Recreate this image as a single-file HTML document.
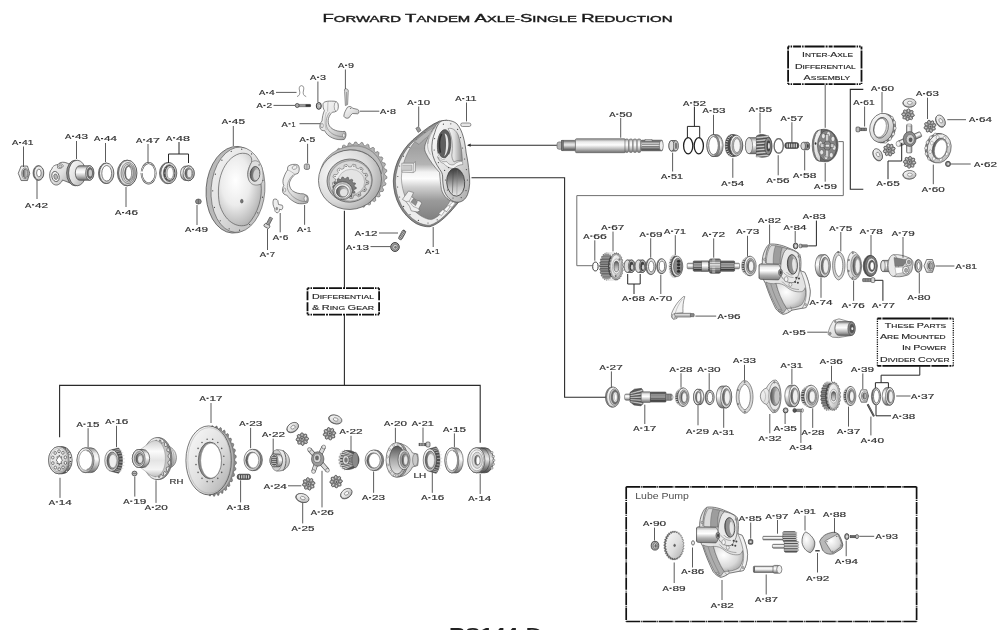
<!DOCTYPE html>
<html><head><meta charset="utf-8"><title>Forward Tandem Axle-Single Reduction</title>
<style>
html,body{margin:0;padding:0;background:#fff;}
body{width:1000px;height:630px;overflow:hidden;font-family:"Liberation Sans",sans-serif;}
svg{display:block;filter:grayscale(1) blur(0.35px);font-family:"Liberation Sans",sans-serif;}
.lb{font-size:7.7px;fill:#333;stroke:#333;stroke-width:0.18;}
.ld{fill:none;stroke:#4a4a4a;stroke-width:0.9;}
.ld2{fill:none;stroke:#262626;stroke-width:1.0;}
.st{fill:none;stroke:#2a2a2a;stroke-width:1.1;}
.st2{fill:none;stroke:#707070;stroke-width:1.0;}
.bx{fill:none;stroke:#111;stroke-width:1.8;stroke-dasharray:17 1.1 1.6 1.1;}
.bt{font-size:7.6px;fill:#333;}
</style></head><body>
<svg width="1000" height="630" viewBox="0 0 1000 630">

<defs>
<linearGradient id="gV" x1="0" y1="0" x2="0" y2="1">
 <stop offset="0" stop-color="#8a8a8a"/><stop offset="0.22" stop-color="#e9e9e9"/><stop offset="0.45" stop-color="#fdfdfd"/>
 <stop offset="0.72" stop-color="#bdbdbd"/><stop offset="1" stop-color="#6e6e6e"/></linearGradient>
<linearGradient id="gVd" x1="0" y1="0" x2="0" y2="1">
 <stop offset="0" stop-color="#5e5e5e"/><stop offset="0.25" stop-color="#c9c9c9"/><stop offset="0.45" stop-color="#ececec"/>
 <stop offset="0.75" stop-color="#8e8e8e"/><stop offset="1" stop-color="#4a4a4a"/></linearGradient>
<linearGradient id="gH" x1="0" y1="0" x2="1" y2="0">
 <stop offset="0" stop-color="#9a9a9a"/><stop offset="0.3" stop-color="#f4f4f4"/><stop offset="0.6" stop-color="#dcdcdc"/>
 <stop offset="1" stop-color="#8c8c8c"/></linearGradient>
<linearGradient id="gF" x1="0" y1="0" x2="1" y2="1">
 <stop offset="0" stop-color="#fbfbfb"/><stop offset="0.55" stop-color="#dedede"/><stop offset="1" stop-color="#a9a9a9"/></linearGradient>
<linearGradient id="gF2" x1="0" y1="0" x2="0" y2="1">
 <stop offset="0" stop-color="#f6f6f6"/><stop offset="0.5" stop-color="#d4d4d4"/><stop offset="1" stop-color="#9c9c9c"/></linearGradient>
<linearGradient id="gHole" x1="0" y1="0" x2="1" y2="0">
 <stop offset="0" stop-color="#5a5a5a"/><stop offset="0.5" stop-color="#9d9d9d"/><stop offset="1" stop-color="#e2e2e2"/></linearGradient>
<linearGradient id="gHoleV" x1="0" y1="0" x2="0" y2="1">
 <stop offset="0" stop-color="#555"/><stop offset="0.5" stop-color="#aaa"/><stop offset="1" stop-color="#e6e6e6"/></linearGradient>
<radialGradient id="gR" cx="0.35" cy="0.35" r="0.8">
 <stop offset="0" stop-color="#ffffff"/><stop offset="0.6" stop-color="#d9d9d9"/><stop offset="1" stop-color="#9a9a9a"/></radialGradient>
<linearGradient id="gBowl" x1="0" y1="0" x2="0" y2="1">
 <stop offset="0" stop-color="#b0b0b0"/><stop offset="0.25" stop-color="#a2a2a2"/><stop offset="0.42" stop-color="#b4b4b4"/><stop offset="0.5" stop-color="#f2f2f2"/><stop offset="0.57" stop-color="#fdfdfd"/>
 <stop offset="0.66" stop-color="#cfcfcf"/><stop offset="0.8" stop-color="#9a9a9a"/><stop offset="1" stop-color="#808080"/></linearGradient>
<linearGradient id="gWeb" x1="0" y1="0" x2="1" y2="0">
 <stop offset="0" stop-color="#fafafa"/><stop offset="0.45" stop-color="#dedede"/><stop offset="1" stop-color="#8c8c8c"/></linearGradient>
<linearGradient id="gHoleD" x1="0" y1="0" x2="0" y2="1">
 <stop offset="0" stop-color="#3c3c3c"/><stop offset="0.35" stop-color="#7a7a7a"/><stop offset="0.7" stop-color="#c4c4c4"/><stop offset="1" stop-color="#e9e9e9"/></linearGradient>
<linearGradient id="gDome" x1="0" y1="0" x2="0" y2="1">
 <stop offset="0" stop-color="#cfcfcf"/><stop offset="0.3" stop-color="#fbfbfb"/><stop offset="0.55" stop-color="#e4e4e4"/><stop offset="0.8" stop-color="#f4f4f4"/><stop offset="1" stop-color="#bdbdbd"/></linearGradient>
<linearGradient id="gVb" x1="0" y1="0" x2="0" y2="1">
 <stop offset="0" stop-color="#a5a5a5"/><stop offset="0.22" stop-color="#f1f1f1"/><stop offset="0.42" stop-color="#ffffff"/>
 <stop offset="0.7" stop-color="#b3b3b3"/><stop offset="1" stop-color="#7d7d7d"/></linearGradient>
<linearGradient id="gFl" x1="0" y1="0" x2="1" y2="1">
 <stop offset="0" stop-color="#f4f4f4"/><stop offset="0.5" stop-color="#dedede"/><stop offset="1" stop-color="#b5b5b5"/></linearGradient>
<radialGradient id="gPl" cx="0.4" cy="0.38" r="0.75">
 <stop offset="0" stop-color="#ffffff"/><stop offset="0.45" stop-color="#ececec"/><stop offset="0.8" stop-color="#bdbdbd"/><stop offset="1" stop-color="#9b9b9b"/></radialGradient>
</defs>
<rect x="0" y="0" width="1000" height="630" fill="#fff"/>
<text x="322.5" y="22.4" textLength="350.0" lengthAdjust="spacingAndGlyphs" font-weight="normal" fill="#1a1a1a" stroke="#1a1a1a" stroke-width="0.4"><tspan font-size="11.8">F</tspan><tspan font-size="9.5">O</tspan><tspan font-size="9.5">R</tspan><tspan font-size="9.5">W</tspan><tspan font-size="9.5">A</tspan><tspan font-size="9.5">R</tspan><tspan font-size="9.5">D</tspan><tspan font-size="9.5"> </tspan><tspan font-size="11.8">T</tspan><tspan font-size="9.5">A</tspan><tspan font-size="9.5">N</tspan><tspan font-size="9.5">D</tspan><tspan font-size="9.5">E</tspan><tspan font-size="9.5">M</tspan><tspan font-size="9.5"> </tspan><tspan font-size="11.8">A</tspan><tspan font-size="9.5">X</tspan><tspan font-size="9.5">L</tspan><tspan font-size="9.5">E</tspan><tspan font-size="9.5">-</tspan><tspan font-size="11.8">S</tspan><tspan font-size="9.5">I</tspan><tspan font-size="9.5">N</tspan><tspan font-size="9.5">G</tspan><tspan font-size="9.5">L</tspan><tspan font-size="9.5">E</tspan><tspan font-size="9.5"> </tspan><tspan font-size="11.8">R</tspan><tspan font-size="9.5">E</tspan><tspan font-size="9.5">D</tspan><tspan font-size="9.5">U</tspan><tspan font-size="9.5">C</tspan><tspan font-size="9.5">T</tspan><tspan font-size="9.5">I</tspan><tspan font-size="9.5">O</tspan><tspan font-size="9.5">N</tspan></text>
<path d="M18.25,173.3 L21.12,166.05 L27.45,166.05 L29.75,173.3 L27.45,180.55 L21.12,180.55 Z" fill="url(#gF)" stroke="#404040" stroke-width="0.7" stroke-linejoin="round" />
<ellipse cx="24.92" cy="173.3" rx="3.3" ry="5.4" fill="#e8e8e8" stroke="#404040" stroke-width="0.49" />
<ellipse cx="25.15" cy="173.3" rx="2.3" ry="4.2" fill="url(#gHole)" stroke="#404040" stroke-width="0.56" />
<ellipse cx="38.3" cy="173" rx="5.2" ry="7.3" fill="#9a9a9a" stroke="#404040" stroke-width="0.7" />
<g>
<ellipse cx="38.9" cy="173" rx="4.9" ry="7.1" fill="url(#gF)" stroke="#404040" stroke-width="0.7" />
<ellipse cx="38.9" cy="173" rx="2.3" ry="3.9" fill="#fff" stroke="#404040" stroke-width="0.63" />
</g>
<path d="M70,164.5 C64,161 60,162 58,164.5 C54,165 52,167 52,169 C49.5,170.5 49,176 50.5,180 C52,184.5 56,186 58.5,184.5 C61,183 62,181.5 62.5,180 L70,183 Z" fill="url(#gF)" stroke="#404040" stroke-width="0.7" stroke-linejoin="round" />
<path d="M57.5,164.8 C60,163 62.5,163.5 63.5,166 C62,168.5 59.5,169 57.5,168 Z" fill="#e9e9e9" stroke="#404040" stroke-width="0.5" stroke-linejoin="round" />
<ellipse cx="55.5" cy="176.5" rx="3.6" ry="5.2" fill="#efefef" stroke="#404040" stroke-width="0.7" transform="rotate(-15 55.5 176.5)" />
<ellipse cx="55.7" cy="176.7" rx="1.8" ry="2.8" fill="#b5b5b5" stroke="#404040" stroke-width="0.5" transform="rotate(-15 55.7 176.7)" />
<ellipse cx="60.3" cy="166.3" rx="1.7" ry="1.4" fill="#cfcfcf" stroke="#404040" stroke-width="0.4" />
<ellipse cx="75.2" cy="173" rx="8.6" ry="12.8" fill="#8f8f8f" stroke="#404040" stroke-width="0.7" />
<ellipse cx="77.2" cy="173" rx="8.6" ry="12.8" fill="url(#gF)" stroke="#404040" stroke-width="0.7" />
<path d="M79.5,165.8 A4.2,7.2 0 0 0 79.5,180.2 L89.7,180.2 A4.2,7.2 0 0 0 89.7,165.8 Z" fill="url(#gV)" stroke="#404040" stroke-width="0.7" stroke-linejoin="round" />
<ellipse cx="89.7" cy="173" rx="4" ry="7.2" fill="#e3e3e3" stroke="#404040" stroke-width="0.7" />
<ellipse cx="89.9" cy="173" rx="2.9" ry="5.6" fill="#6b6b6b" stroke="#404040" stroke-width="0.5" />
<ellipse cx="90.3" cy="173" rx="1.7" ry="3.6" fill="#c9c9c9" stroke="none" stroke-width="0.7" />
<ellipse cx="105.9" cy="173.3" rx="7.4" ry="10.3" fill="#9a9a9a" stroke="#404040" stroke-width="0.7" />
<g>
<ellipse cx="106.7" cy="173.3" rx="7.2" ry="10.2" fill="url(#gF)" stroke="#404040" stroke-width="0.7" />
<ellipse cx="106.7" cy="173.3" rx="4.9" ry="7.8" fill="#fff" stroke="#404040" stroke-width="0.63" />
</g>
<ellipse cx="127" cy="173" rx="9.6" ry="12.9" fill="#a5a5a5" stroke="#404040" stroke-width="0.7" />
<ellipse cx="127.8" cy="173" rx="9.2" ry="12.7" fill="url(#gF)" stroke="#404040" stroke-width="0.7" />
<ellipse cx="128.2" cy="173" rx="7.2" ry="10.6" fill="#d2d2d2" stroke="#404040" stroke-width="0.5" />
<ellipse cx="128.6" cy="173" rx="5.6" ry="8.9" fill="#f1f1f1" stroke="#404040" stroke-width="0.5" />
<ellipse cx="129" cy="173" rx="4.3" ry="7.6" fill="url(#gHole)" stroke="#404040" stroke-width="0.6" />
<ellipse cx="128.6" cy="173" rx="3" ry="6.6" fill="#fff" stroke="#404040" stroke-width="0.5" />
<ellipse cx="148.6" cy="173.2" rx="7" ry="10.2" fill="none" stroke="#555" stroke-width="2" />
<ellipse cx="148.6" cy="173.2" rx="7" ry="10.2" fill="none" stroke="#dcdcdc" stroke-width="0.9" />
<rect x="140.2" y="171.4" width="3.2" height="1.7" rx="0" fill="#fff" stroke="none" stroke-width="0.7" />
<ellipse cx="167.8" cy="173.1" rx="8.3" ry="10.6" fill="#9a9a9a" stroke="#404040" stroke-width="0.7" />
<ellipse cx="168.8" cy="173.1" rx="8" ry="10.5" fill="url(#gF)" stroke="#404040" stroke-width="0.7" />
<ellipse cx="169.3" cy="173.1" rx="5.9" ry="8.4" fill="#4e4e4e" stroke="#404040" stroke-width="0.5" />
<ellipse cx="169.9" cy="173.1" rx="4.6" ry="7.3" fill="#d9d9d9" stroke="#404040" stroke-width="0.4" />
<line x1="174.1" y1="173.1" x2="175.4" y2="173.1" stroke="#ddd" stroke-width="0.5"/>
<line x1="173.24" y1="177.33" x2="174.29" y2="177.98" stroke="#ddd" stroke-width="0.5"/>
<line x1="170.99" y1="179.95" x2="171.39" y2="180.99" stroke="#ddd" stroke-width="0.5"/>
<line x1="168.21" y1="179.95" x2="167.81" y2="180.99" stroke="#ddd" stroke-width="0.5"/>
<line x1="165.96" y1="177.33" x2="164.91" y2="177.98" stroke="#ddd" stroke-width="0.5"/>
<line x1="165.1" y1="173.1" x2="163.8" y2="173.1" stroke="#ddd" stroke-width="0.5"/>
<line x1="165.96" y1="168.87" x2="164.91" y2="168.22" stroke="#ddd" stroke-width="0.5"/>
<line x1="168.21" y1="166.25" x2="167.81" y2="165.21" stroke="#ddd" stroke-width="0.5"/>
<line x1="170.99" y1="166.25" x2="171.39" y2="165.21" stroke="#ddd" stroke-width="0.5"/>
<line x1="173.24" y1="168.87" x2="174.29" y2="168.22" stroke="#ddd" stroke-width="0.5"/>
<ellipse cx="170.2" cy="173.1" rx="3.2" ry="6" fill="#fff" stroke="#404040" stroke-width="0.5" />
<path d="M188.6,165.9 A5.6,7.4 0 0 1 188.6,180.7 L184.6,180.3 A5.2,7.2 0 0 1 184.6,166.3 Z" fill="url(#gV)" stroke="#404040" stroke-width="0.7" stroke-linejoin="round" />
<ellipse cx="188.6" cy="173.3" rx="5.6" ry="7.4" fill="url(#gF)" stroke="#404040" stroke-width="0.7" />
<ellipse cx="188.8" cy="173.3" rx="3.9" ry="5.6" fill="url(#gHole)" stroke="#404040" stroke-width="0.5" />
<ellipse cx="189.4" cy="173.4" rx="2.4" ry="4.2" fill="#e9e9e9" stroke="#404040" stroke-width="0.4" />
<ellipse cx="198.4" cy="201.5" rx="2.9" ry="2.5" fill="#8c8c8c" stroke="#404040" stroke-width="0.6" />
<line x1="198.4" y1="199.2" x2="198.4" y2="203.8" stroke="#444" stroke-width="0.5"/>
<g transform="rotate(4 235.7 189.6)">
<ellipse cx="235" cy="189.8" rx="28.9" ry="43.4" fill="#b9b9b9" stroke="#444" stroke-width="0.7" />
<ellipse cx="238" cy="189.6" rx="26.9" ry="42.7" fill="url(#gFl)" stroke="#555" stroke-width="0.6" />
</g>
<path d="M239.5,153.6 C248,152 253,156 251.5,162.4 C248.5,168 246.5,172.5 248.5,179 C251,185 258,184.6 261,184 C262.6,196 258.5,214 247.5,224.6 C237,229 224,221 219.4,203.6 C215.4,181 223.5,158.6 239.5,153.6 Z" fill="url(#gPl)" stroke="#5a5a5a" stroke-width="0.7" stroke-linejoin="round" />
<path d="M251.5,162.4 C254,159.4 260,160 262,167.6 C263.8,175 263.6,181 261,184 C256,186.4 250,185 248.5,179 C247,173 249,167 251.5,162.4 Z" fill="#dedede" stroke="#666" stroke-width="0.6" stroke-linejoin="round" />
<ellipse cx="255" cy="173.9" rx="4.8" ry="7.4" fill="url(#gHole)" stroke="#3f3f3f" stroke-width="0.8" transform="rotate(5 255 173.9)" />
<ellipse cx="256.2" cy="174.9" rx="3" ry="5.3" fill="#cfcfcf" stroke="none" stroke-width="0.7" transform="rotate(5 256.2 174.9)" />
<ellipse cx="241.8" cy="201.2" rx="1.3" ry="1.9" fill="#777" stroke="#444" stroke-width="0.5" />
<ellipse cx="262.49" cy="197.17" rx="0.6" ry="0.6" fill="#3f3f3f" stroke="none" stroke-width="0.7" />
<ellipse cx="257.8" cy="212.82" rx="0.6" ry="0.6" fill="#3f3f3f" stroke="none" stroke-width="0.7" />
<ellipse cx="249.69" cy="224.49" rx="0.6" ry="0.6" fill="#3f3f3f" stroke="none" stroke-width="0.7" />
<ellipse cx="239.56" cy="230.15" rx="0.6" ry="0.6" fill="#3f3f3f" stroke="none" stroke-width="0.7" />
<ellipse cx="229.15" cy="228.83" rx="0.6" ry="0.6" fill="#3f3f3f" stroke="none" stroke-width="0.7" />
<ellipse cx="220.27" cy="220.75" rx="0.6" ry="0.6" fill="#3f3f3f" stroke="none" stroke-width="0.7" />
<ellipse cx="214.46" cy="207.32" rx="0.6" ry="0.6" fill="#3f3f3f" stroke="none" stroke-width="0.7" />
<ellipse cx="212.72" cy="190.85" rx="0.6" ry="0.6" fill="#3f3f3f" stroke="none" stroke-width="0.7" />
<ellipse cx="215.35" cy="174.19" rx="0.6" ry="0.6" fill="#3f3f3f" stroke="none" stroke-width="0.7" />
<ellipse cx="221.89" cy="160.22" rx="0.6" ry="0.6" fill="#3f3f3f" stroke="none" stroke-width="0.7" />
<ellipse cx="231.22" cy="151.36" rx="0.6" ry="0.6" fill="#3f3f3f" stroke="none" stroke-width="0.7" />
<ellipse cx="241.72" cy="149.15" rx="0.6" ry="0.6" fill="#3f3f3f" stroke="none" stroke-width="0.7" />
<ellipse cx="251.57" cy="153.95" rx="0.6" ry="0.6" fill="#3f3f3f" stroke="none" stroke-width="0.7" />
<ellipse cx="259.08" cy="164.95" rx="0.6" ry="0.6" fill="#3f3f3f" stroke="none" stroke-width="0.7" />
<ellipse cx="262.94" cy="180.23" rx="0.6" ry="0.6" fill="#3f3f3f" stroke="none" stroke-width="0.7" />
<path d="M297,96.6 C299.5,95.8 300.3,93.5 299.6,91 C298.6,88 299.5,85.6 301.5,85.6 C303.5,85.6 304.4,88 303.4,91 C302.7,93.5 303.5,95.8 306.2,96.6" fill="none" stroke="#666" stroke-width="0.7" stroke-linejoin="round" />
<rect x="298" y="104.4" width="12.6" height="2.3" rx="0.6" fill="#9a9a9a" stroke="#444" stroke-width="0.5" />
<rect x="305.6" y="104.4" width="5" height="2.3" rx="0" fill="#333" stroke="none" stroke-width="0.7" />
<ellipse cx="297.2" cy="105.5" rx="1.9" ry="2.1" fill="#aaa" stroke="#333" stroke-width="0.7" />
<ellipse cx="318.8" cy="105.9" rx="2.5" ry="3.4" fill="#bdbdbd" stroke="#3a3a3a" stroke-width="1" />
<ellipse cx="319.1" cy="105.9" rx="1" ry="1.6" fill="#eee" stroke="#555" stroke-width="0.4" />
<path d="M344.6,91.6 C344,89 345,88.6 346.3,88.8 C348,89 348.7,90.5 348.2,92.5 L347.6,104.6 L345.4,105.6 Z" fill="#d8d8d8" stroke="#555" stroke-width="0.6" stroke-linejoin="round" />
<line x1="346.5" y1="92" x2="346.4" y2="104.8" stroke="#666" stroke-width="0.5"/>
<path d="M323,104.5 C323,101.5 327,100.8 334,101.2 C337.5,101.3 338.5,104 338.2,107 C338,110.5 336,112.3 332.4,112.2 C328.6,115.5 326.8,121 329.4,126 C332.4,130 338,132 345,131.4 C346.5,132.6 346.4,137.5 344.2,139.5 C340,140 336,139.6 332.6,138 C328.6,136.4 326,133.6 324.6,130.6 C322.6,131 320.6,130 320,128 C319.4,125.4 320.4,122.6 322,121 C322.4,117 323,113.6 324.4,110.6 C323.4,109 323,107 323,104.5 Z" fill="url(#gF)" stroke="#555" stroke-width="0.7" stroke-linejoin="round" />
<path d="M329.6,112.4 C326,117 325,123.6 327.4,128.6 C330.4,134 337,137 344.6,136.6" fill="none" stroke="#777" stroke-width="0.6" stroke-linejoin="round" />
<path d="M326.4,112 C324.4,118 324.6,125 326.4,130" fill="none" stroke="#999" stroke-width="0.5" stroke-linejoin="round" />
<ellipse cx="336.2" cy="106.5" rx="2" ry="4.6" fill="#f3f3f3" stroke="#666" stroke-width="0.5" />
<ellipse cx="322" cy="125.6" rx="1.3" ry="2.2" fill="#eee" stroke="#666" stroke-width="0.5" />
<ellipse cx="343.8" cy="135.4" rx="1.2" ry="2.2" fill="#eee" stroke="#666" stroke-width="0.5" />
<line x1="328" y1="101.3" x2="327.6" y2="111.6" stroke="#888" stroke-width="0.5"/>
<path d="M347.5,107.2 C349.5,106 351.5,106.4 352.5,108.2 L357.5,109.4 C359.5,110 359.6,113 357.8,113.8 L352.5,113.5 C351,114.5 350.2,116 349.2,117.6 C347.5,119 344.6,118 343.8,116.2 C344,113 345.8,110 347.5,107.2 Z" fill="url(#gF)" stroke="#555" stroke-width="0.7" stroke-linejoin="round" />
<ellipse cx="350.6" cy="108.3" rx="0.7" ry="0.6" fill="#777" stroke="none" stroke-width="0.7" />
<path d="M415.8,128.3 L418.6,126.6 L421.0,130.4 L418.2,132.4 Z" fill="#9a9a9a" stroke="#555" stroke-width="0.6" stroke-linejoin="round" />
<rect x="460.7" y="123" width="10.2" height="3.5" rx="1.7" fill="#e6e6e6" stroke="#666" stroke-width="0.7" />
<rect x="304.3" y="164" width="5.2" height="5.4" rx="1.6" fill="#c9c9c9" stroke="#555" stroke-width="0.7" />
<line x1="306.9" y1="164.3" x2="306.9" y2="169.2" stroke="#666" stroke-width="0.5"/>
<path d="M288,166.4 C290,164.4 295,163.6 298,165 C299.8,167 299.6,171 298,173.4 L295,174.4 C291,178 289,182 289.4,185 C290,188 291.4,190 292.6,190.8 C295.6,193 299.6,194 303.4,193.8 L307.2,195.6 C308.6,197.6 308.6,201 307.4,202.8 C304,204 300,204 297.4,203.4 C293,201.6 289,198.6 286.6,195 C284.6,195 283,193.6 282.6,191.6 C282.2,189.4 282.8,187 283.8,185.6 C282.6,183 282.6,179.6 284,177 C285,174 286.4,171.4 287.6,170 C287.4,168.6 287.6,167.4 288,166.4 Z" fill="url(#gF)" stroke="#555" stroke-width="0.7" stroke-linejoin="round" />
<path d="M293.4,174.6 C288.6,179 286.6,184.6 287.6,189 C289,194 295,199.6 302.6,201.4 L307.4,201.6" fill="none" stroke="#777" stroke-width="0.6" stroke-linejoin="round" />
<path d="M287.6,170 C290,170.6 292.6,172.4 295,174.4" fill="none" stroke="#888" stroke-width="0.5" stroke-linejoin="round" />
<ellipse cx="294.6" cy="167.4" rx="2.6" ry="1.8" fill="#f1f1f1" stroke="#666" stroke-width="0.5" transform="rotate(-25 294.6 167.4)" />
<ellipse cx="305.6" cy="198.6" rx="1.5" ry="2.6" fill="#f1f1f1" stroke="#666" stroke-width="0.5" />
<ellipse cx="284.6" cy="190" rx="1.2" ry="1.9" fill="#eee" stroke="#666" stroke-width="0.5" />
<path d="M273.5,199.5 C275,198.6 277,199 277.8,200.5 L278.5,204.5 L282.2,205.2 C283.2,206.5 282.8,209 281.5,209.8 L279.5,209.2 C279.6,211 278.8,212.6 277.2,212.8 C275.5,212.6 274.6,211 274.8,209 C273,206 272.4,202.5 273.5,199.5 Z" fill="#ededed" stroke="#555" stroke-width="0.7" stroke-linejoin="round" />
<ellipse cx="276.8" cy="208.6" rx="0.9" ry="1.3" fill="#999" stroke="#555" stroke-width="0.4" />
<g transform="rotate(28 268.5 222.5)">
<rect x="267.2" y="217" width="3" height="8.2" rx="0" fill="#b5b5b5" stroke="#444" stroke-width="0.6" />
<line x1="267.2" y1="218.2" x2="270.2" y2="218.9" stroke="#444" stroke-width="0.45"/>
<line x1="267.2" y1="219.7" x2="270.2" y2="220.4" stroke="#444" stroke-width="0.45"/>
<line x1="267.2" y1="221.2" x2="270.2" y2="221.9" stroke="#444" stroke-width="0.45"/>
<line x1="267.2" y1="222.7" x2="270.2" y2="223.4" stroke="#444" stroke-width="0.45"/>
<rect x="265.8" y="224.6" width="5.8" height="3.4" rx="1" fill="#d6d6d6" stroke="#444" stroke-width="0.7" />
</g>
<g transform="rotate(28 402 235)">
<rect x="400.3" y="229.8" width="3.6" height="10.2" rx="1.5" fill="#777" stroke="#3a3a3a" stroke-width="0.7" />
<line x1="400.3" y1="231.4" x2="403.9" y2="232.2" stroke="#ddd" stroke-width="0.6"/>
<line x1="400.3" y1="233.2" x2="403.9" y2="234" stroke="#ddd" stroke-width="0.6"/>
<line x1="400.3" y1="235" x2="403.9" y2="235.8" stroke="#ddd" stroke-width="0.6"/>
<line x1="400.3" y1="236.8" x2="403.9" y2="237.6" stroke="#ddd" stroke-width="0.6"/>
<line x1="400.3" y1="238.6" x2="403.9" y2="239.4" stroke="#ddd" stroke-width="0.6"/>
</g>
<ellipse cx="395" cy="247" rx="4.3" ry="4.5" fill="#9b9b9b" stroke="#3a3a3a" stroke-width="0.9" />
<ellipse cx="395.3" cy="247.2" rx="2.5" ry="2.7" fill="#ddd" stroke="#444" stroke-width="0.5" />
<ellipse cx="395.5" cy="247.3" rx="1.3" ry="1.5" fill="#777" stroke="none" stroke-width="0.7" />
<g>
<path d="M386.96,176.65 L386.84,178.37 L384.44,179.72 L384.18,181.29 L385.98,183.47 L385.53,185.12 L382.93,185.9 L382.36,187.38 L383.71,189.91 L382.95,191.43 L380.26,191.61 L379.42,192.93 L380.25,195.71 L379.21,197.02 L376.55,196.59 L375.47,197.69 L375.75,200.6 L374.49,201.65 L371.96,200.62 L370.7,201.46 L370.41,204.37 L368.97,205.12 L366.7,203.54 L365.3,204.08 L364.46,206.86 L362.91,207.26 L360.99,205.21 L359.52,205.42 L358.17,207.95 L356.57,208 L355.09,205.56 L353.61,205.44 L351.8,207.61 L350.23,207.29 L349.24,204.58 L347.82,204.12 L345.64,205.84 L344.16,205.18 L343.72,202.3 L342.42,201.54 L339.95,202.72 L338.63,201.74 L338.75,198.83 L337.63,197.79 L334.98,198.39 L333.88,197.14 L334.56,194.31 L333.66,193.04 L330.96,193.04 L330.12,191.57 L331.33,188.96 L330.69,187.51 L328.05,186.9 L327.52,185.27 L329.2,182.99 L328.85,181.43 L326.39,180.24 L326.17,178.53 L328.26,176.67 L328.22,175.07 L326.04,173.35 L326.16,171.63 L328.56,170.28 L328.82,168.71 L327.02,166.53 L327.47,164.88 L330.07,164.1 L330.64,162.62 L329.29,160.09 L330.05,158.57 L332.74,158.39 L333.58,157.07 L332.75,154.29 L333.79,152.98 L336.45,153.41 L337.53,152.31 L337.25,149.4 L338.51,148.35 L341.04,149.38 L342.3,148.54 L342.59,145.63 L344.03,144.88 L346.3,146.46 L347.7,145.92 L348.54,143.14 L350.09,142.74 L352.01,144.79 L353.48,144.58 L354.83,142.05 L356.43,142 L357.91,144.44 L359.39,144.56 L361.2,142.39 L362.77,142.71 L363.76,145.42 L365.18,145.88 L367.36,144.16 L368.84,144.82 L369.28,147.7 L370.58,148.46 L373.05,147.28 L374.37,148.26 L374.25,151.17 L375.37,152.21 L378.02,151.61 L379.12,152.86 L378.44,155.69 L379.34,156.96 L382.04,156.96 L382.88,158.43 L381.67,161.04 L382.31,162.49 L384.95,163.1 L385.48,164.73 L383.8,167.01 L384.15,168.57 L386.61,169.76 L386.83,171.47 L384.74,173.33 L384.78,174.93Z" fill="#b4b4b4" stroke="#4a4a4a" stroke-width="0.5" stroke-linejoin="round" />
<ellipse cx="355.5" cy="175.5" rx="27.8" ry="30.2" fill="#c6c6c6" stroke="#777" stroke-width="0.4" />
</g>
<path d="M321.5,167 C327,152 345,143.5 362,146.8 C372.5,149.5 380,158 382.8,168 L381.3,174 C378,160 368,151.5 355,150 C340,149 326.5,157 320.5,171 Z" fill="#bcbcbc" stroke="#666" stroke-width="0.5" stroke-linejoin="round" />
<ellipse cx="350" cy="179.7" rx="31.6" ry="29.7" fill="url(#gR)" stroke="#555" stroke-width="0.7" transform="rotate(-12 350 179.7)" />
<ellipse cx="349.6" cy="180.6" rx="22.6" ry="21.5" fill="#b9b9b9" stroke="#555" stroke-width="0.7" transform="rotate(-12 349.6 180.6)" />
<ellipse cx="350.3" cy="180.9" rx="21.2" ry="20.2" fill="#d9d9d9" stroke="#777" stroke-width="0.5" transform="rotate(-12 350.3 180.9)" />
<path d="M368.8,181.3 L368.74,182.68 L368.56,184.06 L365.44,184.76 L365.1,185.88 L364.66,186.96 L366.72,189.29 L365.98,190.49 L365.15,191.63 L362.04,190.88 L361.19,191.72 L360.27,192.49 L360.94,195.46 L359.7,196.2 L358.4,196.84 L356.02,194.81 L354.85,195.18 L353.66,195.46 L352.79,198.37 L351.33,198.49 L349.87,198.49 L348.76,195.64 L347.54,195.46 L346.35,195.18 L344.15,197.38 L342.8,196.84 L341.5,196.2 L341.92,193.19 L340.93,192.49 L340.01,191.72 L336.98,192.71 L336.05,191.63 L335.22,190.49 L337.06,188.01 L336.54,186.96 L336.1,185.88 L332.93,185.42 L332.64,184.06 L332.46,182.68 L335.31,181.3 L335.36,180.14 L335.51,178.98 L332.93,177.18 L333.34,175.85 L333.86,174.56 L337.06,174.59 L337.68,173.58 L338.38,172.62 L336.98,169.89 L337.99,168.9 L339.09,167.98 L341.92,169.41 L342.96,168.79 L344.05,168.25 L344.15,165.22 L345.54,164.78 L346.96,164.45 L348.76,166.96 L349.98,166.86 L351.22,166.86 L352.79,164.23 L354.24,164.45 L355.66,164.78 L356.02,167.79 L357.15,168.25 L358.24,168.79 L360.94,167.14 L362.11,167.98 L363.21,168.9 L362.04,171.72 L362.82,172.62 L363.52,173.58 L366.72,173.31 L367.34,174.56 L367.86,175.85 L365.44,177.84 L365.69,178.98 L365.84,180.14Z" fill="url(#gF)" stroke="#555" stroke-width="0.5" stroke-linejoin="round" />
<ellipse cx="366.94" cy="182.57" rx="0.7" ry="0.7" fill="#555" stroke="none" stroke-width="0.7" />
<ellipse cx="364.45" cy="189.61" rx="0.7" ry="0.7" fill="#555" stroke="none" stroke-width="0.7" />
<ellipse cx="358.78" cy="194.74" rx="0.7" ry="0.7" fill="#555" stroke="none" stroke-width="0.7" />
<ellipse cx="351.23" cy="196.79" rx="0.7" ry="0.7" fill="#555" stroke="none" stroke-width="0.7" />
<ellipse cx="343.55" cy="195.29" rx="0.7" ry="0.7" fill="#555" stroke="none" stroke-width="0.7" />
<ellipse cx="337.47" cy="190.59" rx="0.7" ry="0.7" fill="#555" stroke="none" stroke-width="0.7" />
<ellipse cx="334.41" cy="183.76" rx="0.7" ry="0.7" fill="#555" stroke="none" stroke-width="0.7" />
<ellipse cx="335.05" cy="176.37" rx="0.7" ry="0.7" fill="#555" stroke="none" stroke-width="0.7" />
<ellipse cx="339.26" cy="170.1" rx="0.7" ry="0.7" fill="#555" stroke="none" stroke-width="0.7" />
<ellipse cx="346.06" cy="166.41" rx="0.7" ry="0.7" fill="#555" stroke="none" stroke-width="0.7" />
<ellipse cx="353.91" cy="166.12" rx="0.7" ry="0.7" fill="#555" stroke="none" stroke-width="0.7" />
<ellipse cx="360.99" cy="169.31" rx="0.7" ry="0.7" fill="#555" stroke="none" stroke-width="0.7" />
<ellipse cx="365.7" cy="175.25" rx="0.7" ry="0.7" fill="#555" stroke="none" stroke-width="0.7" />
<ellipse cx="351.2" cy="181.9" rx="13.4" ry="12.6" fill="#e4e4e4" stroke="#888" stroke-width="0.4" />
<path d="M356.3,187.5 L356.23,188.69 L354.05,189.46 L353.75,190.41 L355.13,192.1 L354.49,193.14 L352.16,192.99 L351.43,193.72 L351.86,195.79 L350.78,196.48 L348.75,195.43 L347.74,195.81 L347.13,197.83 L345.82,198.03 L344.5,196.3 L343.4,196.24 L341.87,197.83 L340.6,197.51 L340.25,195.43 L339.29,194.95 L337.14,195.79 L336.16,195 L336.84,192.99 L336.21,192.18 L333.87,192.1 L333.36,191 L334.95,189.46 L334.77,188.49 L332.7,187.5 L332.77,186.31 L334.95,185.54 L335.25,184.59 L333.87,182.9 L334.51,181.86 L336.84,182.01 L337.57,181.28 L337.14,179.21 L338.22,178.52 L340.25,179.57 L341.26,179.19 L341.87,177.17 L343.18,176.97 L344.5,178.7 L345.6,178.76 L347.13,177.17 L348.4,177.49 L348.75,179.57 L349.71,180.05 L351.86,179.21 L352.84,180 L352.16,182.01 L352.79,182.82 L355.13,182.9 L355.64,184 L354.05,185.54 L354.23,186.51Z" fill="#7e7e7e" stroke="#3f3f3f" stroke-width="0.5" stroke-linejoin="round" />
<ellipse cx="342.6" cy="190.6" rx="9.8" ry="9" fill="#c4c4c4" stroke="#444" stroke-width="0.7" />
<ellipse cx="342.4" cy="191.2" rx="8" ry="7.4" fill="#efefef" stroke="#666" stroke-width="0.5" />
<ellipse cx="342.3" cy="191.6" rx="5.9" ry="5.6" fill="url(#gHole)" stroke="#444" stroke-width="0.7" />
<ellipse cx="343.6" cy="192.6" rx="3.6" ry="3.6" fill="#e2e2e2" stroke="none" stroke-width="0.7" />
<path d="M439.5,121.2 C432,124 425,129.5 418,135.5 C404,146 394,162 393.3,181 C393.5,199 402,215 416,223.5 C421,226 426,227 430,226.7 C440,224 450,213 459.5,201 L462,160 L447,120.2 Z" fill="#8a8a8a" stroke="#444" stroke-width="0.7" stroke-linejoin="round" />
<path d="M440.6,121.6 C433.5,124.5 426.5,130 419.6,136 C406,146.5 396,162.5 395.4,181 C395.6,198.5 403.6,213.5 417,221.8 C421.5,224.3 426,225.4 430,225.2 C439.5,222.5 449,212 458.5,200 L461,160 L447,121 Z" fill="#ececec" stroke="#555" stroke-width="0.5" stroke-linejoin="round" />
<path d="M436,124.5 C428,128.5 420.5,135 414.5,142 C406.5,152 401.6,165 401.4,178 C401.8,192 407,205.5 417.5,213.5 C422,217 427,219.6 431.5,219.6 C436,218.5 440,214.5 444,210.5 L452,198 L441,170 L428,148 Z" fill="url(#gBowl)" stroke="#666" stroke-width="0.5" stroke-linejoin="round" />
<ellipse cx="409.2" cy="147.5" rx="0.6" ry="0.6" fill="#444" stroke="none" stroke-width="0.7" />
<ellipse cx="403.4" cy="156.2" rx="0.6" ry="0.6" fill="#444" stroke="none" stroke-width="0.7" />
<ellipse cx="399.6" cy="166" rx="0.6" ry="0.6" fill="#444" stroke="none" stroke-width="0.7" />
<ellipse cx="397.8" cy="176.5" rx="0.6" ry="0.6" fill="#444" stroke="none" stroke-width="0.7" />
<ellipse cx="397.6" cy="187" rx="0.6" ry="0.6" fill="#444" stroke="none" stroke-width="0.7" />
<ellipse cx="399.6" cy="197" rx="0.6" ry="0.6" fill="#444" stroke="none" stroke-width="0.7" />
<ellipse cx="403.6" cy="206.4" rx="0.6" ry="0.6" fill="#444" stroke="none" stroke-width="0.7" />
<ellipse cx="410" cy="214.6" rx="0.6" ry="0.6" fill="#444" stroke="none" stroke-width="0.7" />
<ellipse cx="418.4" cy="220.4" rx="0.6" ry="0.6" fill="#444" stroke="none" stroke-width="0.7" />
<ellipse cx="428" cy="223" rx="0.6" ry="0.6" fill="#444" stroke="none" stroke-width="0.7" />
<ellipse cx="437.2" cy="219.8" rx="0.6" ry="0.6" fill="#444" stroke="none" stroke-width="0.7" />
<ellipse cx="446.2" cy="211" rx="0.6" ry="0.6" fill="#444" stroke="none" stroke-width="0.7" />
<ellipse cx="416.8" cy="139.8" rx="0.6" ry="0.6" fill="#444" stroke="none" stroke-width="0.7" />
<ellipse cx="425" cy="132.6" rx="0.6" ry="0.6" fill="#444" stroke="none" stroke-width="0.7" />
<path d="M414.5,141.5 C420,136.5 427,131 433.5,127.5 L431.5,134 C427,137 422.5,140.5 419,144.5 Z" fill="#b5b5b5" stroke="#666" stroke-width="0.4" stroke-linejoin="round" />
<path d="M401.8,163.2 L413.5,163.2 L415.4,161.6 L415.4,171.2 L413.2,172.6 L402,172.2 Z" fill="#ebebeb" stroke="#666" stroke-width="0.5" stroke-linejoin="round" />
<path d="M402.5,165.2 L411.8,165.2 L411.8,170.4 L402.2,170.4" fill="#c9c9c9" stroke="#777" stroke-width="0.4" stroke-linejoin="round" />
<path d="M413.5,163.2 L413.2,172.6" fill="none" stroke="#666" stroke-width="0.4" stroke-linejoin="round" />
<path d="M402.4,199.4 L408.5,191 L413.6,192.6 L411.6,196.8 L416.5,200.2 L420.4,201.4 L421.6,203.4 L418.6,209 L420,210.8 L417.2,212 L411.2,210.8 L409.6,206.4 L406,201.6 Z" fill="#efefef" stroke="#555" stroke-width="0.5" stroke-linejoin="round" />
<path d="M411.6,196.8 L409.2,201.2 L413,206.4 L417,208 L418.6,209 M409.2,201.2 L406,201.6" fill="none" stroke="#666" stroke-width="0.45" stroke-linejoin="round" />
<path d="M411,202 L413.5,198.6 L417.4,201.6 L415.6,205.6 Z" fill="#8d8d8d" stroke="#555" stroke-width="0.4" stroke-linejoin="round" />
<path d="M438.8,213.6 l4.2,-4.2 l1.6,1.6 l-3.2,4.6 Z" fill="#fbfbfb" stroke="#555" stroke-width="0.4" stroke-linejoin="round" />
<path d="M444,209.6 l4.2,-4.2 l1.6,1.6 l-3.2,4.6 Z" fill="#fbfbfb" stroke="#555" stroke-width="0.4" stroke-linejoin="round" />
<path d="M449.4,205.4 l4.2,-4.2 l1.6,1.6 l-3.2,4.6 Z" fill="#fbfbfb" stroke="#555" stroke-width="0.4" stroke-linejoin="round" />
<path d="M439.5,121.2 C435,126 430,133 427.2,139.5 C424.6,144.5 424,148.5 425.4,152.2 C429,160 434.6,167 439.6,172.6 C440,178 440.6,184.6 441.4,189.6 C443.5,196.5 449,202 456.7,202.4 L459,200 L447,123 Z" fill="#ededed" stroke="#4a4a4a" stroke-width="0.6" stroke-linejoin="round" />
<path d="M436.2,126 C431.5,132 428.6,138.5 427.6,144 C427.4,148 428.4,151.4 430.4,154.6" fill="none" stroke="#888" stroke-width="0.5" stroke-linejoin="round" />
<path d="M431,131.6 C428.5,136.5 427.8,140 427.6,144" fill="none" stroke="#aaa" stroke-width="1.2" stroke-linejoin="round" />
<path d="M441,121.2 C445,119.6 452,120 456.7,123.6 C460,127.5 462,132 463.3,136.9 C464.8,142 465.6,148 466.2,153.1 C467.6,160 468.6,166 469,172.1 C470.2,180 470,188 467.6,194.4 C465.6,199.5 461.6,202.6 456.7,202.2 C451.5,201.6 447,197.6 444.6,191.6 C443,187 442.6,181 442.6,176 C442.4,173.6 441.4,171.6 439.8,169.6 C436,164 432.6,157.6 431.9,150.4 C431.5,144 432.6,138 434.8,132.6 C436,128 438,123.6 441,121.2 Z" fill="url(#gF)" stroke="#3f3f3f" stroke-width="0.7" stroke-linejoin="round" />
<path d="M443.3,130 C446.5,128.6 449,131.5 450.2,136.5 C451.4,143 450.8,150 448.6,155 C447,158.4 444,160 441.4,158.6 C438.4,156.6 437.2,151 437.4,145 C437.6,138 439.6,132 443.3,130 Z" fill="#5e5e5e" stroke="#3f3f3f" stroke-width="0.7" stroke-linejoin="round" />
<path d="M444.6,133.4 C447,133.6 448.4,138 448.4,143.6 C448.4,149.6 446.8,154.6 444.2,156.6 C446.4,151 446.8,140 444.6,133.4 Z" fill="#e3e3e3" stroke="none" stroke-width="0.7" stroke-linejoin="round" />
<path d="M441.6,134 C439.6,138 439,146 440.4,152.6" fill="none" stroke="#2f2f2f" stroke-width="1.6" stroke-linejoin="round" />
<path d="M438.4,153.6 C439.6,157.6 442.6,159.6 446,158.4 C447.4,157.6 448.6,156 449.4,154.6" fill="none" stroke="#f2f2f2" stroke-width="1.1" stroke-linejoin="round" />
<path d="M448.1,128.6 C452,127.4 456,130 458.2,135 C460.6,142 462,151 462.4,160.7 C459.6,160 456.4,160.6 454,162 C452.6,160 451.8,157.6 451.8,155 C453,147 452.4,136 448.1,128.6 Z" fill="url(#gWeb)" stroke="#555" stroke-width="0.5" stroke-linejoin="round" />
<path d="M437.6,156.6 C439.6,160.6 443,162.6 446.6,161.4 C448,164 451,165.6 454,164.6 C456.4,162 460,161 462.6,161.6 L462.8,164.6 C459,164.6 456,166.4 454,168.6 C450,168.6 446,166.6 443.6,163.4 C441,163 438.6,160.6 437.6,156.6 Z" fill="#f3f3f3" stroke="#666" stroke-width="0.5" stroke-linejoin="round" />
<ellipse cx="455.7" cy="182.2" rx="9" ry="14" fill="url(#gHoleD)" stroke="#3a3a3a" stroke-width="0.8" transform="rotate(-4 455.7 182.2)" />
<line x1="453.2" y1="171.4" x2="452.4" y2="193.4" stroke="#444" stroke-width="0.5"/>
<line x1="457.4" y1="170" x2="456.8" y2="195.4" stroke="#777" stroke-width="0.4"/>
<ellipse cx="443.4" cy="124.2" rx="0.6" ry="0.6" fill="#444" stroke="none" stroke-width="0.7" />
<ellipse cx="450.8" cy="123.8" rx="0.6" ry="0.6" fill="#444" stroke="none" stroke-width="0.7" />
<ellipse cx="457.6" cy="129.4" rx="0.6" ry="0.6" fill="#444" stroke="none" stroke-width="0.7" />
<ellipse cx="460.4" cy="137.6" rx="0.6" ry="0.6" fill="#444" stroke="none" stroke-width="0.7" />
<ellipse cx="462.6" cy="148" rx="0.6" ry="0.6" fill="#444" stroke="none" stroke-width="0.7" />
<ellipse cx="464.6" cy="159" rx="0.6" ry="0.6" fill="#444" stroke="none" stroke-width="0.7" />
<ellipse cx="466.4" cy="169.6" rx="0.6" ry="0.6" fill="#444" stroke="none" stroke-width="0.7" />
<ellipse cx="467.4" cy="180" rx="0.6" ry="0.6" fill="#444" stroke="none" stroke-width="0.7" />
<ellipse cx="466" cy="190.6" rx="0.6" ry="0.6" fill="#444" stroke="none" stroke-width="0.7" />
<ellipse cx="461.2" cy="197.6" rx="0.6" ry="0.6" fill="#444" stroke="none" stroke-width="0.7" />
<ellipse cx="453" cy="198" rx="0.6" ry="0.6" fill="#444" stroke="none" stroke-width="0.7" />
<ellipse cx="447.4" cy="190" rx="0.6" ry="0.6" fill="#444" stroke="none" stroke-width="0.7" />
<ellipse cx="445.4" cy="180" rx="0.6" ry="0.6" fill="#444" stroke="none" stroke-width="0.7" />
<ellipse cx="434.6" cy="138.6" rx="0.6" ry="0.6" fill="#444" stroke="none" stroke-width="0.7" />
<ellipse cx="434.2" cy="150" rx="0.6" ry="0.6" fill="#444" stroke="none" stroke-width="0.7" />
<ellipse cx="438.4" cy="162.6" rx="0.6" ry="0.6" fill="#444" stroke="none" stroke-width="0.7" />
<ellipse cx="444.6" cy="170.4" rx="0.6" ry="0.6" fill="#444" stroke="none" stroke-width="0.7" />
<ellipse cx="448.6" cy="167.6" rx="0.6" ry="0.6" fill="#444" stroke="none" stroke-width="0.7" />
<rect x="557" y="141.9" width="5.5" height="7.4" rx="2.2" fill="#b5b5b5" stroke="#555" stroke-width="0.6" />
<rect x="561.5" y="140.4" width="14.2" height="10.2" rx="1" fill="url(#gVd)" stroke="#4a4a4a" stroke-width="0.6" />
<rect x="561.5" y="140.4" width="2" height="10.2" rx="0" fill="#777" stroke="#4a4a4a" stroke-width="0.4" />
<rect x="575.4" y="138.7" width="50" height="14" rx="1.2" fill="url(#gV)" stroke="#555" stroke-width="0.6" />
<rect x="625" y="138.9" width="3.5" height="13.6" rx="1.4" fill="url(#gV)" stroke="#555" stroke-width="0.55" />
<rect x="629.1" y="138.9" width="3.5" height="13.6" rx="1.4" fill="url(#gV)" stroke="#555" stroke-width="0.55" />
<rect x="633.2" y="138.9" width="3.5" height="13.6" rx="1.4" fill="url(#gV)" stroke="#555" stroke-width="0.55" />
<rect x="637.3" y="138.9" width="3.5" height="13.6" rx="1.4" fill="url(#gV)" stroke="#555" stroke-width="0.55" />
<rect x="641" y="140.2" width="21.5" height="10.6" rx="1" fill="url(#gVd)" stroke="#444" stroke-width="0.6" />
<line x1="642" y1="141.9" x2="660" y2="141.9" stroke="#3a3a3a" stroke-width="0.6"/>
<line x1="642" y1="144.3" x2="660" y2="144.3" stroke="#3a3a3a" stroke-width="0.6"/>
<line x1="642" y1="146.7" x2="660" y2="146.7" stroke="#3a3a3a" stroke-width="0.6"/>
<line x1="642" y1="149.1" x2="660" y2="149.1" stroke="#3a3a3a" stroke-width="0.6"/>
<rect x="645" y="139.6" width="7" height="1.8" rx="0" fill="#bbb" stroke="#555" stroke-width="0.4" />
<ellipse cx="661.3" cy="145.6" rx="2" ry="4.9" fill="#efefef" stroke="#555" stroke-width="0.6" />
<path d="M671.5,140.5 A2.6,5.3 0 0 0 671.5,151.1 L675.7,151.1 A2.6,5.3 0 0 0 675.7,140.5 Z" fill="url(#gV)" stroke="#404040" stroke-width="0.7" stroke-linejoin="round" />
<ellipse cx="671.5" cy="145.8" rx="2.6" ry="5.3" fill="#dedede" stroke="#404040" stroke-width="0.7" />
<ellipse cx="675.8" cy="145.8" rx="2.3" ry="5" fill="#cfcfcf" stroke="#404040" stroke-width="0.5" />
<ellipse cx="676" cy="145.8" rx="1.2" ry="3.2" fill="#777" stroke="none" stroke-width="0.7" />
<ellipse cx="688.2" cy="145.8" rx="4.6" ry="8.1" fill="none" stroke="#222" stroke-width="1.3" />
<ellipse cx="698.8" cy="145.8" rx="4.6" ry="8.1" fill="none" stroke="#222" stroke-width="1.3" />
<path d="M713.2,134.7 A6.3,10.9 0 0 0 713.2,156.5 L716.8,156.5 A6.3,10.9 0 0 0 716.8,134.7 Z" fill="url(#gV)" stroke="#404040" stroke-width="0.7" stroke-linejoin="round" />
<ellipse cx="713.2" cy="145.6" rx="6.3" ry="10.9" fill="url(#gF)" stroke="#404040" stroke-width="0.7" />
<ellipse cx="713.5" cy="145.6" rx="4.8" ry="9.1" fill="#fff" stroke="#404040" stroke-width="0.63" />
<path d="M714.5,136.6 A4.6,9 0 0 1 714.5,154.6" fill="none" stroke="#888" stroke-width="1.6" stroke-linejoin="round" />
<path d="M716.8,134.8 A6.3,10.9 0 0 1 716.8,156.4" fill="none" stroke="#777" stroke-width="0.5" stroke-linejoin="round" />
<path d="M732,134.5 C737.5,134 742.8,139 742.8,145.6 C742.8,152.5 737.5,157.2 732,156.6 C727.5,156 725.3,151.5 725.3,145.6 C725.3,139.5 727.5,135 732,134.5 Z" fill="#4a4a4a" stroke="#333" stroke-width="0.6" stroke-linejoin="round" />
<line x1="730.53" y1="156.07" x2="732.73" y2="154.88" stroke="#cfcfcf" stroke-width="0.9"/>
<line x1="728.98" y1="155.29" x2="731.18" y2="154.19" stroke="#cfcfcf" stroke-width="0.9"/>
<line x1="727.61" y1="153.85" x2="729.81" y2="152.92" stroke="#cfcfcf" stroke-width="0.9"/>
<line x1="726.5" y1="151.86" x2="728.7" y2="151.15" stroke="#cfcfcf" stroke-width="0.9"/>
<line x1="725.72" y1="149.44" x2="727.92" y2="149.01" stroke="#cfcfcf" stroke-width="0.9"/>
<line x1="725.34" y1="146.76" x2="727.54" y2="146.63" stroke="#cfcfcf" stroke-width="0.9"/>
<line x1="725.37" y1="144.01" x2="727.57" y2="144.19" stroke="#cfcfcf" stroke-width="0.9"/>
<line x1="725.82" y1="141.36" x2="728.02" y2="141.84" stroke="#cfcfcf" stroke-width="0.9"/>
<line x1="726.65" y1="139" x2="728.85" y2="139.75" stroke="#cfcfcf" stroke-width="0.9"/>
<line x1="727.81" y1="137.08" x2="730.01" y2="138.05" stroke="#cfcfcf" stroke-width="0.9"/>
<line x1="729.22" y1="135.74" x2="731.42" y2="136.86" stroke="#cfcfcf" stroke-width="0.9"/>
<line x1="730.78" y1="135.07" x2="732.98" y2="136.26" stroke="#cfcfcf" stroke-width="0.9"/>
<ellipse cx="736.3" cy="145.6" rx="6.3" ry="10.4" fill="url(#gF)" stroke="#444" stroke-width="0.6" />
<ellipse cx="736.6" cy="145.6" rx="4.6" ry="8.4" fill="#bdbdbd" stroke="#555" stroke-width="0.5" />
<ellipse cx="736.9" cy="145.6" rx="3.4" ry="7" fill="#f4f4f4" stroke="#555" stroke-width="0.5" />
<path d="M749,137.7 A3.6,8 0 0 0 749,153.7 L757,153.7 A3.6,8 0 0 0 757,137.7 Z" fill="url(#gV)" stroke="#404040" stroke-width="0.7" stroke-linejoin="round" />
<ellipse cx="749" cy="145.7" rx="3.6" ry="8" fill="#e2e2e2" stroke="#404040" stroke-width="0.5" />
<path d="M756.5,136 C760,133.5 766,134 769.5,137.5 C772.5,141 773,150 770,154.5 C767,158 760,158 756.5,155.5 Z" fill="#555" stroke="#3a3a3a" stroke-width="0.6" stroke-linejoin="round" />
<path d="M756.2,136.8 L768.5,135.6 L769,137.4 L756.2,138.4 Z" fill="#d6d6d6" stroke="#444" stroke-width="0.35" stroke-linejoin="round" />
<path d="M756.2,139.9 L768.5,138.7 L769,140.5 L756.2,141.5 Z" fill="#d6d6d6" stroke="#444" stroke-width="0.35" stroke-linejoin="round" />
<path d="M756.2,143 L768.5,141.8 L769,143.6 L756.2,144.6 Z" fill="#d6d6d6" stroke="#444" stroke-width="0.35" stroke-linejoin="round" />
<path d="M756.2,146.1 L768.5,144.9 L769,146.7 L756.2,147.7 Z" fill="#d6d6d6" stroke="#444" stroke-width="0.35" stroke-linejoin="round" />
<path d="M756.2,149.2 L768.5,148 L769,149.8 L756.2,150.8 Z" fill="#d6d6d6" stroke="#444" stroke-width="0.35" stroke-linejoin="round" />
<path d="M756.2,152.3 L768.5,151.1 L769,152.9 L756.2,153.9 Z" fill="#d6d6d6" stroke="#444" stroke-width="0.35" stroke-linejoin="round" />
<path d="M756.2,155.4 L768.5,154.2 L769,156 L756.2,157 Z" fill="#d6d6d6" stroke="#444" stroke-width="0.35" stroke-linejoin="round" />
<ellipse cx="768.2" cy="146" rx="3.6" ry="8.6" fill="#8a8a8a" stroke="#3a3a3a" stroke-width="0.5" />
<ellipse cx="768.5" cy="146" rx="2" ry="5.4" fill="#444" stroke="none" stroke-width="0.7" />
<ellipse cx="768.9" cy="146" rx="1" ry="3.2" fill="#ddd" stroke="none" stroke-width="0.7" />
<ellipse cx="778.7" cy="145.9" rx="4.6" ry="7.3" fill="none" stroke="#444" stroke-width="1.2" />
<ellipse cx="778.7" cy="145.9" rx="4.6" ry="7.3" fill="none" stroke="#bbb" stroke-width="0.4" />
<rect x="784.8" y="142.5" width="14" height="6" rx="2.6" fill="#4a4a4a" stroke="#3a3a3a" stroke-width="0.6" />
<rect x="786.6" y="143.4" width="1.2" height="4.2" rx="0.5" fill="#d5d5d5" stroke="none" stroke-width="0.7" />
<rect x="788.9" y="143.4" width="1.2" height="4.2" rx="0.5" fill="#d5d5d5" stroke="none" stroke-width="0.7" />
<rect x="791.2" y="143.4" width="1.2" height="4.2" rx="0.5" fill="#d5d5d5" stroke="none" stroke-width="0.7" />
<rect x="793.5" y="143.4" width="1.2" height="4.2" rx="0.5" fill="#d5d5d5" stroke="none" stroke-width="0.7" />
<rect x="795.8" y="143.4" width="1.2" height="4.2" rx="0.5" fill="#d5d5d5" stroke="none" stroke-width="0.7" />
<path d="M803.2,142.3 A2.2,3.7 0 0 0 803.2,149.7 L807.4,149.7 A2.2,3.7 0 0 0 807.4,142.3 Z" fill="url(#gV)" stroke="#404040" stroke-width="0.7" stroke-linejoin="round" />
<ellipse cx="803.2" cy="146" rx="2.2" ry="3.7" fill="#d9d9d9" stroke="#404040" stroke-width="0.5" />
<ellipse cx="807.6" cy="146" rx="2.2" ry="3.7" fill="#9a9a9a" stroke="#404040" stroke-width="0.5" />
<ellipse cx="807.8" cy="146" rx="1" ry="1.9" fill="#444" stroke="none" stroke-width="0.7" />
<ellipse cx="819.2" cy="145.6" rx="7" ry="15.6" fill="#8e8e8e" stroke="#444" stroke-width="0.6" />
<ellipse cx="820.6" cy="145.6" rx="7" ry="15.9" fill="url(#gF)" stroke="#444" stroke-width="0.6" />
<path d="M821,129.6 C829,127.8 836,133 837.8,142 C839,151 835,159.5 828,161.6 C825,162 822,161.5 820.5,161 Z" fill="#6a6a6a" stroke="#3a3a3a" stroke-width="0.6" stroke-linejoin="round" />
<ellipse cx="827" cy="145.6" rx="9.6" ry="15.2" fill="#858585" stroke="#3a3a3a" stroke-width="0.5" />
<ellipse cx="834.1" cy="147.61" rx="1.9" ry="2.6" fill="#e4e4e4" stroke="#444" stroke-width="0.4" />
<ellipse cx="831.26" cy="155.1" rx="1.9" ry="2.6" fill="#e4e4e4" stroke="#444" stroke-width="0.4" />
<ellipse cx="826.1" cy="157.02" rx="1.9" ry="2.6" fill="#e4e4e4" stroke="#444" stroke-width="0.4" />
<ellipse cx="821.65" cy="152.25" rx="1.9" ry="2.6" fill="#e4e4e4" stroke="#444" stroke-width="0.4" />
<ellipse cx="820.5" cy="143.59" rx="1.9" ry="2.6" fill="#e4e4e4" stroke="#444" stroke-width="0.4" />
<ellipse cx="823.34" cy="136.1" rx="1.9" ry="2.6" fill="#e4e4e4" stroke="#444" stroke-width="0.4" />
<ellipse cx="828.5" cy="134.18" rx="1.9" ry="2.6" fill="#e4e4e4" stroke="#444" stroke-width="0.4" />
<ellipse cx="832.95" cy="138.95" rx="1.9" ry="2.6" fill="#e4e4e4" stroke="#444" stroke-width="0.4" />
<rect x="825.6" y="134.5" width="3.2" height="22.5" rx="0" fill="#cfcfcf" stroke="#444" stroke-width="0.4" />
<rect x="820.5" y="143.9" width="13.4" height="3.4" rx="0" fill="#cfcfcf" stroke="#444" stroke-width="0.4" />
<ellipse cx="827.3" cy="145.6" rx="3.4" ry="4.6" fill="#8a8a8a" stroke="#3a3a3a" stroke-width="0.5" />
<rect x="825.3" y="144.2" width="4.2" height="2.8" rx="0" fill="#e5e5e5" stroke="#444" stroke-width="0.4" />
<ellipse cx="815.6" cy="143.5" rx="0.9" ry="1.2" fill="#333" stroke="none" stroke-width="0.7" />
<rect x="859.5" y="128" width="7.2" height="2.8" rx="0" fill="#8a8a8a" stroke="#3a3a3a" stroke-width="0.5" />
<line x1="861.5" y1="128" x2="861.5" y2="130.8" stroke="#333" stroke-width="0.4"/>
<line x1="863.1" y1="128" x2="863.1" y2="130.8" stroke="#333" stroke-width="0.4"/>
<line x1="864.7" y1="128" x2="864.7" y2="130.8" stroke="#333" stroke-width="0.4"/>
<rect x="856" y="127" width="3.8" height="4.8" rx="1" fill="#bdbdbd" stroke="#333" stroke-width="0.6" />
<g transform="rotate(14 881.6 127.9)">
<ellipse cx="883.8" cy="127.9" rx="11.6" ry="14.8" fill="#8f8f8f" stroke="#444" stroke-width="0.6" />
<ellipse cx="888.98" cy="115.89" rx="1.5" ry="1.8" fill="#e6e6e6" stroke="#555" stroke-width="0.4" />
<ellipse cx="892.47" cy="119.72" rx="1.5" ry="1.8" fill="#e6e6e6" stroke="#555" stroke-width="0.4" />
<ellipse cx="894.37" cy="125.07" rx="1.5" ry="1.8" fill="#e6e6e6" stroke="#555" stroke-width="0.4" />
<ellipse cx="894.33" cy="130.96" rx="1.5" ry="1.8" fill="#e6e6e6" stroke="#555" stroke-width="0.4" />
<ellipse cx="892.35" cy="136.27" rx="1.5" ry="1.8" fill="#e6e6e6" stroke="#555" stroke-width="0.4" />
<ellipse cx="888.81" cy="140.02" rx="1.5" ry="1.8" fill="#e6e6e6" stroke="#555" stroke-width="0.4" />
<ellipse cx="881.6" cy="127.9" rx="11.8" ry="14.8" fill="url(#gF)" stroke="#444" stroke-width="0.6" />
<ellipse cx="881" cy="127.9" rx="7.2" ry="10.6" fill="url(#gHole)" stroke="#444" stroke-width="0.6" />
<ellipse cx="880.2" cy="128.2" rx="5.9" ry="9.6" fill="#fff" stroke="#666" stroke-width="0.5" />
</g>
<g transform="rotate(14 939.2 148.4)">
<ellipse cx="937" cy="148.4" rx="11.6" ry="14.8" fill="#8f8f8f" stroke="#444" stroke-width="0.6" />
<ellipse cx="931.82" cy="160.41" rx="1.5" ry="1.8" fill="#e6e6e6" stroke="#555" stroke-width="0.4" />
<ellipse cx="928.33" cy="156.58" rx="1.5" ry="1.8" fill="#e6e6e6" stroke="#555" stroke-width="0.4" />
<ellipse cx="926.43" cy="151.23" rx="1.5" ry="1.8" fill="#e6e6e6" stroke="#555" stroke-width="0.4" />
<ellipse cx="926.47" cy="145.34" rx="1.5" ry="1.8" fill="#e6e6e6" stroke="#555" stroke-width="0.4" />
<ellipse cx="928.45" cy="140.03" rx="1.5" ry="1.8" fill="#e6e6e6" stroke="#555" stroke-width="0.4" />
<ellipse cx="931.99" cy="136.28" rx="1.5" ry="1.8" fill="#e6e6e6" stroke="#555" stroke-width="0.4" />
<ellipse cx="939.2" cy="148.4" rx="11.8" ry="14.8" fill="url(#gF)" stroke="#444" stroke-width="0.6" />
<ellipse cx="947.7" cy="151.83" rx="1.5" ry="1.9" fill="#f7f7f7" stroke="#666" stroke-width="0.4" />
<ellipse cx="943.35" cy="158.66" rx="1.5" ry="1.9" fill="#f7f7f7" stroke="#666" stroke-width="0.4" />
<ellipse cx="936.57" cy="159.48" rx="1.5" ry="1.9" fill="#f7f7f7" stroke="#666" stroke-width="0.4" />
<ellipse cx="931.33" cy="153.81" rx="1.5" ry="1.9" fill="#f7f7f7" stroke="#666" stroke-width="0.4" />
<ellipse cx="930.7" cy="144.97" rx="1.5" ry="1.9" fill="#f7f7f7" stroke="#666" stroke-width="0.4" />
<ellipse cx="935.05" cy="138.14" rx="1.5" ry="1.9" fill="#f7f7f7" stroke="#666" stroke-width="0.4" />
<ellipse cx="941.83" cy="137.32" rx="1.5" ry="1.9" fill="#f7f7f7" stroke="#666" stroke-width="0.4" />
<ellipse cx="947.07" cy="142.99" rx="1.5" ry="1.9" fill="#f7f7f7" stroke="#666" stroke-width="0.4" />
<ellipse cx="939.8" cy="148.4" rx="7.2" ry="10.6" fill="url(#gHole)" stroke="#444" stroke-width="0.6" />
<ellipse cx="940.6" cy="148.7" rx="5.9" ry="9.6" fill="#fff" stroke="#666" stroke-width="0.5" />
</g>
<g>
<ellipse cx="909.1" cy="103.1" rx="6.4" ry="4.2" fill="#8c8c8c" stroke="#404040" stroke-width="0.5" />
<ellipse cx="909.6" cy="102.8" rx="6.4" ry="4.2" fill="url(#gF)" stroke="#404040" stroke-width="0.6" />
<ellipse cx="909.8" cy="102.8" rx="2.43" ry="1.6" fill="#f6f6f6" stroke="#555" stroke-width="0.5" />
</g>
<g>
<ellipse cx="909.1" cy="175" rx="6.4" ry="4.2" fill="#8c8c8c" stroke="#404040" stroke-width="0.5" />
<ellipse cx="909.6" cy="174.7" rx="6.4" ry="4.2" fill="url(#gF)" stroke="#404040" stroke-width="0.6" />
<ellipse cx="909.8" cy="174.7" rx="2.43" ry="1.6" fill="#f6f6f6" stroke="#555" stroke-width="0.5" />
</g>
<g transform="rotate(-28 940.6 120.9)">
<ellipse cx="940.1" cy="121.2" rx="4.2" ry="6.3" fill="#8c8c8c" stroke="#404040" stroke-width="0.5" />
<ellipse cx="940.6" cy="120.9" rx="4.2" ry="6.3" fill="url(#gF)" stroke="#404040" stroke-width="0.6" />
<ellipse cx="940.8" cy="120.9" rx="1.6" ry="2.39" fill="#f6f6f6" stroke="#555" stroke-width="0.5" />
</g>
<g transform="rotate(-28 877.8 154.6)">
<ellipse cx="877.3" cy="154.9" rx="4.2" ry="6.3" fill="#8c8c8c" stroke="#404040" stroke-width="0.5" />
<ellipse cx="877.8" cy="154.6" rx="4.2" ry="6.3" fill="url(#gF)" stroke="#404040" stroke-width="0.6" />
<ellipse cx="878" cy="154.6" rx="1.6" ry="2.39" fill="#f6f6f6" stroke="#555" stroke-width="0.5" />
</g>
<g transform="rotate(90 908 114.8)">
<path d="M914,114.8 L913.88,116.04 L912.67,116.85 L912.2,117.77 L912.24,119.29 L911.33,120.08 L909.93,119.74 L908.99,120.05 L908,121.15 L906.83,121.03 L906.07,119.74 L905.19,119.25 L903.76,119.29 L903.01,118.33 L903.33,116.85 L903.04,115.84 L902,114.8 L902.12,113.56 L903.33,112.75 L903.8,111.83 L903.76,110.31 L904.67,109.52 L906.07,109.86 L907.01,109.55 L908,108.45 L909.17,108.57 L909.93,109.86 L910.81,110.35 L912.24,110.31 L912.99,111.27 L912.67,112.75 L912.96,113.76Z" fill="#5a5a5a" stroke="#333" stroke-width="0.45" stroke-linejoin="round" />
<ellipse cx="908" cy="114.8" rx="4.8" ry="5.08" fill="#7c7c7c" stroke="none" stroke-width="0.7" />
<ellipse cx="912.18" cy="115.24" rx="1.5" ry="0.85" fill="#d6d6d6" stroke="#555" stroke-width="0.25" transform="rotate(5.62 912.18 115.24)" />
<ellipse cx="910.66" cy="118.24" rx="1.5" ry="0.85" fill="#d6d6d6" stroke="#555" stroke-width="0.25" transform="rotate(50.62 910.66 118.24)" />
<ellipse cx="907.59" cy="119.22" rx="1.5" ry="0.85" fill="#d6d6d6" stroke="#555" stroke-width="0.25" transform="rotate(95.62 907.59 119.22)" />
<ellipse cx="904.75" cy="117.62" rx="1.5" ry="0.85" fill="#d6d6d6" stroke="#555" stroke-width="0.25" transform="rotate(140.62 904.75 117.62)" />
<ellipse cx="903.82" cy="114.36" rx="1.5" ry="0.85" fill="#d6d6d6" stroke="#555" stroke-width="0.25" transform="rotate(185.62 903.82 114.36)" />
<ellipse cx="905.34" cy="111.36" rx="1.5" ry="0.85" fill="#d6d6d6" stroke="#555" stroke-width="0.25" transform="rotate(230.62 905.34 111.36)" />
<ellipse cx="908.41" cy="110.38" rx="1.5" ry="0.85" fill="#d6d6d6" stroke="#555" stroke-width="0.25" transform="rotate(275.62 908.41 110.38)" />
<ellipse cx="911.25" cy="111.98" rx="1.5" ry="0.85" fill="#d6d6d6" stroke="#555" stroke-width="0.25" transform="rotate(320.62 911.25 111.98)" />
<ellipse cx="908.3" cy="114.8" rx="2.04" ry="2.16" fill="#b0b0b0" stroke="#3a3a3a" stroke-width="0.4" />
<ellipse cx="908.5" cy="114.9" rx="0.9" ry="0.95" fill="#555" stroke="none" stroke-width="0.7" />
</g>
<g transform="rotate(-90 909.6 162.3)">
<path d="M915.6,162.3 L915.48,163.54 L914.27,164.35 L913.8,165.27 L913.84,166.79 L912.93,167.58 L911.53,167.24 L910.59,167.55 L909.6,168.65 L908.43,168.53 L907.67,167.24 L906.79,166.75 L905.36,166.79 L904.61,165.83 L904.93,164.35 L904.64,163.34 L903.6,162.3 L903.72,161.06 L904.93,160.25 L905.4,159.33 L905.36,157.81 L906.27,157.02 L907.67,157.36 L908.61,157.05 L909.6,155.95 L910.77,156.07 L911.53,157.36 L912.41,157.85 L913.84,157.81 L914.59,158.77 L914.27,160.25 L914.56,161.26Z" fill="#5a5a5a" stroke="#333" stroke-width="0.45" stroke-linejoin="round" />
<ellipse cx="909.6" cy="162.3" rx="4.8" ry="5.08" fill="#7c7c7c" stroke="none" stroke-width="0.7" />
<ellipse cx="913.78" cy="162.74" rx="1.5" ry="0.85" fill="#d6d6d6" stroke="#555" stroke-width="0.25" transform="rotate(5.62 913.78 162.74)" />
<ellipse cx="912.26" cy="165.74" rx="1.5" ry="0.85" fill="#d6d6d6" stroke="#555" stroke-width="0.25" transform="rotate(50.62 912.26 165.74)" />
<ellipse cx="909.19" cy="166.72" rx="1.5" ry="0.85" fill="#d6d6d6" stroke="#555" stroke-width="0.25" transform="rotate(95.62 909.19 166.72)" />
<ellipse cx="906.35" cy="165.12" rx="1.5" ry="0.85" fill="#d6d6d6" stroke="#555" stroke-width="0.25" transform="rotate(140.62 906.35 165.12)" />
<ellipse cx="905.42" cy="161.86" rx="1.5" ry="0.85" fill="#d6d6d6" stroke="#555" stroke-width="0.25" transform="rotate(185.62 905.42 161.86)" />
<ellipse cx="906.94" cy="158.86" rx="1.5" ry="0.85" fill="#d6d6d6" stroke="#555" stroke-width="0.25" transform="rotate(230.62 906.94 158.86)" />
<ellipse cx="910.01" cy="157.88" rx="1.5" ry="0.85" fill="#d6d6d6" stroke="#555" stroke-width="0.25" transform="rotate(275.62 910.01 157.88)" />
<ellipse cx="912.85" cy="159.48" rx="1.5" ry="0.85" fill="#d6d6d6" stroke="#555" stroke-width="0.25" transform="rotate(320.62 912.85 159.48)" />
<ellipse cx="909.9" cy="162.3" rx="2.04" ry="2.16" fill="#b0b0b0" stroke="#3a3a3a" stroke-width="0.4" />
<ellipse cx="910.1" cy="162.4" rx="0.9" ry="0.95" fill="#555" stroke="none" stroke-width="0.7" />
</g>
<g transform="rotate(25 930 126.4)">
<path d="M936,126.4 L935.88,127.64 L934.67,128.45 L934.2,129.37 L934.24,130.89 L933.33,131.68 L931.93,131.34 L930.99,131.65 L930,132.75 L928.83,132.63 L928.07,131.34 L927.19,130.85 L925.76,130.89 L925.01,129.93 L925.33,128.45 L925.04,127.44 L924,126.4 L924.12,125.16 L925.33,124.35 L925.8,123.43 L925.76,121.91 L926.67,121.12 L928.07,121.46 L929.01,121.15 L930,120.05 L931.17,120.17 L931.93,121.46 L932.81,121.95 L934.24,121.91 L934.99,122.87 L934.67,124.35 L934.96,125.36Z" fill="#5a5a5a" stroke="#333" stroke-width="0.45" stroke-linejoin="round" />
<ellipse cx="930" cy="126.4" rx="4.8" ry="5.08" fill="#7c7c7c" stroke="none" stroke-width="0.7" />
<ellipse cx="934.18" cy="126.84" rx="1.5" ry="0.85" fill="#d6d6d6" stroke="#555" stroke-width="0.25" transform="rotate(5.62 934.18 126.84)" />
<ellipse cx="932.66" cy="129.84" rx="1.5" ry="0.85" fill="#d6d6d6" stroke="#555" stroke-width="0.25" transform="rotate(50.62 932.66 129.84)" />
<ellipse cx="929.59" cy="130.82" rx="1.5" ry="0.85" fill="#d6d6d6" stroke="#555" stroke-width="0.25" transform="rotate(95.62 929.59 130.82)" />
<ellipse cx="926.75" cy="129.22" rx="1.5" ry="0.85" fill="#d6d6d6" stroke="#555" stroke-width="0.25" transform="rotate(140.62 926.75 129.22)" />
<ellipse cx="925.82" cy="125.96" rx="1.5" ry="0.85" fill="#d6d6d6" stroke="#555" stroke-width="0.25" transform="rotate(185.62 925.82 125.96)" />
<ellipse cx="927.34" cy="122.96" rx="1.5" ry="0.85" fill="#d6d6d6" stroke="#555" stroke-width="0.25" transform="rotate(230.62 927.34 122.96)" />
<ellipse cx="930.41" cy="121.98" rx="1.5" ry="0.85" fill="#d6d6d6" stroke="#555" stroke-width="0.25" transform="rotate(275.62 930.41 121.98)" />
<ellipse cx="933.25" cy="123.58" rx="1.5" ry="0.85" fill="#d6d6d6" stroke="#555" stroke-width="0.25" transform="rotate(320.62 933.25 123.58)" />
<ellipse cx="930.3" cy="126.4" rx="2.04" ry="2.16" fill="#b0b0b0" stroke="#3a3a3a" stroke-width="0.4" />
<ellipse cx="930.5" cy="126.5" rx="0.9" ry="0.95" fill="#555" stroke="none" stroke-width="0.7" />
</g>
<g transform="rotate(205 889.2 149.9)">
<path d="M895.2,149.9 L895.08,151.14 L893.87,151.95 L893.4,152.87 L893.44,154.39 L892.53,155.18 L891.13,154.84 L890.19,155.15 L889.2,156.25 L888.03,156.13 L887.27,154.84 L886.39,154.35 L884.96,154.39 L884.21,153.43 L884.53,151.95 L884.24,150.94 L883.2,149.9 L883.32,148.66 L884.53,147.85 L885,146.93 L884.96,145.41 L885.87,144.62 L887.27,144.96 L888.21,144.65 L889.2,143.55 L890.37,143.67 L891.13,144.96 L892.01,145.45 L893.44,145.41 L894.19,146.37 L893.87,147.85 L894.16,148.86Z" fill="#5a5a5a" stroke="#333" stroke-width="0.45" stroke-linejoin="round" />
<ellipse cx="889.2" cy="149.9" rx="4.8" ry="5.08" fill="#7c7c7c" stroke="none" stroke-width="0.7" />
<ellipse cx="893.38" cy="150.34" rx="1.5" ry="0.85" fill="#d6d6d6" stroke="#555" stroke-width="0.25" transform="rotate(5.62 893.38 150.34)" />
<ellipse cx="891.86" cy="153.34" rx="1.5" ry="0.85" fill="#d6d6d6" stroke="#555" stroke-width="0.25" transform="rotate(50.62 891.86 153.34)" />
<ellipse cx="888.79" cy="154.32" rx="1.5" ry="0.85" fill="#d6d6d6" stroke="#555" stroke-width="0.25" transform="rotate(95.62 888.79 154.32)" />
<ellipse cx="885.95" cy="152.72" rx="1.5" ry="0.85" fill="#d6d6d6" stroke="#555" stroke-width="0.25" transform="rotate(140.62 885.95 152.72)" />
<ellipse cx="885.02" cy="149.46" rx="1.5" ry="0.85" fill="#d6d6d6" stroke="#555" stroke-width="0.25" transform="rotate(185.62 885.02 149.46)" />
<ellipse cx="886.54" cy="146.46" rx="1.5" ry="0.85" fill="#d6d6d6" stroke="#555" stroke-width="0.25" transform="rotate(230.62 886.54 146.46)" />
<ellipse cx="889.61" cy="145.48" rx="1.5" ry="0.85" fill="#d6d6d6" stroke="#555" stroke-width="0.25" transform="rotate(275.62 889.61 145.48)" />
<ellipse cx="892.45" cy="147.08" rx="1.5" ry="0.85" fill="#d6d6d6" stroke="#555" stroke-width="0.25" transform="rotate(320.62 892.45 147.08)" />
<ellipse cx="889.5" cy="149.9" rx="2.04" ry="2.16" fill="#b0b0b0" stroke="#3a3a3a" stroke-width="0.4" />
<ellipse cx="889.7" cy="150" rx="0.9" ry="0.95" fill="#555" stroke="none" stroke-width="0.7" />
</g>
<g>
<rect x="906.5" y="124.5" width="5.4" height="28.4" rx="1.2" fill="url(#gH)" stroke="#444" stroke-width="0.55" />
<ellipse cx="909.2" cy="125" rx="2.7" ry="1.1" fill="#eee" stroke="#555" stroke-width="0.4" />
<g transform="rotate(-24 909.6 139)">
<rect x="897.2" y="136.3" width="24.8" height="5.4" rx="1.2" fill="url(#gV)" stroke="#444" stroke-width="0.55" />
</g>
<ellipse cx="909.6" cy="139" rx="6.4" ry="7.4" fill="#8b8b8b" stroke="#3a3a3a" stroke-width="0.6" />
<ellipse cx="910.2" cy="139.4" rx="4" ry="4.8" fill="#cfcfcf" stroke="#444" stroke-width="0.45" />
<ellipse cx="910.6" cy="139.8" rx="1.9" ry="2.4" fill="#5c5c5c" stroke="none" stroke-width="0.7" />
<ellipse cx="898.3" cy="143.8" rx="2.2" ry="2.7" fill="#f1f1f1" stroke="#555" stroke-width="0.5" />
</g>
<ellipse cx="948" cy="163.9" rx="2.5" ry="2.6" fill="#8a8a8a" stroke="#3a3a3a" stroke-width="0.8" />
<ellipse cx="948.2" cy="164" rx="1" ry="1.1" fill="#ddd" stroke="none" stroke-width="0.7" />
<ellipse cx="595.4" cy="266.5" rx="2.7" ry="4.4" fill="none" stroke="#222" stroke-width="0.9" />
<path d="M613.9,266.5 L613.88,267.4 L613.17,268.13 L613.1,268.94 L613.65,270.07 L613.52,270.94 L612.73,271.28 L612.55,272.03 L612.94,273.4 L612.69,274.17 L611.87,274.11 L611.6,274.74 L611.79,276.26 L611.45,276.88 L610.67,276.42 L610.32,276.89 L610.3,278.45 L609.88,278.88 L609.2,278.05 L608.8,278.34 L608.56,279.83 L608.1,280.03 L607.55,278.89 L607.13,278.97 L606.7,280.3 L606.23,280.27 L605.85,278.89 L605.43,278.76 L604.84,279.83 L604.39,279.57 L604.2,278.05 L603.82,277.71 L603.1,278.45 L602.7,277.97 L602.73,276.42 L602.4,275.9 L601.61,276.26 L601.29,275.6 L601.53,274.11 L601.28,273.44 L600.46,273.4 L600.24,272.6 L600.67,271.28 L600.52,270.52 L599.75,270.07 L599.64,269.19 L600.23,268.13 L600.19,267.32 L599.5,266.5 L599.52,265.6 L600.23,264.87 L600.3,264.06 L599.75,262.93 L599.88,262.06 L600.67,261.72 L600.85,260.97 L600.46,259.6 L600.71,258.83 L601.53,258.89 L601.8,258.26 L601.61,256.74 L601.95,256.12 L602.73,256.58 L603.08,256.11 L603.1,254.55 L603.52,254.12 L604.2,254.95 L604.6,254.66 L604.84,253.17 L605.3,252.97 L605.85,254.11 L606.27,254.03 L606.7,252.7 L607.17,252.73 L607.55,254.11 L607.97,254.24 L608.56,253.17 L609.01,253.43 L609.2,254.95 L609.58,255.29 L610.3,254.55 L610.7,255.03 L610.67,256.58 L611,257.1 L611.79,256.74 L612.11,257.4 L611.87,258.89 L612.12,259.56 L612.94,259.6 L613.16,260.4 L612.73,261.72 L612.88,262.48 L613.65,262.93 L613.76,263.81 L613.17,264.87 L613.21,265.68Z" fill="#4a4a4a" stroke="#333" stroke-width="0.4" stroke-linejoin="round" />
<line x1="606.73" y1="280.27" x2="614.73" y2="280.27" stroke="#e0e0e0" stroke-width="0.55"/>
<line x1="605.8" y1="280.03" x2="613.8" y2="280.03" stroke="#e0e0e0" stroke-width="0.55"/>
<line x1="604.89" y1="279.57" x2="612.89" y2="279.57" stroke="#e0e0e0" stroke-width="0.55"/>
<line x1="604.02" y1="278.88" x2="612.02" y2="278.88" stroke="#e0e0e0" stroke-width="0.55"/>
<line x1="603.2" y1="277.97" x2="611.2" y2="277.97" stroke="#e0e0e0" stroke-width="0.55"/>
<line x1="602.45" y1="276.88" x2="610.45" y2="276.88" stroke="#e0e0e0" stroke-width="0.55"/>
<line x1="601.79" y1="275.6" x2="609.79" y2="275.6" stroke="#e0e0e0" stroke-width="0.55"/>
<line x1="601.21" y1="274.17" x2="609.21" y2="274.17" stroke="#e0e0e0" stroke-width="0.55"/>
<line x1="600.74" y1="272.6" x2="608.74" y2="272.6" stroke="#e0e0e0" stroke-width="0.55"/>
<line x1="600.38" y1="270.94" x2="608.38" y2="270.94" stroke="#e0e0e0" stroke-width="0.55"/>
<line x1="600.14" y1="269.19" x2="608.14" y2="269.19" stroke="#e0e0e0" stroke-width="0.55"/>
<line x1="600.02" y1="267.4" x2="608.02" y2="267.4" stroke="#e0e0e0" stroke-width="0.55"/>
<line x1="600.02" y1="265.6" x2="608.02" y2="265.6" stroke="#e0e0e0" stroke-width="0.55"/>
<line x1="600.14" y1="263.81" x2="608.14" y2="263.81" stroke="#e0e0e0" stroke-width="0.55"/>
<line x1="600.38" y1="262.06" x2="608.38" y2="262.06" stroke="#e0e0e0" stroke-width="0.55"/>
<line x1="600.74" y1="260.4" x2="608.74" y2="260.4" stroke="#e0e0e0" stroke-width="0.55"/>
<line x1="601.21" y1="258.83" x2="609.21" y2="258.83" stroke="#e0e0e0" stroke-width="0.55"/>
<line x1="601.79" y1="257.4" x2="609.79" y2="257.4" stroke="#e0e0e0" stroke-width="0.55"/>
<line x1="602.45" y1="256.12" x2="610.45" y2="256.12" stroke="#e0e0e0" stroke-width="0.55"/>
<line x1="603.2" y1="255.03" x2="611.2" y2="255.03" stroke="#e0e0e0" stroke-width="0.55"/>
<line x1="604.02" y1="254.12" x2="612.02" y2="254.12" stroke="#e0e0e0" stroke-width="0.55"/>
<line x1="604.89" y1="253.43" x2="612.89" y2="253.43" stroke="#e0e0e0" stroke-width="0.55"/>
<line x1="605.8" y1="252.97" x2="613.8" y2="252.97" stroke="#e0e0e0" stroke-width="0.55"/>
<line x1="606.73" y1="252.73" x2="614.73" y2="252.73" stroke="#e0e0e0" stroke-width="0.55"/>
<path d="M623.4,266.5 L623.38,267.4 L622.67,268.13 L622.6,268.94 L623.15,270.07 L623.02,270.94 L622.23,271.28 L622.05,272.03 L622.44,273.4 L622.19,274.17 L621.37,274.11 L621.1,274.74 L621.29,276.26 L620.95,276.88 L620.17,276.42 L619.82,276.89 L619.8,278.45 L619.38,278.88 L618.7,278.05 L618.3,278.34 L618.06,279.83 L617.6,280.03 L617.05,278.89 L616.63,278.97 L616.2,280.3 L615.73,280.27 L615.35,278.89 L614.93,278.76 L614.34,279.83 L613.89,279.57 L613.7,278.05 L613.32,277.71 L612.6,278.45 L612.2,277.97 L612.23,276.42 L611.9,275.9 L611.11,276.26 L610.79,275.6 L611.03,274.11 L610.78,273.44 L609.96,273.4 L609.74,272.6 L610.17,271.28 L610.02,270.52 L609.25,270.07 L609.14,269.19 L609.73,268.13 L609.69,267.32 L609,266.5 L609.02,265.6 L609.73,264.87 L609.8,264.06 L609.25,262.93 L609.38,262.06 L610.17,261.72 L610.35,260.97 L609.96,259.6 L610.21,258.83 L611.03,258.89 L611.3,258.26 L611.11,256.74 L611.45,256.12 L612.23,256.58 L612.58,256.11 L612.6,254.55 L613.02,254.12 L613.7,254.95 L614.1,254.66 L614.34,253.17 L614.8,252.97 L615.35,254.11 L615.77,254.03 L616.2,252.7 L616.67,252.73 L617.05,254.11 L617.47,254.24 L618.06,253.17 L618.51,253.43 L618.7,254.95 L619.08,255.29 L619.8,254.55 L620.2,255.03 L620.17,256.58 L620.5,257.1 L621.29,256.74 L621.61,257.4 L621.37,258.89 L621.62,259.56 L622.44,259.6 L622.66,260.4 L622.23,261.72 L622.38,262.48 L623.15,262.93 L623.26,263.81 L622.67,264.87 L622.71,265.68Z" fill="#c4c4c4" stroke="#333" stroke-width="0.5" stroke-linejoin="round" />
<ellipse cx="616.2" cy="266.5" rx="5.6" ry="11.8" fill="url(#gF)" stroke="#666" stroke-width="0.4" />
<ellipse cx="616.4" cy="266.5" rx="4" ry="7.6" fill="#e9e9e9" stroke="#777" stroke-width="0.4" />
<ellipse cx="616.4" cy="266.5" rx="2.4" ry="5.2" fill="url(#gHoleV)" stroke="#444" stroke-width="0.6" />
<ellipse cx="615.7" cy="276.04" rx="0.9" ry="1.2" fill="#777" stroke="none" stroke-width="0.7" />
<ellipse cx="619.33" cy="259.46" rx="0.9" ry="1.2" fill="#777" stroke="none" stroke-width="0.7" />
<path d="M627.4,260 A3.2,6.2 0 0 0 627.4,272.4 L631.8,272.4 A3.2,6.2 0 0 0 631.8,260 Z" fill="url(#gV)" stroke="#404040" stroke-width="0.7" stroke-linejoin="round" />
<ellipse cx="627.4" cy="266.2" rx="3.2" ry="6.2" fill="#dcdcdc" stroke="#404040" stroke-width="0.5" />
<ellipse cx="631.6" cy="266.2" rx="3.2" ry="6.2" fill="#b5b5b5" stroke="#404040" stroke-width="0.6" />
<ellipse cx="631.5" cy="266.4" rx="2.2" ry="4.6" fill="#3f3f3f" stroke="none" stroke-width="0.7" />
<ellipse cx="632.1" cy="267.2" rx="1.2" ry="2.8" fill="#cfcfcf" stroke="none" stroke-width="0.7" />
<path d="M638.4,260 A3.2,6.2 0 0 0 638.4,272.4 L642.8,272.4 A3.2,6.2 0 0 0 642.8,260 Z" fill="url(#gV)" stroke="#404040" stroke-width="0.7" stroke-linejoin="round" />
<ellipse cx="638.4" cy="266.2" rx="3.2" ry="6.2" fill="#dcdcdc" stroke="#404040" stroke-width="0.5" />
<ellipse cx="642.6" cy="266.2" rx="3.2" ry="6.2" fill="#b5b5b5" stroke="#404040" stroke-width="0.6" />
<ellipse cx="642.5" cy="266.4" rx="2.2" ry="4.6" fill="#3f3f3f" stroke="none" stroke-width="0.7" />
<ellipse cx="643.1" cy="267.2" rx="1.2" ry="2.8" fill="#cfcfcf" stroke="none" stroke-width="0.7" />
<ellipse cx="650.4" cy="266.5" rx="4.7" ry="8.1" fill="#8e8e8e" stroke="#404040" stroke-width="0.5" />
<g>
<ellipse cx="651.2" cy="266.5" rx="4.6" ry="8" fill="url(#gF)" stroke="#404040" stroke-width="0.7" />
<ellipse cx="651.2" cy="266.5" rx="2.7" ry="5.4" fill="#fff" stroke="#404040" stroke-width="0.63" />
</g>
<ellipse cx="661.1" cy="266.2" rx="4.5" ry="7.5" fill="#8e8e8e" stroke="#404040" stroke-width="0.5" />
<g>
<ellipse cx="661.9" cy="266.2" rx="4.4" ry="7.4" fill="url(#gF)" stroke="#404040" stroke-width="0.7" />
<ellipse cx="661.9" cy="266.2" rx="2.7" ry="5.1" fill="#fff" stroke="#404040" stroke-width="0.63" />
</g>
<path d="M679.7,266.4 L679.68,267.28 L679.09,267.96 L679.01,268.73 L679.45,269.86 L679.3,270.69 L678.64,270.94 L678.46,271.62 L678.71,272.98 L678.45,273.67 L677.78,273.47 L677.52,274 L677.56,275.46 L677.22,275.95 L676.61,275.31 L676.28,275.64 L676.11,277.05 L675.71,277.29 L675.23,276.28 L674.86,276.37 L674.5,277.6 L674.09,277.57 L673.77,276.28 L673.42,276.12 L672.89,277.05 L672.51,276.75 L672.39,275.31 L672.07,274.93 L671.44,275.46 L671.12,274.92 L671.22,273.47 L670.97,272.89 L670.29,272.98 L670.07,272.25 L670.36,270.94 L670.21,270.23 L669.55,269.86 L669.44,269.01 L669.91,267.96 L669.87,267.18 L669.3,266.4 L669.32,265.52 L669.91,264.84 L669.99,264.07 L669.55,262.94 L669.7,262.11 L670.36,261.86 L670.54,261.18 L670.29,259.82 L670.55,259.13 L671.22,259.33 L671.48,258.8 L671.44,257.34 L671.78,256.85 L672.39,257.49 L672.72,257.16 L672.89,255.75 L673.29,255.51 L673.77,256.52 L674.14,256.43 L674.5,255.2 L674.91,255.23 L675.23,256.52 L675.58,256.68 L676.11,255.75 L676.49,256.05 L676.61,257.49 L676.93,257.87 L677.56,257.34 L677.88,257.88 L677.78,259.33 L678.03,259.91 L678.71,259.82 L678.93,260.55 L678.64,261.86 L678.79,262.57 L679.45,262.94 L679.56,263.79 L679.09,264.84 L679.13,265.62Z" fill="#555" stroke="#333" stroke-width="0.4" stroke-linejoin="round" />
<line x1="672.95" y1="277.46" x2="675.55" y2="277.46" stroke="#ddd" stroke-width="0.8"/>
<line x1="672.05" y1="277.12" x2="674.65" y2="277.12" stroke="#ddd" stroke-width="0.8"/>
<line x1="671.2" y1="276.46" x2="673.8" y2="276.46" stroke="#ddd" stroke-width="0.8"/>
<line x1="670.42" y1="275.49" x2="673.02" y2="275.49" stroke="#ddd" stroke-width="0.8"/>
<line x1="669.72" y1="274.25" x2="672.32" y2="274.25" stroke="#ddd" stroke-width="0.8"/>
<line x1="669.14" y1="272.77" x2="671.74" y2="272.77" stroke="#ddd" stroke-width="0.8"/>
<line x1="668.69" y1="271.09" x2="671.29" y2="271.09" stroke="#ddd" stroke-width="0.8"/>
<line x1="668.38" y1="269.27" x2="670.98" y2="269.27" stroke="#ddd" stroke-width="0.8"/>
<line x1="668.22" y1="267.37" x2="670.82" y2="267.37" stroke="#ddd" stroke-width="0.8"/>
<line x1="668.22" y1="265.43" x2="670.82" y2="265.43" stroke="#ddd" stroke-width="0.8"/>
<line x1="668.38" y1="263.53" x2="670.98" y2="263.53" stroke="#ddd" stroke-width="0.8"/>
<line x1="668.69" y1="261.71" x2="671.29" y2="261.71" stroke="#ddd" stroke-width="0.8"/>
<line x1="669.14" y1="260.03" x2="671.74" y2="260.03" stroke="#ddd" stroke-width="0.8"/>
<line x1="669.72" y1="258.55" x2="672.32" y2="258.55" stroke="#ddd" stroke-width="0.8"/>
<line x1="670.42" y1="257.31" x2="673.02" y2="257.31" stroke="#ddd" stroke-width="0.8"/>
<line x1="671.2" y1="256.34" x2="673.8" y2="256.34" stroke="#ddd" stroke-width="0.8"/>
<line x1="672.05" y1="255.68" x2="674.65" y2="255.68" stroke="#ddd" stroke-width="0.8"/>
<line x1="672.95" y1="255.34" x2="675.55" y2="255.34" stroke="#ddd" stroke-width="0.8"/>
<ellipse cx="677.2" cy="266.4" rx="5.6" ry="10.2" fill="url(#gF)" stroke="#3a3a3a" stroke-width="0.6" />
<ellipse cx="677.8" cy="266.4" rx="4.3" ry="8.2" fill="#8a8a8a" stroke="#444" stroke-width="0.5" />
<ellipse cx="678.6" cy="261.4" rx="1.7" ry="1.35" fill="#2f2f2f" stroke="none" stroke-width="0.7" />
<ellipse cx="678.6" cy="264.7" rx="1.7" ry="1.35" fill="#2f2f2f" stroke="none" stroke-width="0.7" />
<ellipse cx="678.6" cy="268.1" rx="1.7" ry="1.35" fill="#2f2f2f" stroke="none" stroke-width="0.7" />
<ellipse cx="678.6" cy="271.4" rx="1.7" ry="1.35" fill="#2f2f2f" stroke="none" stroke-width="0.7" />
<rect x="687.2" y="263.2" width="6.6" height="5.6" rx="1" fill="url(#gV)" stroke="#555" stroke-width="0.55" />
<rect x="693.3" y="261" width="16.4" height="10.2" rx="0.8" fill="url(#gVd)" stroke="#333" stroke-width="0.6" />
<line x1="693.6" y1="262.8" x2="709.4" y2="262.8" stroke="#2e2e2e" stroke-width="0.9"/>
<line x1="693.6" y1="265" x2="709.4" y2="265" stroke="#2e2e2e" stroke-width="0.9"/>
<line x1="693.6" y1="267.2" x2="709.4" y2="267.2" stroke="#2e2e2e" stroke-width="0.9"/>
<line x1="693.6" y1="269.4" x2="709.4" y2="269.4" stroke="#2e2e2e" stroke-width="0.9"/>
<rect x="701.8" y="261.1" width="6.4" height="10" rx="0" fill="url(#gV)" stroke="#555" stroke-width="0.4" />
<rect x="709.4" y="258.9" width="11.2" height="14.3" rx="1.6" fill="url(#gVd)" stroke="#333" stroke-width="0.6" />
<rect x="712.2" y="259.2" width="3" height="13.7" rx="0" fill="#e3e3e3" stroke="none" stroke-width="0.7" opacity="0.55"/>
<line x1="709.8" y1="261.2" x2="720.2" y2="261.2" stroke="#555" stroke-width="0.5"/>
<line x1="709.8" y1="263.6" x2="720.2" y2="263.6" stroke="#555" stroke-width="0.5"/>
<line x1="709.8" y1="266" x2="720.2" y2="266" stroke="#555" stroke-width="0.5"/>
<line x1="709.8" y1="268.4" x2="720.2" y2="268.4" stroke="#555" stroke-width="0.5"/>
<line x1="709.8" y1="270.8" x2="720.2" y2="270.8" stroke="#555" stroke-width="0.5"/>
<rect x="720.6" y="261" width="14" height="10.2" rx="0.8" fill="url(#gVd)" stroke="#333" stroke-width="0.6" />
<line x1="721" y1="262.8" x2="734.3" y2="262.8" stroke="#2e2e2e" stroke-width="0.9"/>
<line x1="721" y1="265" x2="734.3" y2="265" stroke="#2e2e2e" stroke-width="0.9"/>
<line x1="721" y1="267.2" x2="734.3" y2="267.2" stroke="#2e2e2e" stroke-width="0.9"/>
<line x1="721" y1="269.4" x2="734.3" y2="269.4" stroke="#2e2e2e" stroke-width="0.9"/>
<rect x="734.2" y="263.2" width="5.3" height="5.6" rx="1" fill="url(#gV)" stroke="#555" stroke-width="0.55" />
<path d="M750.15,256.2 C743.96,257.36 741.8,261.1 741.8,266 C741.8,270.9 743.96,274.64 750.15,275.8 Z" fill="#4d4d4d" stroke="#333" stroke-width="0.6" stroke-linejoin="round" />
<line x1="748.33" y1="274.95" x2="745.16" y2="273.88" stroke="#d2d2d2" stroke-width="0.9"/>
<line x1="746.91" y1="274.15" x2="743.74" y2="273.17" stroke="#d2d2d2" stroke-width="0.9"/>
<line x1="745.68" y1="272.72" x2="742.51" y2="271.92" stroke="#d2d2d2" stroke-width="0.9"/>
<line x1="744.72" y1="270.79" x2="741.55" y2="270.21" stroke="#d2d2d2" stroke-width="0.9"/>
<line x1="744.12" y1="268.49" x2="740.95" y2="268.19" stroke="#d2d2d2" stroke-width="0.9"/>
<line x1="743.91" y1="266" x2="740.74" y2="266" stroke="#d2d2d2" stroke-width="0.9"/>
<line x1="744.12" y1="263.51" x2="740.95" y2="263.81" stroke="#d2d2d2" stroke-width="0.9"/>
<line x1="744.72" y1="261.21" x2="741.55" y2="261.79" stroke="#d2d2d2" stroke-width="0.9"/>
<line x1="745.68" y1="259.28" x2="742.51" y2="260.08" stroke="#d2d2d2" stroke-width="0.9"/>
<line x1="746.91" y1="257.85" x2="743.74" y2="258.83" stroke="#d2d2d2" stroke-width="0.9"/>
<line x1="748.33" y1="257.05" x2="745.16" y2="258.12" stroke="#d2d2d2" stroke-width="0.9"/>
<ellipse cx="750.15" cy="266" rx="6.05" ry="9.8" fill="url(#gF)" stroke="#444" stroke-width="0.6" />
<ellipse cx="750.45" cy="266" rx="4.35" ry="7.64" fill="#b9b9b9" stroke="#555" stroke-width="0.5" />
<ellipse cx="750.65" cy="266" rx="3.14" ry="6.08" fill="url(#gHole)" stroke="#444" stroke-width="0.5" />
<ellipse cx="751.05" cy="266.3" rx="2.06" ry="4.51" fill="#f3f3f3" stroke="none" stroke-width="0.7" />
<g>
<path d="M769.5,244.2 C776,243.4 783,245.5 788,247.8 C793,249.8 798,252 799.8,254.5 C801.5,259 801,266 800.5,270.8 L804.8,272.4 C807.6,278 809.6,285 810.2,291.3 C810,298 808.6,303.5 806.1,307.5 L792,310.2 C789,312.4 786.4,313.8 783.2,314.4 C780.2,313.4 777.6,311 775.8,308.8 C771.6,300.5 768,291.5 765.4,283.4 L762.8,278.5 L759.2,278 L759.2,265 L762.3,263.5 C762,259 763,254 765,250 C766.2,247.4 767.5,245.2 769.5,244.2 Z" fill="#e3e3e3" stroke="#444" stroke-width="0.7" stroke-linejoin="round" />
<path d="M765.8,282 C769,283.6 772.6,284 776,283.4 C778,291 781.6,300.6 786.6,308.4 L783.2,313.2 C780.6,312.4 778.4,310.4 776.8,308 C772.6,300 768.6,291 765.8,282 Z" fill="#adadad" stroke="#555" stroke-width="0.5" stroke-linejoin="round" />
<path d="M770.8,284 C773,292 777,302 782.4,311" fill="none" stroke="#6f6f6f" stroke-width="0.5" stroke-linejoin="round" />
<path d="M776,283.4 C780,283 784,284.6 787.4,287.6 C791.6,291 796.6,292.4 801.6,291.6 C803.4,291 804.6,289.6 805.2,287.6 C806.4,294 805.2,300.6 801.4,305 C797.4,307.4 792,308.6 786.6,308.4 C782,301 778.2,292 776,283.4 Z" fill="url(#gR)" stroke="#555" stroke-width="0.5" stroke-linejoin="round" />
<path d="M800.5,270.8 L804.8,272.4 C807.6,278 809.6,285 810.2,291.3 C810,298 808.6,303.5 806.1,307.5 L802.4,308.2 C805.4,303 806.6,297 806.2,291 C805.6,284.6 803.6,277.4 800.5,270.8 Z" fill="#f2f2f2" stroke="#555" stroke-width="0.5" stroke-linejoin="round" />
<path d="M778,309.6 L783,313.4 M786.6,308.4 L789.6,312 M792,310.2 L790.6,306.6" fill="none" stroke="#666" stroke-width="0.5" stroke-linejoin="round" />
<path d="M771,245.6 C776.5,245 783.5,247 788.5,249.4 L787.2,262 L780.5,264 L766.5,263.6 C766,257 768,249.5 771,245.6 Z" fill="#dadada" stroke="#555" stroke-width="0.5" stroke-linejoin="round" />
<path d="M775.4,246 C773.6,251 773,257.6 773.2,263.8 L780.4,264 C780,258 780.6,252 782.4,247.4 Z" fill="#9d9d9d" stroke="#555" stroke-width="0.4" stroke-linejoin="round" />
<path d="M782.4,247.4 C780.6,252 780,258 780.4,264 L786,262.6 C785.6,257.6 786.2,252.6 788,249 Z" fill="#c2c2c2" stroke="#555" stroke-width="0.4" stroke-linejoin="round" />
<path d="M769.5,244.6 C767,249 765.4,256 765.6,263" fill="none" stroke="#8a8a8a" stroke-width="1.3" stroke-linejoin="round" />
<path d="M787.2,248.8 C792,249.6 796,251.4 798,253.5 C799.8,258 799.8,265 799.4,271 C798.6,276 796.6,280 793.6,282.4 C789,283.6 784,281 781.4,276.4 C780,270 780.6,262 782.6,256 C783.6,252.6 785,250 787.2,248.8 Z" fill="#e9e9e9" stroke="#4a4a4a" stroke-width="0.6" stroke-linejoin="round" />
<ellipse cx="792.4" cy="264.4" rx="5" ry="9.8" fill="url(#gHole)" stroke="#3a3a3a" stroke-width="0.8" transform="rotate(-4 792.4 264.4)" />
<ellipse cx="791.4" cy="264.2" rx="3" ry="8.2" fill="#8f8f8f" stroke="none" stroke-width="0.7" transform="rotate(-4 791.4 264.2)" />
<ellipse cx="794" cy="265.2" rx="1.8" ry="6.4" fill="#e6e6e6" stroke="none" stroke-width="0.7" transform="rotate(-4 794 265.2)" />
<path d="M759.2,265 C759.2,264.3 760,264 761,264 L778.5,264.4 C780.3,266 781,269 781,272 C781,275.5 780.3,278.4 778.5,279.9 L761,279.4 C760,279.4 759.2,278.8 759.2,278 Z" fill="url(#gVb)" stroke="#444" stroke-width="0.6" stroke-linejoin="round" />
<ellipse cx="780.5" cy="272.4" rx="2" ry="3.2" fill="#8f8f8f" stroke="#444" stroke-width="0.5" />
<ellipse cx="780.7" cy="272.5" rx="1" ry="1.8" fill="#444" stroke="none" stroke-width="0.7" />
<ellipse cx="796.2" cy="277.8" rx="1" ry="1" fill="#3f3f3f" stroke="none" stroke-width="0.7" />
<ellipse cx="799" cy="278.6" rx="1" ry="1" fill="#3f3f3f" stroke="none" stroke-width="0.7" />
<ellipse cx="795.1" cy="282" rx="1" ry="1" fill="#3f3f3f" stroke="none" stroke-width="0.7" />
<ellipse cx="797.9" cy="282.8" rx="1" ry="1" fill="#3f3f3f" stroke="none" stroke-width="0.7" />
<ellipse cx="786.2" cy="279.2" rx="1.8" ry="2.6" fill="#f4f4f4" stroke="#555" stroke-width="0.45" />
<ellipse cx="790.4" cy="284.6" rx="1.5" ry="1.8" fill="#f0f0f0" stroke="#555" stroke-width="0.45" />
<path d="M783.5,272.5 C786,275.5 789.5,277.5 793.5,277.5 M782,281.5 C786,286 792,289.5 799,289.5 M786.4,272 C788,274 790,275 792.4,275" fill="none" stroke="#666" stroke-width="0.5" stroke-linejoin="round" />
<ellipse cx="764.6" cy="259.5" rx="1.1" ry="1.3" fill="#bbb" stroke="#555" stroke-width="0.4" />
<ellipse cx="805.6" cy="304.6" rx="1" ry="1.2" fill="#bbb" stroke="#555" stroke-width="0.4" />
<ellipse cx="780" cy="310.4" rx="1" ry="1.2" fill="#bbb" stroke="#555" stroke-width="0.4" />
<ellipse cx="798.6" cy="256.4" rx="0.8" ry="1" fill="#999" stroke="#555" stroke-width="0.3" />
</g>
<ellipse cx="795.6" cy="245.9" rx="2.3" ry="2.9" fill="#9b9b9b" stroke="#333" stroke-width="0.8" />
<ellipse cx="795.8" cy="246" rx="0.9" ry="1.3" fill="#e5e5e5" stroke="none" stroke-width="0.7" />
<rect x="800.5" y="244.8" width="7.2" height="2.3" rx="0.6" fill="#8a8a8a" stroke="#333" stroke-width="0.5" />
<rect x="799.2" y="244.1" width="2.6" height="3.7" rx="0.8" fill="#c4c4c4" stroke="#333" stroke-width="0.5" />
<path d="M820.6,254.7 A5.4,11.1 0 0 0 820.6,276.9 L824.8,276.9 A5.4,11.1 0 0 0 824.8,254.7 Z" fill="url(#gV)" stroke="#404040" stroke-width="0.6" stroke-linejoin="round" />
<ellipse cx="824.8" cy="265.8" rx="5.4" ry="11.1" fill="url(#gF)" stroke="#404040" stroke-width="0.6" />
<ellipse cx="825" cy="265.8" rx="3.84" ry="8.5" fill="url(#gHole)" stroke="#444" stroke-width="0.5" />
<ellipse cx="825.7" cy="266.2" rx="2.27" ry="6.63" fill="#efefef" stroke="none" stroke-width="0.7" />
<path d="M838,251.6 L840.2,252.3 C843.2,254.5 845,259.5 845,265.5 C845,271.5 843.4,276.5 840.5,279 L838.6,280 C835,279 832.6,273 832.6,265.5 C832.6,258.5 834.6,253 838,251.6 Z M838.7,255 C836.3,256 834.8,260 834.8,265.5 C834.8,271 836.4,275.5 838.9,276.6 C841.3,275.5 842.8,271 842.8,265.5 C842.8,260 841.2,256 838.7,255 Z" fill="#d4d4d4" stroke="#4a4a4a" stroke-width="0.6" stroke-linejoin="round" fill-rule="evenodd"/>
<ellipse cx="838.3" cy="252.3" rx="0.9" ry="0.7" fill="#777" stroke="#444" stroke-width="0.3" />
<path d="M852.5,251.5 L855,252.2 C859,254.5 861.6,259.5 861.6,265.8 C861.6,272 859.5,277 856,279.2 L853.4,280 C849.5,278.5 847.2,273 847.2,265.8 C847.2,259 849,253.3 852.5,251.5 Z" fill="url(#gF)" stroke="#4a4a4a" stroke-width="0.6" stroke-linejoin="round" />
<ellipse cx="855.8" cy="265.8" rx="5" ry="11.2" fill="#c9c9c9" stroke="#555" stroke-width="0.5" />
<ellipse cx="856.8" cy="265.9" rx="3.9" ry="9.3" fill="url(#gHole)" stroke="#444" stroke-width="0.6" />
<ellipse cx="857.6" cy="266.2" rx="2.4" ry="7.2" fill="#ededed" stroke="#777" stroke-width="0.4" />
<ellipse cx="852.8" cy="253" rx="0.8" ry="0.9" fill="#999" stroke="#444" stroke-width="0.3" />
<ellipse cx="848.8" cy="260" rx="0.8" ry="0.9" fill="#999" stroke="#444" stroke-width="0.3" />
<ellipse cx="848.6" cy="271" rx="0.8" ry="0.9" fill="#999" stroke="#444" stroke-width="0.3" />
<ellipse cx="852.6" cy="278" rx="0.8" ry="0.9" fill="#999" stroke="#444" stroke-width="0.3" />
<ellipse cx="870" cy="265.9" rx="6.8" ry="10.6" fill="#5a5a5a" stroke="#333" stroke-width="0.6" />
<ellipse cx="871" cy="265.9" rx="6.4" ry="10.3" fill="#777" stroke="#333" stroke-width="0.5" />
<ellipse cx="871.4" cy="265.9" rx="4.6" ry="7.8" fill="#e3e3e3" stroke="#444" stroke-width="0.5" />
<ellipse cx="871.8" cy="265.9" rx="3.2" ry="5.6" fill="#5d5d5d" stroke="#333" stroke-width="0.5" />
<ellipse cx="872.1" cy="266" rx="2" ry="4" fill="#fff" stroke="#444" stroke-width="0.4" />
<rect x="862.6" y="278.6" width="8.6" height="3" rx="0.5" fill="#9a9a9a" stroke="#333" stroke-width="0.5" />
<line x1="864" y1="278.6" x2="864" y2="281.6" stroke="#333" stroke-width="0.4"/>
<line x1="865.6" y1="278.6" x2="865.6" y2="281.6" stroke="#333" stroke-width="0.4"/>
<line x1="867.2" y1="278.6" x2="867.2" y2="281.6" stroke="#333" stroke-width="0.4"/>
<line x1="868.8" y1="278.6" x2="868.8" y2="281.6" stroke="#333" stroke-width="0.4"/>
<rect x="871" y="277.7" width="3.8" height="4.8" rx="1.2" fill="#d4d4d4" stroke="#333" stroke-width="0.6" />
<path d="M883,260.4 A2.2,5.6 0 0 0 883,271.6 L889,271.6 A2.2,5.6 0 0 0 889,260.4 Z" fill="url(#gV)" stroke="#404040" stroke-width="0.7" stroke-linejoin="round" />
<ellipse cx="883" cy="266" rx="2.2" ry="5.6" fill="#e4e4e4" stroke="#404040" stroke-width="0.5" />
<path d="M893.5,254.8 C899,254 905,256 909.5,258 C913,259.5 913.8,263 912.5,266.5 C912.5,271 910,275 906,275.5 C902,277 897,277 893.5,276.4 C889.5,274.5 887.6,270.5 887.6,265.6 C887.6,260.5 889.7,256.3 893.5,254.8 Z" fill="url(#gF)" stroke="#444" stroke-width="0.6" stroke-linejoin="round" />
<ellipse cx="893.3" cy="265.6" rx="5.2" ry="10.8" fill="#e9e9e9" stroke="#555" stroke-width="0.5" />
<path d="M894,257.5 L907.5,260 L903,266 L895,266.5 Z" fill="#7e7e7e" stroke="#555" stroke-width="0.4" stroke-linejoin="round" />
<path d="M895,267.5 L903,267 L903.5,272.5 L896,274 Z" fill="#fdfdfd" stroke="#777" stroke-width="0.4" stroke-linejoin="round" />
<ellipse cx="908.6" cy="262" rx="3.2" ry="3.8" fill="#e9e9e9" stroke="#444" stroke-width="0.55" />
<ellipse cx="908.9" cy="262.1" rx="1.6" ry="2" fill="#999" stroke="#555" stroke-width="0.4" />
<ellipse cx="905.8" cy="270.2" rx="3.3" ry="4" fill="#f1f1f1" stroke="#444" stroke-width="0.55" />
<ellipse cx="906.1" cy="270.4" rx="1.6" ry="2.1" fill="#aaa" stroke="#555" stroke-width="0.4" />
<ellipse cx="918" cy="265.9" rx="3.4" ry="6.3" fill="#8a8a8a" stroke="#404040" stroke-width="0.5" />
<g>
<ellipse cx="918.6" cy="265.9" rx="3.3" ry="6.2" fill="#bfbfbf" stroke="#404040" stroke-width="0.7" />
<ellipse cx="918.6" cy="265.9" rx="1.6" ry="3.6" fill="#fff" stroke="#404040" stroke-width="0.63" />
</g>
<path d="M924,265.9 L926.65,259.5 L932.48,259.5 L934.6,265.9 L932.48,272.3 L926.65,272.3 Z" fill="url(#gF)" stroke="#404040" stroke-width="0.7" stroke-linejoin="round" />
<ellipse cx="930.15" cy="265.9" rx="3" ry="4.6" fill="#e8e8e8" stroke="#404040" stroke-width="0.49" />
<ellipse cx="930.36" cy="265.9" rx="2" ry="3.4" fill="url(#gHole)" stroke="#404040" stroke-width="0.56" />
<path d="M683.9,296.3 C679,300 674,306.5 671.6,313.5 C671,316.5 671.8,318.8 673.8,319.4 L677,318.4 L677,313.4 L683,312.8 C682.6,307 683.2,301.5 684.8,296.6 Z" fill="#f3f3f3" stroke="#555" stroke-width="0.6" stroke-linejoin="round" />
<path d="M682.4,299 C679,303.5 676.4,308.5 675.4,313" fill="none" stroke="#999" stroke-width="0.5" stroke-linejoin="round" />
<rect x="674.2" y="313.3" width="17" height="3.7" rx="0.8" fill="#bdbdbd" stroke="#444" stroke-width="0.6" />
<line x1="675" y1="314.4" x2="690.5" y2="314.4" stroke="#eee" stroke-width="0.7"/>
<rect x="690.4" y="313.6" width="3.8" height="3.1" rx="0.6" fill="#8a8a8a" stroke="#444" stroke-width="0.5" />
<ellipse cx="673.6" cy="316.4" rx="1.5" ry="2.4" fill="#e2e2e2" stroke="#555" stroke-width="0.5" />
<path d="M833.5,320.5 L839,318.8 L851,322.2 L851,335.6 L838.5,337.6 L832.5,337.2 L828,334.4 C828.5,329 831,324.4 833.5,320.5 Z" fill="url(#gF)" stroke="#555" stroke-width="0.6" stroke-linejoin="round" />
<path d="M838.5,321.7 A3.6,6.8 0 0 0 838.5,335.3 L851.5,335.3 A3.6,6.8 0 0 0 851.5,321.7 Z" fill="url(#gV)" stroke="#404040" stroke-width="0.7" stroke-linejoin="round" />
<ellipse cx="851.5" cy="328.6" rx="3.6" ry="6.8" fill="#8a8a8a" stroke="#444" stroke-width="0.6" />
<ellipse cx="851.9" cy="328.6" rx="2.3" ry="4.6" fill="#555" stroke="none" stroke-width="0.7" />
<ellipse cx="852.3" cy="328.7" rx="1" ry="1.4" fill="#eee" stroke="none" stroke-width="0.7" />
<ellipse cx="830.2" cy="333.5" rx="1" ry="1.3" fill="#999" stroke="#555" stroke-width="0.4" />
<ellipse cx="835.3" cy="321.6" rx="0.9" ry="1.1" fill="#999" stroke="#555" stroke-width="0.4" />
<ellipse cx="612" cy="397.1" rx="6.6" ry="10.1" fill="#9c9c9c" stroke="#404040" stroke-width="0.6" />
<ellipse cx="613.2" cy="397.1" rx="6.6" ry="10.1" fill="url(#gF)" stroke="#404040" stroke-width="0.6" />
<ellipse cx="614.3" cy="397.1" rx="4.8" ry="8.2" fill="#c6c6c6" stroke="#555" stroke-width="0.5" />
<ellipse cx="614.9" cy="397.1" rx="3.6" ry="6.8" fill="#777" stroke="#444" stroke-width="0.5" />
<ellipse cx="615.3" cy="397.1" rx="2.4" ry="5.2" fill="#e4e4e4" stroke="#555" stroke-width="0.4" />
<ellipse cx="615.7" cy="397.1" rx="1.3" ry="3.2" fill="#fff" stroke="#777" stroke-width="0.3" />
<rect x="624.6" y="394" width="6" height="6.2" rx="1.6" fill="url(#gV)" stroke="#555" stroke-width="0.55" />
<path d="M630,392.5 L634.5,389.2 L641.5,388.4 L643,391 L643,403.4 L641,405.8 L634,405 L630,401.8 Z" fill="#5b5b5b" stroke="#333" stroke-width="0.6" stroke-linejoin="round" />
<path d="M630.2,393 L642.6,389.6 L642.8,391.2 L630.4,394.2 Z" fill="#dadada" stroke="#444" stroke-width="0.35" stroke-linejoin="round" />
<path d="M630.2,395 L642.6,392.9 L642.8,394.5 L630.4,396.2 Z" fill="#dadada" stroke="#444" stroke-width="0.35" stroke-linejoin="round" />
<path d="M630.2,397 L642.6,396.2 L642.8,397.8 L630.4,398.2 Z" fill="#dadada" stroke="#444" stroke-width="0.35" stroke-linejoin="round" />
<path d="M630.2,399 L642.6,399.5 L642.8,401.1 L630.4,400.2 Z" fill="#dadada" stroke="#444" stroke-width="0.35" stroke-linejoin="round" />
<path d="M630.2,401 L642.6,402.8 L642.8,404.4 L630.4,402.2 Z" fill="#dadada" stroke="#444" stroke-width="0.35" stroke-linejoin="round" />
<rect x="641.2" y="391.8" width="9.6" height="10.6" rx="0.8" fill="url(#gV)" stroke="#555" stroke-width="0.55" />
<rect x="650.4" y="392.1" width="15.6" height="9.9" rx="0.8" fill="url(#gVd)" stroke="#333" stroke-width="0.6" />
<line x1="650.8" y1="393.9" x2="665.6" y2="393.9" stroke="#2e2e2e" stroke-width="0.9"/>
<line x1="650.8" y1="396" x2="665.6" y2="396" stroke="#2e2e2e" stroke-width="0.9"/>
<line x1="650.8" y1="398.1" x2="665.6" y2="398.1" stroke="#2e2e2e" stroke-width="0.9"/>
<line x1="650.8" y1="400.2" x2="665.6" y2="400.2" stroke="#2e2e2e" stroke-width="0.9"/>
<rect x="665.6" y="394" width="6.4" height="6.3" rx="1" fill="#9e9e9e" stroke="#444" stroke-width="0.55" />
<line x1="667.2" y1="394" x2="667.2" y2="400.3" stroke="#444" stroke-width="0.4"/>
<line x1="668.8" y1="394" x2="668.8" y2="400.3" stroke="#444" stroke-width="0.4"/>
<line x1="670.4" y1="394" x2="670.4" y2="400.3" stroke="#444" stroke-width="0.4"/>
<ellipse cx="672.2" cy="397.2" rx="0.9" ry="2" fill="#ddd" stroke="#555" stroke-width="0.4" />
<path d="M683.37,387.9 C677.61,388.95 675.6,392.55 675.6,397.2 C675.6,401.85 677.61,405.45 683.37,406.5 Z" fill="#4d4d4d" stroke="#333" stroke-width="0.6" stroke-linejoin="round" />
<line x1="681.62" y1="405.7" x2="678.67" y2="404.68" stroke="#d2d2d2" stroke-width="0.9"/>
<line x1="680.3" y1="404.93" x2="677.35" y2="404" stroke="#d2d2d2" stroke-width="0.9"/>
<line x1="679.15" y1="403.58" x2="676.2" y2="402.81" stroke="#d2d2d2" stroke-width="0.9"/>
<line x1="678.26" y1="401.74" x2="675.31" y2="401.2" stroke="#d2d2d2" stroke-width="0.9"/>
<line x1="677.7" y1="399.56" x2="674.75" y2="399.28" stroke="#d2d2d2" stroke-width="0.9"/>
<line x1="677.51" y1="397.2" x2="674.56" y2="397.2" stroke="#d2d2d2" stroke-width="0.9"/>
<line x1="677.7" y1="394.84" x2="674.75" y2="395.12" stroke="#d2d2d2" stroke-width="0.9"/>
<line x1="678.26" y1="392.66" x2="675.31" y2="393.2" stroke="#d2d2d2" stroke-width="0.9"/>
<line x1="679.15" y1="390.82" x2="676.2" y2="391.59" stroke="#d2d2d2" stroke-width="0.9"/>
<line x1="680.3" y1="389.47" x2="677.35" y2="390.4" stroke="#d2d2d2" stroke-width="0.9"/>
<line x1="681.62" y1="388.7" x2="678.67" y2="389.72" stroke="#d2d2d2" stroke-width="0.9"/>
<ellipse cx="683.37" cy="397.2" rx="5.63" ry="9.3" fill="url(#gF)" stroke="#444" stroke-width="0.6" />
<ellipse cx="683.67" cy="397.2" rx="4.05" ry="7.25" fill="#b9b9b9" stroke="#555" stroke-width="0.5" />
<ellipse cx="683.87" cy="397.2" rx="2.93" ry="5.77" fill="url(#gHole)" stroke="#444" stroke-width="0.5" />
<ellipse cx="684.27" cy="397.5" rx="1.91" ry="4.28" fill="#f3f3f3" stroke="none" stroke-width="0.7" />
<path d="M697.4,389.3 A3.8,7.7 0 0 0 697.4,404.7 L700,404.7 A3.8,7.7 0 0 0 700,389.3 Z" fill="url(#gV)" stroke="#404040" stroke-width="0.7" stroke-linejoin="round" />
<ellipse cx="697.4" cy="397" rx="3.8" ry="7.7" fill="url(#gF)" stroke="#404040" stroke-width="0.6" />
<ellipse cx="698" cy="397" rx="2.5" ry="5.6" fill="url(#gHole)" stroke="#444" stroke-width="0.5" />
<ellipse cx="698.6" cy="397.3" rx="1.5" ry="4.2" fill="#f4f4f4" stroke="none" stroke-width="0.7" />
<ellipse cx="709.3" cy="397.4" rx="4.3" ry="7.3" fill="#8e8e8e" stroke="#404040" stroke-width="0.5" />
<g>
<ellipse cx="710" cy="397.4" rx="4.2" ry="7.2" fill="#cfcfcf" stroke="#404040" stroke-width="0.7" />
<ellipse cx="710" cy="397.4" rx="2.7" ry="5.2" fill="#fff" stroke="#404040" stroke-width="0.63" />
</g>
<path d="M721.84,386 A5.54,11 0 0 0 721.84,408 L726.16,408 A5.54,11 0 0 0 726.16,386 Z" fill="url(#gV)" stroke="#404040" stroke-width="0.6" stroke-linejoin="round" />
<ellipse cx="726.16" cy="397" rx="5.54" ry="11" fill="url(#gF)" stroke="#404040" stroke-width="0.6" />
<ellipse cx="726.36" cy="397" rx="3.93" ry="8.4" fill="url(#gHole)" stroke="#444" stroke-width="0.5" />
<ellipse cx="727.06" cy="397.4" rx="2.33" ry="6.55" fill="#efefef" stroke="none" stroke-width="0.7" />
<path d="M744,380.4 L747,381.2 C750.8,384 753,390 753,397 C753,404 750.8,410 747,412.6 L744.6,413.4 C740,411.5 736.2,405 736.2,397 C736.2,389 739.5,382.4 744,380.4 Z M744.8,384.2 C741.4,385.5 739,390.5 739,397 C739,403.5 741.4,408.4 744.9,409.8 C748.2,408.4 750.3,403.5 750.3,397 C750.3,390.5 748.2,385.5 744.8,384.2 Z" fill="#d9d9d9" stroke="#4a4a4a" stroke-width="0.6" stroke-linejoin="round" fill-rule="evenodd"/>
<ellipse cx="744.6" cy="382" rx="0.75" ry="0.85" fill="#888" stroke="#444" stroke-width="0.3" />
<ellipse cx="744.9" cy="411.7" rx="0.75" ry="0.85" fill="#888" stroke="#444" stroke-width="0.3" />
<ellipse cx="738" cy="390" rx="0.75" ry="0.85" fill="#888" stroke="#444" stroke-width="0.3" />
<ellipse cx="738" cy="404" rx="0.75" ry="0.85" fill="#888" stroke="#444" stroke-width="0.3" />
<path d="M773,380.4 L776,380 C779.5,383 781,389.5 781,396.5 C781,403.5 779.4,409.5 776.2,412.2 L772.8,412.8 C770,410 768,407 766.5,404.5 C763,403.5 760.5,400.5 760.3,396.2 C760.5,392 763,389 766.5,388 C768,385 770,382.4 773,380.4 Z" fill="url(#gF)" stroke="#4a4a4a" stroke-width="0.6" stroke-linejoin="round" />
<path d="M766.5,388 C769,390.5 770,393 770,396.2 C770,399.5 769,402.3 766.5,404.5" fill="none" stroke="#777" stroke-width="0.6" stroke-linejoin="round" />
<path d="M763.3,390 C765,392 765.6,394 765.6,396.2 C765.6,398.5 765,400.5 763.3,402.6" fill="none" stroke="#999" stroke-width="0.5" stroke-linejoin="round" />
<ellipse cx="774.8" cy="396.2" rx="6" ry="14.2" fill="#e9e9e9" stroke="#555" stroke-width="0.5" />
<ellipse cx="775.2" cy="396.2" rx="4.7" ry="9.4" fill="url(#gHole)" stroke="#3f3f3f" stroke-width="0.6" />
<ellipse cx="776.6" cy="396.8" rx="2.2" ry="6.4" fill="#c4c4c4" stroke="none" stroke-width="0.7" />
<ellipse cx="774.3" cy="382.3" rx="0.8" ry="0.9" fill="#999" stroke="#444" stroke-width="0.3" />
<ellipse cx="774.5" cy="410.6" rx="0.8" ry="0.9" fill="#999" stroke="#444" stroke-width="0.3" />
<path d="M790.13,385.3 A5.33,10.7 0 0 0 790.13,406.7 L794.27,406.7 A5.33,10.7 0 0 0 794.27,385.3 Z" fill="url(#gV)" stroke="#404040" stroke-width="0.6" stroke-linejoin="round" />
<ellipse cx="794.27" cy="396" rx="5.33" ry="10.7" fill="url(#gF)" stroke="#404040" stroke-width="0.6" />
<ellipse cx="794.47" cy="396" rx="3.73" ry="8.1" fill="url(#gHole)" stroke="#444" stroke-width="0.5" />
<ellipse cx="795.17" cy="396.4" rx="2.22" ry="6.32" fill="#efefef" stroke="none" stroke-width="0.7" />
<ellipse cx="785.6" cy="410.4" rx="2.4" ry="2.5" fill="#9b9b9b" stroke="#333" stroke-width="0.8" />
<ellipse cx="785.8" cy="410.5" rx="0.9" ry="1" fill="#e5e5e5" stroke="none" stroke-width="0.7" />
<rect x="796" y="409.2" width="6.6" height="2.4" rx="0.6" fill="#8a8a8a" stroke="#333" stroke-width="0.5" />
<ellipse cx="794.6" cy="410.4" rx="1.7" ry="2" fill="#555" stroke="#333" stroke-width="0.6" />
<ellipse cx="802.4" cy="410.4" rx="1" ry="1.9" fill="#ddd" stroke="#444" stroke-width="0.5" />
<path d="M811.18,385.2 C803.78,386.66 801.2,390.8 801.2,396.4 C801.2,402 803.78,406.14 811.18,407.6 Z" fill="#4d4d4d" stroke="#333" stroke-width="0.6" stroke-linejoin="round" />
<line x1="809.16" y1="406.63" x2="805.37" y2="405.4" stroke="#d2d2d2" stroke-width="0.9"/>
<line x1="807.46" y1="405.71" x2="803.68" y2="404.59" stroke="#d2d2d2" stroke-width="0.9"/>
<line x1="805.99" y1="404.08" x2="802.2" y2="403.16" stroke="#d2d2d2" stroke-width="0.9"/>
<line x1="804.84" y1="401.87" x2="801.06" y2="401.21" stroke="#d2d2d2" stroke-width="0.9"/>
<line x1="804.12" y1="399.24" x2="800.34" y2="398.9" stroke="#d2d2d2" stroke-width="0.9"/>
<line x1="803.87" y1="396.4" x2="800.09" y2="396.4" stroke="#d2d2d2" stroke-width="0.9"/>
<line x1="804.12" y1="393.56" x2="800.34" y2="393.9" stroke="#d2d2d2" stroke-width="0.9"/>
<line x1="804.84" y1="390.93" x2="801.06" y2="391.59" stroke="#d2d2d2" stroke-width="0.9"/>
<line x1="805.99" y1="388.72" x2="802.2" y2="389.64" stroke="#d2d2d2" stroke-width="0.9"/>
<line x1="807.46" y1="387.09" x2="803.68" y2="388.21" stroke="#d2d2d2" stroke-width="0.9"/>
<line x1="809.16" y1="386.17" x2="805.37" y2="387.4" stroke="#d2d2d2" stroke-width="0.9"/>
<ellipse cx="811.18" cy="396.4" rx="7.22" ry="11.2" fill="url(#gF)" stroke="#444" stroke-width="0.6" />
<ellipse cx="811.48" cy="396.4" rx="5.2" ry="8.74" fill="#b9b9b9" stroke="#555" stroke-width="0.5" />
<ellipse cx="811.68" cy="396.4" rx="3.76" ry="6.94" fill="url(#gHole)" stroke="#444" stroke-width="0.5" />
<ellipse cx="812.08" cy="396.7" rx="2.46" ry="5.15" fill="#f3f3f3" stroke="none" stroke-width="0.7" />
<path d="M835,396.2 L834.98,397.23 L834.28,398.06 L834.2,398.98 L834.71,400.26 L834.55,401.23 L833.76,401.64 L833.55,402.48 L833.86,403.99 L833.56,404.83 L832.75,404.78 L832.43,405.46 L832.51,407.08 L832.11,407.73 L831.34,407.22 L830.94,407.7 L830.79,409.3 L830.32,409.69 L829.65,408.77 L829.19,409 L828.82,410.45 L828.31,410.56 L827.8,409.3 L827.33,409.27 L826.78,410.45 L826.27,410.27 L825.95,408.77 L825.51,408.47 L824.81,409.3 L824.35,408.84 L824.26,407.22 L823.87,406.69 L823.09,407.08 L822.71,406.38 L822.85,404.78 L822.56,404.05 L821.74,403.99 L821.48,403.1 L821.84,401.64 L821.66,400.78 L820.89,400.26 L820.76,399.26 L821.32,398.06 L821.27,397.13 L820.6,396.2 L820.62,395.17 L821.32,394.34 L821.4,393.42 L820.89,392.14 L821.05,391.17 L821.84,390.76 L822.05,389.92 L821.74,388.41 L822.04,387.57 L822.85,387.62 L823.17,386.94 L823.09,385.32 L823.49,384.67 L824.26,385.18 L824.66,384.7 L824.81,383.1 L825.28,382.71 L825.95,383.63 L826.41,383.4 L826.78,381.95 L827.29,381.84 L827.8,383.1 L828.27,383.13 L828.82,381.95 L829.33,382.13 L829.65,383.63 L830.09,383.93 L830.79,383.1 L831.25,383.56 L831.34,385.18 L831.73,385.71 L832.51,385.32 L832.89,386.02 L832.75,387.62 L833.04,388.35 L833.86,388.41 L834.12,389.3 L833.76,390.76 L833.94,391.62 L834.71,392.14 L834.84,393.14 L834.28,394.34 L834.33,395.27Z" fill="#4a4a4a" stroke="#333" stroke-width="0.4" stroke-linejoin="round" />
<line x1="827.79" y1="410.56" x2="831.89" y2="410.56" stroke="#e0e0e0" stroke-width="0.55"/>
<line x1="826.77" y1="410.27" x2="830.87" y2="410.27" stroke="#e0e0e0" stroke-width="0.55"/>
<line x1="825.78" y1="409.69" x2="829.88" y2="409.69" stroke="#e0e0e0" stroke-width="0.55"/>
<line x1="824.85" y1="408.84" x2="828.95" y2="408.84" stroke="#e0e0e0" stroke-width="0.55"/>
<line x1="823.99" y1="407.73" x2="828.09" y2="407.73" stroke="#e0e0e0" stroke-width="0.55"/>
<line x1="823.21" y1="406.38" x2="827.31" y2="406.38" stroke="#e0e0e0" stroke-width="0.55"/>
<line x1="822.54" y1="404.83" x2="826.64" y2="404.83" stroke="#e0e0e0" stroke-width="0.55"/>
<line x1="821.98" y1="403.1" x2="826.08" y2="403.1" stroke="#e0e0e0" stroke-width="0.55"/>
<line x1="821.55" y1="401.23" x2="825.65" y2="401.23" stroke="#e0e0e0" stroke-width="0.55"/>
<line x1="821.26" y1="399.26" x2="825.36" y2="399.26" stroke="#e0e0e0" stroke-width="0.55"/>
<line x1="821.12" y1="397.23" x2="825.22" y2="397.23" stroke="#e0e0e0" stroke-width="0.55"/>
<line x1="821.12" y1="395.17" x2="825.22" y2="395.17" stroke="#e0e0e0" stroke-width="0.55"/>
<line x1="821.26" y1="393.14" x2="825.36" y2="393.14" stroke="#e0e0e0" stroke-width="0.55"/>
<line x1="821.55" y1="391.17" x2="825.65" y2="391.17" stroke="#e0e0e0" stroke-width="0.55"/>
<line x1="821.98" y1="389.3" x2="826.08" y2="389.3" stroke="#e0e0e0" stroke-width="0.55"/>
<line x1="822.54" y1="387.57" x2="826.64" y2="387.57" stroke="#e0e0e0" stroke-width="0.55"/>
<line x1="823.21" y1="386.02" x2="827.31" y2="386.02" stroke="#e0e0e0" stroke-width="0.55"/>
<line x1="823.99" y1="384.67" x2="828.09" y2="384.67" stroke="#e0e0e0" stroke-width="0.55"/>
<line x1="824.85" y1="383.56" x2="828.95" y2="383.56" stroke="#e0e0e0" stroke-width="0.55"/>
<line x1="825.78" y1="382.71" x2="829.88" y2="382.71" stroke="#e0e0e0" stroke-width="0.55"/>
<line x1="826.77" y1="382.13" x2="830.87" y2="382.13" stroke="#e0e0e0" stroke-width="0.55"/>
<line x1="827.79" y1="381.84" x2="831.89" y2="381.84" stroke="#e0e0e0" stroke-width="0.55"/>
<path d="M840.6,396.2 L840.58,397.23 L839.88,398.06 L839.8,398.98 L840.31,400.26 L840.15,401.23 L839.36,401.64 L839.15,402.48 L839.46,403.99 L839.16,404.83 L838.35,404.78 L838.03,405.46 L838.11,407.08 L837.71,407.73 L836.94,407.22 L836.54,407.7 L836.39,409.3 L835.92,409.69 L835.25,408.77 L834.79,409 L834.42,410.45 L833.91,410.56 L833.4,409.3 L832.93,409.27 L832.38,410.45 L831.87,410.27 L831.55,408.77 L831.11,408.47 L830.41,409.3 L829.95,408.84 L829.86,407.22 L829.47,406.69 L828.69,407.08 L828.31,406.38 L828.45,404.78 L828.16,404.05 L827.34,403.99 L827.08,403.1 L827.44,401.64 L827.26,400.78 L826.49,400.26 L826.36,399.26 L826.92,398.06 L826.87,397.13 L826.2,396.2 L826.22,395.17 L826.92,394.34 L827,393.42 L826.49,392.14 L826.65,391.17 L827.44,390.76 L827.65,389.92 L827.34,388.41 L827.64,387.57 L828.45,387.62 L828.77,386.94 L828.69,385.32 L829.09,384.67 L829.86,385.18 L830.26,384.7 L830.41,383.1 L830.88,382.71 L831.55,383.63 L832.01,383.4 L832.38,381.95 L832.89,381.84 L833.4,383.1 L833.87,383.13 L834.42,381.95 L834.93,382.13 L835.25,383.63 L835.69,383.93 L836.39,383.1 L836.85,383.56 L836.94,385.18 L837.33,385.71 L838.11,385.32 L838.49,386.02 L838.35,387.62 L838.64,388.35 L839.46,388.41 L839.72,389.3 L839.36,390.76 L839.54,391.62 L840.31,392.14 L840.44,393.14 L839.88,394.34 L839.93,395.27Z" fill="#c4c4c4" stroke="#333" stroke-width="0.5" stroke-linejoin="round" />
<ellipse cx="833.4" cy="396.2" rx="5.6" ry="12.4" fill="url(#gF)" stroke="#666" stroke-width="0.4" />
<ellipse cx="833.6" cy="396.2" rx="3.8" ry="7" fill="#e9e9e9" stroke="#777" stroke-width="0.4" />
<ellipse cx="833.6" cy="396.2" rx="2.2" ry="4.6" fill="url(#gHoleV)" stroke="#444" stroke-width="0.6" />
<path d="M850.82,386.4 C845.62,387.51 843.8,391.2 843.8,396 C843.8,400.8 845.62,404.49 850.82,405.6 Z" fill="#4d4d4d" stroke="#333" stroke-width="0.6" stroke-linejoin="round" />
<line x1="849.16" y1="404.77" x2="846.5" y2="403.72" stroke="#d2d2d2" stroke-width="0.9"/>
<line x1="847.97" y1="403.98" x2="845.31" y2="403.02" stroke="#d2d2d2" stroke-width="0.9"/>
<line x1="846.93" y1="402.58" x2="844.27" y2="401.79" stroke="#d2d2d2" stroke-width="0.9"/>
<line x1="846.13" y1="400.69" x2="843.46" y2="400.13" stroke="#d2d2d2" stroke-width="0.9"/>
<line x1="845.62" y1="398.44" x2="842.96" y2="398.14" stroke="#d2d2d2" stroke-width="0.9"/>
<line x1="845.44" y1="396" x2="842.78" y2="396" stroke="#d2d2d2" stroke-width="0.9"/>
<line x1="845.62" y1="393.56" x2="842.96" y2="393.86" stroke="#d2d2d2" stroke-width="0.9"/>
<line x1="846.13" y1="391.31" x2="843.46" y2="391.87" stroke="#d2d2d2" stroke-width="0.9"/>
<line x1="846.93" y1="389.42" x2="844.27" y2="390.21" stroke="#d2d2d2" stroke-width="0.9"/>
<line x1="847.97" y1="388.02" x2="845.31" y2="388.98" stroke="#d2d2d2" stroke-width="0.9"/>
<line x1="849.16" y1="387.23" x2="846.5" y2="388.28" stroke="#d2d2d2" stroke-width="0.9"/>
<ellipse cx="850.82" cy="396" rx="5.08" ry="9.6" fill="url(#gF)" stroke="#444" stroke-width="0.6" />
<ellipse cx="851.12" cy="396" rx="3.66" ry="7.49" fill="#b9b9b9" stroke="#555" stroke-width="0.5" />
<ellipse cx="851.32" cy="396" rx="2.64" ry="5.95" fill="url(#gHole)" stroke="#444" stroke-width="0.5" />
<ellipse cx="851.72" cy="396.3" rx="1.73" ry="4.42" fill="#f3f3f3" stroke="none" stroke-width="0.7" />
<path d="M858.8,396 L861.25,389.8 L866.64,389.8 L868.6,396 L866.64,402.2 L861.25,402.2 Z" fill="url(#gF)" stroke="#404040" stroke-width="0.7" stroke-linejoin="round" />
<ellipse cx="864.48" cy="396" rx="3" ry="4.2" fill="#e8e8e8" stroke="#404040" stroke-width="0.49" />
<ellipse cx="864.68" cy="396" rx="2" ry="3" fill="url(#gHole)" stroke="#404040" stroke-width="0.56" />
<ellipse cx="875.7" cy="396.4" rx="4.3" ry="8.6" fill="#8e8e8e" stroke="#404040" stroke-width="0.5" />
<g>
<ellipse cx="876.4" cy="396.4" rx="4.2" ry="8.5" fill="#d4d4d4" stroke="#404040" stroke-width="0.7" />
<ellipse cx="876.4" cy="396.4" rx="2.9" ry="6.6" fill="#fff" stroke="#404040" stroke-width="0.63" />
</g>
<path d="M886.52,387.6 A4.32,8.8 0 0 0 886.52,405.2 L889.88,405.2 A4.32,8.8 0 0 0 889.88,387.6 Z" fill="url(#gV)" stroke="#404040" stroke-width="0.6" stroke-linejoin="round" />
<ellipse cx="889.88" cy="396.4" rx="4.32" ry="8.8" fill="url(#gF)" stroke="#404040" stroke-width="0.6" />
<ellipse cx="890.08" cy="396.4" rx="2.94" ry="6.6" fill="url(#gHole)" stroke="#444" stroke-width="0.5" />
<ellipse cx="890.78" cy="396.8" rx="1.78" ry="5.15" fill="#efefef" stroke="none" stroke-width="0.7" />
<line x1="867.6" y1="404.2" x2="874" y2="416.4" stroke="#3a3a3a" stroke-width="2"/>
<line x1="867.9" y1="404.4" x2="874.1" y2="416.2" stroke="#999" stroke-width="0.5"/>
<path d="M58.8,446.6 A10.2,13.6 0 0 0 58.8,473.8 L62,473.8 A10.2,13.6 0 0 0 62,446.6 Z" fill="url(#gVd)" stroke="#404040" stroke-width="0.7" stroke-linejoin="round" />
<rect x="65.69" y="448.3" width="1.8" height="1.6" rx="0" fill="#dcdcdc" stroke="#444" stroke-width="0.35" />
<rect x="68.69" y="452.74" width="1.8" height="1.6" rx="0" fill="#dcdcdc" stroke="#444" stroke-width="0.35" />
<rect x="69.86" y="457.18" width="1.8" height="1.6" rx="0" fill="#dcdcdc" stroke="#444" stroke-width="0.35" />
<rect x="69.86" y="461.62" width="1.8" height="1.6" rx="0" fill="#dcdcdc" stroke="#444" stroke-width="0.35" />
<rect x="68.69" y="466.06" width="1.8" height="1.6" rx="0" fill="#dcdcdc" stroke="#444" stroke-width="0.35" />
<rect x="65.69" y="470.5" width="1.8" height="1.6" rx="0" fill="#dcdcdc" stroke="#444" stroke-width="0.35" />
<ellipse cx="58.8" cy="460.2" rx="10.2" ry="13.6" fill="url(#gF)" stroke="#444" stroke-width="0.6" />
<ellipse cx="59.1" cy="460.2" rx="8.9" ry="12" fill="none" stroke="#777" stroke-width="0.4" />
<ellipse cx="65.41" cy="462.86" rx="1.25" ry="1.5" fill="#f6f6f6" stroke="#333" stroke-width="0.6" />
<ellipse cx="63.05" cy="467.41" rx="1.25" ry="1.5" fill="#f6f6f6" stroke="#333" stroke-width="0.6" />
<ellipse cx="59.19" cy="469.2" rx="1.25" ry="1.5" fill="#f6f6f6" stroke="#333" stroke-width="0.6" />
<ellipse cx="55.3" cy="467.56" rx="1.25" ry="1.5" fill="#f6f6f6" stroke="#333" stroke-width="0.6" />
<ellipse cx="52.85" cy="463.1" rx="1.25" ry="1.5" fill="#f6f6f6" stroke="#333" stroke-width="0.6" />
<ellipse cx="52.79" cy="457.54" rx="1.25" ry="1.5" fill="#f6f6f6" stroke="#333" stroke-width="0.6" />
<ellipse cx="55.15" cy="452.99" rx="1.25" ry="1.5" fill="#f6f6f6" stroke="#333" stroke-width="0.6" />
<ellipse cx="59.01" cy="451.2" rx="1.25" ry="1.5" fill="#f6f6f6" stroke="#333" stroke-width="0.6" />
<ellipse cx="62.9" cy="452.84" rx="1.25" ry="1.5" fill="#f6f6f6" stroke="#333" stroke-width="0.6" />
<ellipse cx="65.35" cy="457.3" rx="1.25" ry="1.5" fill="#f6f6f6" stroke="#333" stroke-width="0.6" />
<path d="M62.6,460.2 L61.19,461.39 L61.63,463.74 L60.08,463.06 L59.3,465.2 L58.52,463.06 L56.97,463.74 L57.41,461.39 L56,460.2 L57.41,459.01 L56.97,456.66 L58.52,457.34 L59.3,455.2 L60.08,457.34 L61.63,456.66 L61.19,459.01Z" fill="#fff" stroke="#333" stroke-width="0.6" stroke-linejoin="round" />
<path d="M85.51,447.8 A8.51,12.4 0 0 0 85.51,472.6 L90.89,472.6 A8.51,12.4 0 0 0 90.89,447.8 Z" fill="url(#gV)" stroke="#404040" stroke-width="0.6" stroke-linejoin="round" />
<ellipse cx="85.51" cy="460.2" rx="8.51" ry="12.4" fill="url(#gF)" stroke="#404040" stroke-width="0.6" />
<ellipse cx="85.81" cy="460.2" rx="7" ry="10.2" fill="#fff" stroke="#555" stroke-width="0.5" />
<path d="M86.71,450.6 A6,9.6 0 0 1 86.71,469.8" fill="none" stroke="#8f8f8f" stroke-width="1.5" stroke-linejoin="round" />
<path d="M111.79,449.76 L118.6,448 C123.7,453.04 123.7,468.16 118.6,473.2 L111.79,471.44 Z" fill="#4d4d4d" stroke="#333" stroke-width="0.6" stroke-linejoin="round" />
<line x1="114.44" y1="450.35" x2="119.96" y2="449.12" stroke="#d0d0d0" stroke-width="0.7"/>
<line x1="116.23" y1="451.54" x2="121.75" y2="450.45" stroke="#d0d0d0" stroke-width="0.7"/>
<line x1="117.72" y1="453.5" x2="123.24" y2="452.65" stroke="#d0d0d0" stroke-width="0.7"/>
<line x1="118.79" y1="456.06" x2="124.31" y2="455.52" stroke="#d0d0d0" stroke-width="0.7"/>
<line x1="119.36" y1="459.01" x2="124.88" y2="458.82" stroke="#d0d0d0" stroke-width="0.7"/>
<line x1="119.37" y1="462.09" x2="124.89" y2="462.27" stroke="#d0d0d0" stroke-width="0.7"/>
<line x1="118.82" y1="465.05" x2="124.34" y2="465.58" stroke="#d0d0d0" stroke-width="0.7"/>
<line x1="117.76" y1="467.62" x2="123.28" y2="468.47" stroke="#d0d0d0" stroke-width="0.7"/>
<line x1="116.28" y1="469.61" x2="121.8" y2="470.69" stroke="#d0d0d0" stroke-width="0.7"/>
<line x1="114.5" y1="470.83" x2="120.02" y2="472.05" stroke="#d0d0d0" stroke-width="0.7"/>
<ellipse cx="111.79" cy="460.6" rx="6.99" ry="10.84" fill="url(#gF)" stroke="#444" stroke-width="0.6" />
<ellipse cx="112.09" cy="460.6" rx="5.17" ry="8.57" fill="url(#gHole)" stroke="#444" stroke-width="0.6" />
<ellipse cx="112.69" cy="461" rx="3.36" ry="6.3" fill="#ededed" stroke="none" stroke-width="0.7" />
<ellipse cx="134.5" cy="473.5" rx="2.5" ry="2.4" fill="#b5b5b5" stroke="#333" stroke-width="0.7" />
<line x1="132.6" y1="473.5" x2="136.4" y2="473.5" stroke="#444" stroke-width="0.5"/>
<path d="M166,445.4 C172,446.5 176.4,451.5 176.4,457.6 C176.4,463.5 173,467.6 168,468.6 Z" fill="url(#gF2)" stroke="#555" stroke-width="0.6" stroke-linejoin="round" />
<path d="M170.4,447.6 C173,450 174,454 174,458 C174,462 173,465 171,467" fill="none" stroke="#888" stroke-width="0.5" stroke-linejoin="round" />
<ellipse cx="158.6" cy="458.6" rx="13.4" ry="21" fill="#9a9a9a" stroke="#444" stroke-width="0.6" />
<ellipse cx="157" cy="458.6" rx="13.6" ry="21" fill="#e9e9e9" stroke="#444" stroke-width="0.6" />
<path d="M169.8,458.6 L169.75,460.33 L168.07,461.57 L167.86,463.02 L169.04,465.39 L168.63,466.98 L166.79,467.11 L166.29,468.34 L166.88,471.27 L166.15,472.49 L164.4,471.5 L163.67,472.35 L163.59,475.43 L162.65,476.13 L161.24,474.15 L160.37,474.49 L159.63,477.32 L158.6,477.4 L157.71,474.7 L156.83,474.49 L155.53,476.68 L154.55,476.13 L154.31,473.07 L153.53,472.35 L151.85,473.6 L151.05,472.49 L151.48,469.49 L150.91,468.34 L149.08,468.5 L148.57,466.98 L149.62,464.44 L149.34,463.02 L147.59,462.05 L147.45,460.33 L148.97,458.6 L149.01,457.11 L147.59,455.15 L147.83,453.46 L149.62,452.76 L149.98,451.39 L149.08,448.7 L149.66,447.27 L151.48,447.71 L152.11,446.65 L151.85,443.6 L152.7,442.62 L154.31,444.13 L155.12,443.52 L155.53,440.52 L156.54,440.12 L157.71,442.5 L158.6,442.43 L159.63,439.88 L160.66,440.12 L161.24,443.05 L162.08,443.52 L163.59,441.77 L164.5,442.62 L164.4,445.7 L165.09,446.65 L166.88,445.93 L167.54,447.27 L166.79,450.09 L167.22,451.39 L169.04,451.81 L169.37,453.46 L168.07,455.63 L168.19,457.11Z" fill="#c4c4c4" stroke="#3f3f3f" stroke-width="0.6" stroke-linejoin="round" />
<path d="M140.7,449.2 C146,446 150,440.6 156,440.4 C162,441.6 165.4,449.6 165.4,458.6 C165.4,467.6 162,475.6 156,476.8 C150,476.6 146,471 140.7,467.8 Z" fill="url(#gDome)" stroke="#777" stroke-width="0.4" stroke-linejoin="round" />
<path d="M138.7,449.5 A6.4,9 0 0 0 138.7,467.5 L143.2,467.5 A6.4,9 0 0 0 143.2,449.5 Z" fill="url(#gV)" stroke="#444" stroke-width="0.7" stroke-linejoin="round" />
<ellipse cx="138.7" cy="458.5" rx="6.4" ry="9" fill="#d9d9d9" stroke="#444" stroke-width="0.6" />
<ellipse cx="139.1" cy="458.6" rx="4.8" ry="7" fill="#b5b5b5" stroke="#555" stroke-width="0.5" />
<ellipse cx="139.5" cy="458.7" rx="3.5" ry="5.2" fill="url(#gHole)" stroke="#3a3a3a" stroke-width="0.6" />
<ellipse cx="140.1" cy="459.3" rx="2" ry="3.4" fill="#e4e4e4" stroke="none" stroke-width="0.7" />
<path d="M236.39,462.06 L236.33,463.68 L234.66,465 L234.51,466.5 L235.87,468.5 L235.61,470.08 L233.81,470.92 L233.48,472.35 L234.57,474.69 L234.13,476.18 L232.25,476.49 L231.76,477.81 L232.55,480.42 L231.94,481.75 L230.05,481.54 L229.41,482.7 L229.87,485.48 L229.11,486.63 L227.28,485.89 L226.51,486.85 L226.62,489.71 L225.73,490.62 L224.02,489.39 L223.15,490.12 L222.91,492.97 L221.93,493.61 L220.4,491.93 L219.45,492.4 L218.88,495.13 L217.83,495.49 L216.53,493.41 L215.54,493.61 L214.65,496.13 L213.58,496.2 L212.55,493.79 L211.55,493.7 L210.37,495.94 L209.31,495.7 L208.59,493.05 L207.62,492.69 L206.18,494.55 L205.17,494.02 L204.79,491.22 L203.88,490.59 L202.24,492.02 L201.31,491.22 L201.27,488.36 L200.45,487.49 L198.67,488.44 L197.85,487.39 L198.16,484.57 L197.46,483.49 L195.59,483.92 L194.91,482.66 L195.57,479.97 L195.01,478.72 L193.12,478.62 L192.6,477.2 L193.57,474.73 L193.17,473.34 L191.32,472.73 L190.99,471.18 L192.24,469.03 L192.02,467.55 L190.28,466.43 L190.14,464.82 L191.62,463.05 L191.58,461.53 L190.01,459.94 L190.07,458.32 L191.74,457 L191.89,455.5 L190.53,453.5 L190.79,451.92 L192.59,451.08 L192.92,449.65 L191.83,447.31 L192.27,445.82 L194.15,445.51 L194.64,444.19 L193.85,441.58 L194.46,440.25 L196.35,440.46 L196.99,439.3 L196.53,436.52 L197.29,435.37 L199.12,436.11 L199.89,435.15 L199.78,432.29 L200.67,431.38 L202.38,432.61 L203.25,431.88 L203.49,429.03 L204.47,428.39 L206,430.07 L206.95,429.6 L207.52,426.87 L208.57,426.51 L209.87,428.59 L210.86,428.39 L211.75,425.87 L212.82,425.8 L213.85,428.21 L214.85,428.3 L216.03,426.06 L217.09,426.3 L217.81,428.95 L218.78,429.31 L220.22,427.45 L221.23,427.98 L221.61,430.78 L222.52,431.41 L224.16,429.98 L225.09,430.78 L225.13,433.64 L225.95,434.51 L227.73,433.56 L228.55,434.61 L228.24,437.43 L228.94,438.51 L230.81,438.08 L231.49,439.34 L230.83,442.03 L231.39,443.28 L233.28,443.38 L233.8,444.8 L232.83,447.27 L233.23,448.66 L235.08,449.27 L235.41,450.82 L234.16,452.97 L234.38,454.45 L236.12,455.57 L236.26,457.18 L234.78,458.95 L234.82,460.47Z" fill="#8d8d8d" stroke="#444" stroke-width="0.5" stroke-linejoin="round" />
<ellipse cx="212" cy="460.8" rx="22" ry="33.6" fill="#b1b1b1" stroke="#666" stroke-width="0.4" />
<ellipse cx="208.6" cy="460.4" rx="22.7" ry="34.5" fill="url(#gF)" stroke="#444" stroke-width="0.7" />
<ellipse cx="209.2" cy="460.4" rx="21.4" ry="32.8" fill="none" stroke="#999" stroke-width="0.4" />
<ellipse cx="223.83" cy="464.61" rx="0.75" ry="0.8" fill="#555" stroke="none" stroke-width="0.7" />
<ellipse cx="221.71" cy="472.4" rx="0.75" ry="0.8" fill="#555" stroke="none" stroke-width="0.7" />
<ellipse cx="217.79" cy="478.36" rx="0.75" ry="0.8" fill="#555" stroke="none" stroke-width="0.7" />
<ellipse cx="212.67" cy="481.58" rx="0.75" ry="0.8" fill="#555" stroke="none" stroke-width="0.7" />
<ellipse cx="207.13" cy="481.58" rx="0.75" ry="0.8" fill="#555" stroke="none" stroke-width="0.7" />
<ellipse cx="202.01" cy="478.36" rx="0.75" ry="0.8" fill="#555" stroke="none" stroke-width="0.7" />
<ellipse cx="198.09" cy="472.4" rx="0.75" ry="0.8" fill="#555" stroke="none" stroke-width="0.7" />
<ellipse cx="195.97" cy="464.61" rx="0.75" ry="0.8" fill="#555" stroke="none" stroke-width="0.7" />
<ellipse cx="195.97" cy="456.19" rx="0.75" ry="0.8" fill="#555" stroke="none" stroke-width="0.7" />
<ellipse cx="198.09" cy="448.4" rx="0.75" ry="0.8" fill="#555" stroke="none" stroke-width="0.7" />
<ellipse cx="202.01" cy="442.44" rx="0.75" ry="0.8" fill="#555" stroke="none" stroke-width="0.7" />
<ellipse cx="207.13" cy="439.22" rx="0.75" ry="0.8" fill="#555" stroke="none" stroke-width="0.7" />
<ellipse cx="212.67" cy="439.22" rx="0.75" ry="0.8" fill="#555" stroke="none" stroke-width="0.7" />
<ellipse cx="217.79" cy="442.44" rx="0.75" ry="0.8" fill="#555" stroke="none" stroke-width="0.7" />
<ellipse cx="221.71" cy="448.4" rx="0.75" ry="0.8" fill="#555" stroke="none" stroke-width="0.7" />
<ellipse cx="223.83" cy="456.19" rx="0.75" ry="0.8" fill="#555" stroke="none" stroke-width="0.7" />
<ellipse cx="209.9" cy="460.4" rx="11.6" ry="18.4" fill="#8b8b8b" stroke="#444" stroke-width="0.6" />
<ellipse cx="211" cy="460.6" rx="10.4" ry="17.6" fill="#fff" stroke="#666" stroke-width="0.5" />
<ellipse cx="254" cy="460" rx="8.4" ry="10.7" fill="#909090" stroke="#404040" stroke-width="0.6" />
<ellipse cx="252.4" cy="460" rx="8.4" ry="10.7" fill="url(#gF)" stroke="#404040" stroke-width="0.6" />
<ellipse cx="252.2" cy="460.2" rx="6.53" ry="8.1" fill="url(#gHole)" stroke="#444" stroke-width="0.5" />
<ellipse cx="253.2" cy="460.3" rx="5.43" ry="7.6" fill="#fff" stroke="#777" stroke-width="0.4" />
<rect x="237.2" y="474.2" width="13.4" height="5.2" rx="2.2" fill="#4a4a4a" stroke="#333" stroke-width="0.6" />
<rect x="238.8" y="475" width="1.2" height="3.6" rx="0.4" fill="#d2d2d2" stroke="none" stroke-width="0.7" />
<rect x="241.1" y="475" width="1.2" height="3.6" rx="0.4" fill="#d2d2d2" stroke="none" stroke-width="0.7" />
<rect x="243.4" y="475" width="1.2" height="3.6" rx="0.4" fill="#d2d2d2" stroke="none" stroke-width="0.7" />
<rect x="245.7" y="475" width="1.2" height="3.6" rx="0.4" fill="#d2d2d2" stroke="none" stroke-width="0.7" />
<rect x="248" y="475" width="1.2" height="3.6" rx="0.4" fill="#d2d2d2" stroke="none" stroke-width="0.7" />
<path d="M276.5,449.8 C284.5,448.9 289.5,455.4 289.5,460.9 C289.5,466.4 284.5,471.9 276.5,471 Z" fill="url(#gF)" stroke="#444" stroke-width="0.6" stroke-linejoin="round" />
<path d="M283,450.2 C287,455.4 287,465.4 283,470.8" fill="none" stroke="#666" stroke-width="1" stroke-linejoin="round" />
<ellipse cx="276.5" cy="460.4" rx="5.6" ry="10.6" fill="#cfcfcf" stroke="#555" stroke-width="0.5" />
<path d="M274,454 A4,6.4 0 0 0 274,466.8 L278.5,466.8 A4,6.4 0 0 0 278.5,454 Z" fill="url(#gV)" stroke="#444" stroke-width="0.7" stroke-linejoin="round" />
<ellipse cx="274" cy="460.4" rx="4" ry="6.4" fill="#d8d8d8" stroke="#444" stroke-width="0.6" />
<ellipse cx="274.2" cy="460.4" rx="2.9" ry="4.9" fill="#5a5a5a" stroke="#333" stroke-width="0.4" />
<line x1="271.9" y1="457.4" x2="276.3" y2="457.4" stroke="#e6e6e6" stroke-width="0.7"/>
<line x1="271.9" y1="459.4" x2="276.3" y2="459.4" stroke="#e6e6e6" stroke-width="0.7"/>
<line x1="271.9" y1="461.4" x2="276.3" y2="461.4" stroke="#e6e6e6" stroke-width="0.7"/>
<line x1="271.9" y1="463.4" x2="276.3" y2="463.4" stroke="#e6e6e6" stroke-width="0.7"/>
<g transform="rotate(-32 292.8 427.3)">
<ellipse cx="292.3" cy="427.6" rx="6.2" ry="4.3" fill="#8c8c8c" stroke="#404040" stroke-width="0.5" />
<ellipse cx="292.8" cy="427.3" rx="6.2" ry="4.3" fill="url(#gF)" stroke="#404040" stroke-width="0.6" />
<ellipse cx="293" cy="427.3" rx="2.36" ry="1.63" fill="#f6f6f6" stroke="#555" stroke-width="0.5" />
</g>
<g transform="rotate(18 335.5 419.4)">
<ellipse cx="335" cy="419.7" rx="6.6" ry="4.2" fill="#8c8c8c" stroke="#404040" stroke-width="0.5" />
<ellipse cx="335.5" cy="419.4" rx="6.6" ry="4.2" fill="url(#gF)" stroke="#404040" stroke-width="0.6" />
<ellipse cx="335.7" cy="419.4" rx="2.51" ry="1.6" fill="#f6f6f6" stroke="#555" stroke-width="0.5" />
</g>
<g transform="rotate(-35 346.4 493.4)">
<ellipse cx="345.9" cy="493.7" rx="6.2" ry="4.3" fill="#8c8c8c" stroke="#404040" stroke-width="0.5" />
<ellipse cx="346.4" cy="493.4" rx="6.2" ry="4.3" fill="url(#gF)" stroke="#404040" stroke-width="0.6" />
<ellipse cx="346.6" cy="493.4" rx="2.36" ry="1.63" fill="#f6f6f6" stroke="#555" stroke-width="0.5" />
</g>
<g transform="rotate(18 302.6 498)">
<ellipse cx="302.1" cy="498.3" rx="6.6" ry="4.2" fill="#8c8c8c" stroke="#404040" stroke-width="0.5" />
<ellipse cx="302.6" cy="498" rx="6.6" ry="4.2" fill="url(#gF)" stroke="#404040" stroke-width="0.6" />
<ellipse cx="302.8" cy="498" rx="2.51" ry="1.6" fill="#f6f6f6" stroke="#555" stroke-width="0.5" />
</g>
<g transform="rotate(215 302.3 439.1)">
<path d="M308.55,439.1 L308.43,440.34 L307.16,441.15 L306.68,442.07 L306.72,443.59 L305.77,444.38 L304.32,444.04 L303.33,444.35 L302.3,445.45 L301.08,445.33 L300.28,444.04 L299.37,443.55 L297.88,443.59 L297.1,442.63 L297.44,441.15 L297.14,440.14 L296.05,439.1 L296.17,437.86 L297.44,437.05 L297.92,436.13 L297.88,434.61 L298.83,433.82 L300.28,434.16 L301.27,433.85 L302.3,432.75 L303.52,432.87 L304.32,434.16 L305.23,434.65 L306.72,434.61 L307.5,435.57 L307.16,437.05 L307.46,438.06Z" fill="#5a5a5a" stroke="#333" stroke-width="0.45" stroke-linejoin="round" />
<ellipse cx="302.3" cy="439.1" rx="5" ry="5.08" fill="#7c7c7c" stroke="none" stroke-width="0.7" />
<ellipse cx="306.65" cy="439.54" rx="1.5" ry="0.85" fill="#d6d6d6" stroke="#555" stroke-width="0.25" transform="rotate(5.62 306.65 439.54)" />
<ellipse cx="305.08" cy="442.54" rx="1.5" ry="0.85" fill="#d6d6d6" stroke="#555" stroke-width="0.25" transform="rotate(50.62 305.08 442.54)" />
<ellipse cx="301.87" cy="443.52" rx="1.5" ry="0.85" fill="#d6d6d6" stroke="#555" stroke-width="0.25" transform="rotate(95.62 301.87 443.52)" />
<ellipse cx="298.92" cy="441.92" rx="1.5" ry="0.85" fill="#d6d6d6" stroke="#555" stroke-width="0.25" transform="rotate(140.62 298.92 441.92)" />
<ellipse cx="297.95" cy="438.66" rx="1.5" ry="0.85" fill="#d6d6d6" stroke="#555" stroke-width="0.25" transform="rotate(185.62 297.95 438.66)" />
<ellipse cx="299.52" cy="435.66" rx="1.5" ry="0.85" fill="#d6d6d6" stroke="#555" stroke-width="0.25" transform="rotate(230.62 299.52 435.66)" />
<ellipse cx="302.73" cy="434.68" rx="1.5" ry="0.85" fill="#d6d6d6" stroke="#555" stroke-width="0.25" transform="rotate(275.62 302.73 434.68)" />
<ellipse cx="305.68" cy="436.28" rx="1.5" ry="0.85" fill="#d6d6d6" stroke="#555" stroke-width="0.25" transform="rotate(320.62 305.68 436.28)" />
<ellipse cx="302.6" cy="439.1" rx="2.12" ry="2.16" fill="#b0b0b0" stroke="#3a3a3a" stroke-width="0.4" />
<ellipse cx="302.8" cy="439.2" rx="0.94" ry="0.95" fill="#555" stroke="none" stroke-width="0.7" />
</g>
<g transform="rotate(-60 329.5 433.8)">
<path d="M335.75,433.8 L335.63,435.04 L334.36,435.85 L333.88,436.77 L333.92,438.29 L332.97,439.08 L331.52,438.74 L330.53,439.05 L329.5,440.15 L328.28,440.03 L327.48,438.74 L326.57,438.25 L325.08,438.29 L324.3,437.33 L324.64,435.85 L324.34,434.84 L323.25,433.8 L323.37,432.56 L324.64,431.75 L325.12,430.83 L325.08,429.31 L326.03,428.52 L327.48,428.86 L328.47,428.55 L329.5,427.45 L330.72,427.57 L331.52,428.86 L332.43,429.35 L333.92,429.31 L334.7,430.27 L334.36,431.75 L334.66,432.76Z" fill="#5a5a5a" stroke="#333" stroke-width="0.45" stroke-linejoin="round" />
<ellipse cx="329.5" cy="433.8" rx="5" ry="5.08" fill="#7c7c7c" stroke="none" stroke-width="0.7" />
<ellipse cx="333.85" cy="434.24" rx="1.5" ry="0.85" fill="#d6d6d6" stroke="#555" stroke-width="0.25" transform="rotate(5.62 333.85 434.24)" />
<ellipse cx="332.28" cy="437.24" rx="1.5" ry="0.85" fill="#d6d6d6" stroke="#555" stroke-width="0.25" transform="rotate(50.62 332.28 437.24)" />
<ellipse cx="329.07" cy="438.22" rx="1.5" ry="0.85" fill="#d6d6d6" stroke="#555" stroke-width="0.25" transform="rotate(95.62 329.07 438.22)" />
<ellipse cx="326.12" cy="436.62" rx="1.5" ry="0.85" fill="#d6d6d6" stroke="#555" stroke-width="0.25" transform="rotate(140.62 326.12 436.62)" />
<ellipse cx="325.15" cy="433.36" rx="1.5" ry="0.85" fill="#d6d6d6" stroke="#555" stroke-width="0.25" transform="rotate(185.62 325.15 433.36)" />
<ellipse cx="326.72" cy="430.36" rx="1.5" ry="0.85" fill="#d6d6d6" stroke="#555" stroke-width="0.25" transform="rotate(230.62 326.72 430.36)" />
<ellipse cx="329.93" cy="429.38" rx="1.5" ry="0.85" fill="#d6d6d6" stroke="#555" stroke-width="0.25" transform="rotate(275.62 329.93 429.38)" />
<ellipse cx="332.88" cy="430.98" rx="1.5" ry="0.85" fill="#d6d6d6" stroke="#555" stroke-width="0.25" transform="rotate(320.62 332.88 430.98)" />
<ellipse cx="329.8" cy="433.8" rx="2.12" ry="2.16" fill="#b0b0b0" stroke="#3a3a3a" stroke-width="0.4" />
<ellipse cx="330" cy="433.9" rx="0.94" ry="0.95" fill="#555" stroke="none" stroke-width="0.7" />
</g>
<g transform="rotate(120 308.7 483.9)">
<path d="M314.95,483.9 L314.83,485.14 L313.56,485.95 L313.08,486.87 L313.12,488.39 L312.17,489.18 L310.72,488.84 L309.73,489.15 L308.7,490.25 L307.48,490.13 L306.68,488.84 L305.77,488.35 L304.28,488.39 L303.5,487.43 L303.84,485.95 L303.54,484.94 L302.45,483.9 L302.57,482.66 L303.84,481.85 L304.32,480.93 L304.28,479.41 L305.23,478.62 L306.68,478.96 L307.67,478.65 L308.7,477.55 L309.92,477.67 L310.72,478.96 L311.63,479.45 L313.12,479.41 L313.9,480.37 L313.56,481.85 L313.86,482.86Z" fill="#5a5a5a" stroke="#333" stroke-width="0.45" stroke-linejoin="round" />
<ellipse cx="308.7" cy="483.9" rx="5" ry="5.08" fill="#7c7c7c" stroke="none" stroke-width="0.7" />
<ellipse cx="313.05" cy="484.34" rx="1.5" ry="0.85" fill="#d6d6d6" stroke="#555" stroke-width="0.25" transform="rotate(5.62 313.05 484.34)" />
<ellipse cx="311.48" cy="487.34" rx="1.5" ry="0.85" fill="#d6d6d6" stroke="#555" stroke-width="0.25" transform="rotate(50.62 311.48 487.34)" />
<ellipse cx="308.27" cy="488.32" rx="1.5" ry="0.85" fill="#d6d6d6" stroke="#555" stroke-width="0.25" transform="rotate(95.62 308.27 488.32)" />
<ellipse cx="305.32" cy="486.72" rx="1.5" ry="0.85" fill="#d6d6d6" stroke="#555" stroke-width="0.25" transform="rotate(140.62 305.32 486.72)" />
<ellipse cx="304.35" cy="483.46" rx="1.5" ry="0.85" fill="#d6d6d6" stroke="#555" stroke-width="0.25" transform="rotate(185.62 304.35 483.46)" />
<ellipse cx="305.92" cy="480.46" rx="1.5" ry="0.85" fill="#d6d6d6" stroke="#555" stroke-width="0.25" transform="rotate(230.62 305.92 480.46)" />
<ellipse cx="309.13" cy="479.48" rx="1.5" ry="0.85" fill="#d6d6d6" stroke="#555" stroke-width="0.25" transform="rotate(275.62 309.13 479.48)" />
<ellipse cx="312.08" cy="481.08" rx="1.5" ry="0.85" fill="#d6d6d6" stroke="#555" stroke-width="0.25" transform="rotate(320.62 312.08 481.08)" />
<ellipse cx="309" cy="483.9" rx="2.12" ry="2.16" fill="#b0b0b0" stroke="#3a3a3a" stroke-width="0.4" />
<ellipse cx="309.2" cy="484" rx="0.94" ry="0.95" fill="#555" stroke="none" stroke-width="0.7" />
</g>
<g transform="rotate(35 336.1 481.6)">
<path d="M342.35,481.6 L342.23,482.84 L340.96,483.65 L340.48,484.57 L340.52,486.09 L339.57,486.88 L338.12,486.54 L337.13,486.85 L336.1,487.95 L334.88,487.83 L334.08,486.54 L333.17,486.05 L331.68,486.09 L330.9,485.13 L331.24,483.65 L330.94,482.64 L329.85,481.6 L329.97,480.36 L331.24,479.55 L331.72,478.63 L331.68,477.11 L332.63,476.32 L334.08,476.66 L335.07,476.35 L336.1,475.25 L337.32,475.37 L338.12,476.66 L339.03,477.15 L340.52,477.11 L341.3,478.07 L340.96,479.55 L341.26,480.56Z" fill="#5a5a5a" stroke="#333" stroke-width="0.45" stroke-linejoin="round" />
<ellipse cx="336.1" cy="481.6" rx="5" ry="5.08" fill="#7c7c7c" stroke="none" stroke-width="0.7" />
<ellipse cx="340.45" cy="482.04" rx="1.5" ry="0.85" fill="#d6d6d6" stroke="#555" stroke-width="0.25" transform="rotate(5.62 340.45 482.04)" />
<ellipse cx="338.88" cy="485.04" rx="1.5" ry="0.85" fill="#d6d6d6" stroke="#555" stroke-width="0.25" transform="rotate(50.62 338.88 485.04)" />
<ellipse cx="335.67" cy="486.02" rx="1.5" ry="0.85" fill="#d6d6d6" stroke="#555" stroke-width="0.25" transform="rotate(95.62 335.67 486.02)" />
<ellipse cx="332.72" cy="484.42" rx="1.5" ry="0.85" fill="#d6d6d6" stroke="#555" stroke-width="0.25" transform="rotate(140.62 332.72 484.42)" />
<ellipse cx="331.75" cy="481.16" rx="1.5" ry="0.85" fill="#d6d6d6" stroke="#555" stroke-width="0.25" transform="rotate(185.62 331.75 481.16)" />
<ellipse cx="333.32" cy="478.16" rx="1.5" ry="0.85" fill="#d6d6d6" stroke="#555" stroke-width="0.25" transform="rotate(230.62 333.32 478.16)" />
<ellipse cx="336.53" cy="477.18" rx="1.5" ry="0.85" fill="#d6d6d6" stroke="#555" stroke-width="0.25" transform="rotate(275.62 336.53 477.18)" />
<ellipse cx="339.48" cy="478.78" rx="1.5" ry="0.85" fill="#d6d6d6" stroke="#555" stroke-width="0.25" transform="rotate(320.62 339.48 478.78)" />
<ellipse cx="336.4" cy="481.6" rx="2.12" ry="2.16" fill="#b0b0b0" stroke="#3a3a3a" stroke-width="0.4" />
<ellipse cx="336.6" cy="481.7" rx="0.94" ry="0.95" fill="#555" stroke="none" stroke-width="0.7" />
</g>
<line x1="317.7" y1="459" x2="309.4" y2="449.5" stroke="#444" stroke-width="4.4"/>
<line x1="317.7" y1="459" x2="309.4" y2="449.5" stroke="#d9d9d9" stroke-width="3.3"/>
<ellipse cx="309.4" cy="449.5" rx="1.9" ry="1.9" fill="#e4e4e4" stroke="#444" stroke-width="0.5" />
<line x1="317.7" y1="459" x2="323.7" y2="447" stroke="#444" stroke-width="4.4"/>
<line x1="317.7" y1="459" x2="323.7" y2="447" stroke="#d9d9d9" stroke-width="3.3"/>
<ellipse cx="323.7" cy="447" rx="1.9" ry="1.9" fill="#e4e4e4" stroke="#444" stroke-width="0.5" />
<line x1="317.7" y1="459" x2="313.5" y2="471.5" stroke="#444" stroke-width="4.4"/>
<line x1="317.7" y1="459" x2="313.5" y2="471.5" stroke="#d9d9d9" stroke-width="3.3"/>
<ellipse cx="313.5" cy="471.5" rx="1.9" ry="1.9" fill="#e4e4e4" stroke="#444" stroke-width="0.5" />
<line x1="317.7" y1="459" x2="327.5" y2="470.3" stroke="#444" stroke-width="4.4"/>
<line x1="317.7" y1="459" x2="327.5" y2="470.3" stroke="#d9d9d9" stroke-width="3.3"/>
<ellipse cx="327.5" cy="470.3" rx="1.9" ry="1.9" fill="#e4e4e4" stroke="#444" stroke-width="0.5" />
<ellipse cx="317.7" cy="459" rx="6.2" ry="7.2" fill="#9a9a9a" stroke="#3a3a3a" stroke-width="0.6" />
<ellipse cx="317.2" cy="458.2" rx="3.6" ry="4.4" fill="#d6d6d6" stroke="#444" stroke-width="0.45" />
<ellipse cx="317" cy="458" rx="1.9" ry="2.4" fill="#6a6a6a" stroke="none" stroke-width="0.7" />
<path d="M345,450.6 C353,449.5 359,454 359,460 C359,466 353,470.5 345,469.4 C339,467 339,453 345,450.6 Z" fill="#525252" stroke="#333" stroke-width="0.6" stroke-linejoin="round" />
<path d="M344.25,468.16 L354,464.48 L354,465.48 L344.25,469.96 Z" fill="#d9d9d9" stroke="#3a3a3a" stroke-width="0.3" stroke-linejoin="round" />
<path d="M342.1,467.07 L354,463.88 L354,464.88 L342.1,468.87 Z" fill="#d9d9d9" stroke="#3a3a3a" stroke-width="0.3" stroke-linejoin="round" />
<path d="M340.34,465.01 L354,462.75 L354,463.75 L340.34,466.81 Z" fill="#d9d9d9" stroke="#3a3a3a" stroke-width="0.3" stroke-linejoin="round" />
<path d="M339.2,462.25 L354,461.23 L354,462.23 L339.2,464.05 Z" fill="#d9d9d9" stroke="#3a3a3a" stroke-width="0.3" stroke-linejoin="round" />
<path d="M338.8,459.1 L354,459.5 L354,460.5 L338.8,460.9 Z" fill="#d9d9d9" stroke="#3a3a3a" stroke-width="0.3" stroke-linejoin="round" />
<path d="M339.2,455.95 L354,457.77 L354,458.77 L339.2,457.75 Z" fill="#d9d9d9" stroke="#3a3a3a" stroke-width="0.3" stroke-linejoin="round" />
<path d="M340.34,453.19 L354,456.25 L354,457.25 L340.34,454.99 Z" fill="#d9d9d9" stroke="#3a3a3a" stroke-width="0.3" stroke-linejoin="round" />
<path d="M342.1,451.13 L354,455.12 L354,456.12 L342.1,452.93 Z" fill="#d9d9d9" stroke="#3a3a3a" stroke-width="0.3" stroke-linejoin="round" />
<path d="M344.25,450.04 L354,454.52 L354,455.52 L344.25,451.84 Z" fill="#d9d9d9" stroke="#3a3a3a" stroke-width="0.3" stroke-linejoin="round" />
<ellipse cx="345.8" cy="460" rx="3.2" ry="4.4" fill="#e1e1e1" stroke="#333" stroke-width="0.5" />
<ellipse cx="346" cy="460" rx="1.8" ry="2.8" fill="#777" stroke="none" stroke-width="0.7" />
<ellipse cx="355.2" cy="460" rx="3.2" ry="7.8" fill="#8a8a8a" stroke="#3a3a3a" stroke-width="0.4" />
<ellipse cx="375.2" cy="460.3" rx="8.5" ry="10.3" fill="#909090" stroke="#404040" stroke-width="0.6" />
<ellipse cx="373.6" cy="460.3" rx="8.5" ry="10.3" fill="url(#gF)" stroke="#404040" stroke-width="0.6" />
<ellipse cx="373.4" cy="460.5" rx="6.63" ry="7.7" fill="url(#gHole)" stroke="#444" stroke-width="0.5" />
<ellipse cx="374.4" cy="460.6" rx="5.53" ry="7.2" fill="#fff" stroke="#777" stroke-width="0.4" />
<path d="M399,443.6 C405,444 410,448 412.5,453 L417.6,454 C418.4,458 418.4,462 417.6,465.6 L412.5,467 C410,472.5 405,476.5 399,476.8 Z" fill="url(#gF)" stroke="#444" stroke-width="0.6" stroke-linejoin="round" />
<ellipse cx="415.2" cy="459.8" rx="2.6" ry="6.2" fill="#c9c9c9" stroke="#555" stroke-width="0.5" />
<ellipse cx="398" cy="460" rx="10.2" ry="17.2" fill="#a8a8a8" stroke="#444" stroke-width="0.6" />
<ellipse cx="396.2" cy="460" rx="10.2" ry="17.3" fill="url(#gF)" stroke="#444" stroke-width="0.6" />
<ellipse cx="405.02" cy="463.1" rx="0.9" ry="1.1" fill="#fff" stroke="#444" stroke-width="0.4" />
<ellipse cx="402.97" cy="470.33" rx="0.9" ry="1.1" fill="#fff" stroke="#444" stroke-width="0.4" />
<ellipse cx="399.13" cy="474.79" rx="0.9" ry="1.1" fill="#fff" stroke="#444" stroke-width="0.4" />
<ellipse cx="394.53" cy="475.29" rx="0.9" ry="1.1" fill="#fff" stroke="#444" stroke-width="0.4" />
<ellipse cx="390.41" cy="471.69" rx="0.9" ry="1.1" fill="#fff" stroke="#444" stroke-width="0.4" />
<ellipse cx="387.86" cy="464.96" rx="0.9" ry="1.1" fill="#fff" stroke="#444" stroke-width="0.4" />
<ellipse cx="387.58" cy="456.9" rx="0.9" ry="1.1" fill="#fff" stroke="#444" stroke-width="0.4" />
<ellipse cx="389.63" cy="449.67" rx="0.9" ry="1.1" fill="#fff" stroke="#444" stroke-width="0.4" />
<ellipse cx="393.47" cy="445.21" rx="0.9" ry="1.1" fill="#fff" stroke="#444" stroke-width="0.4" />
<ellipse cx="398.07" cy="444.71" rx="0.9" ry="1.1" fill="#fff" stroke="#444" stroke-width="0.4" />
<ellipse cx="402.19" cy="448.31" rx="0.9" ry="1.1" fill="#fff" stroke="#444" stroke-width="0.4" />
<ellipse cx="404.74" cy="455.04" rx="0.9" ry="1.1" fill="#fff" stroke="#444" stroke-width="0.4" />
<ellipse cx="397" cy="460" rx="7.6" ry="14" fill="url(#gHoleV)" stroke="#3a3a3a" stroke-width="0.6" />
<ellipse cx="404" cy="459.8" rx="6" ry="10" fill="#d9d9d9" stroke="#444" stroke-width="0.6" />
<ellipse cx="404.5" cy="459.8" rx="4.4" ry="8" fill="#a5a5a5" stroke="#555" stroke-width="0.5" />
<ellipse cx="405" cy="459.9" rx="3" ry="6" fill="url(#gHole)" stroke="#3a3a3a" stroke-width="0.5" />
<ellipse cx="405.6" cy="460.2" rx="1.6" ry="4" fill="#e6e6e6" stroke="none" stroke-width="0.7" />
<rect x="419" y="443.2" width="7.2" height="2.6" rx="0" fill="#6a6a6a" stroke="#333" stroke-width="0.5" />
<line x1="420.4" y1="443.2" x2="420.4" y2="445.8" stroke="#ddd" stroke-width="0.5"/>
<line x1="422" y1="443.2" x2="422" y2="445.8" stroke="#ddd" stroke-width="0.5"/>
<line x1="423.6" y1="443.2" x2="423.6" y2="445.8" stroke="#ddd" stroke-width="0.5"/>
<rect x="426" y="442" width="4" height="5" rx="1.2" fill="#c9c9c9" stroke="#333" stroke-width="0.6" />
<path d="M429.81,448.75 L436.25,446.9 C441.1,452.18 441.1,468.02 436.25,473.3 L429.81,471.45 Z" fill="#4d4d4d" stroke="#333" stroke-width="0.6" stroke-linejoin="round" />
<line x1="432.37" y1="449.36" x2="437.59" y2="448.07" stroke="#d0d0d0" stroke-width="0.7"/>
<line x1="434.06" y1="450.61" x2="439.28" y2="449.47" stroke="#d0d0d0" stroke-width="0.7"/>
<line x1="435.47" y1="452.66" x2="440.69" y2="451.77" stroke="#d0d0d0" stroke-width="0.7"/>
<line x1="436.49" y1="455.35" x2="441.71" y2="454.78" stroke="#d0d0d0" stroke-width="0.7"/>
<line x1="437.02" y1="458.43" x2="442.24" y2="458.23" stroke="#d0d0d0" stroke-width="0.7"/>
<line x1="437.03" y1="461.66" x2="442.25" y2="461.85" stroke="#d0d0d0" stroke-width="0.7"/>
<line x1="436.51" y1="464.76" x2="441.73" y2="465.32" stroke="#d0d0d0" stroke-width="0.7"/>
<line x1="435.51" y1="467.46" x2="440.73" y2="468.34" stroke="#d0d0d0" stroke-width="0.7"/>
<line x1="434.11" y1="469.54" x2="439.33" y2="470.67" stroke="#d0d0d0" stroke-width="0.7"/>
<line x1="432.43" y1="470.81" x2="437.65" y2="472.1" stroke="#d0d0d0" stroke-width="0.7"/>
<ellipse cx="429.81" cy="460.1" rx="6.61" ry="11.35" fill="url(#gF)" stroke="#444" stroke-width="0.6" />
<ellipse cx="430.11" cy="460.1" rx="4.89" ry="8.98" fill="url(#gHole)" stroke="#444" stroke-width="0.6" />
<ellipse cx="430.71" cy="460.5" rx="3.17" ry="6.6" fill="#ededed" stroke="none" stroke-width="0.7" />
<path d="M451.85,447.9 A6.95,12.5 0 0 0 451.85,472.9 L456.25,472.9 A6.95,12.5 0 0 0 456.25,447.9 Z" fill="url(#gV)" stroke="#404040" stroke-width="0.6" stroke-linejoin="round" />
<ellipse cx="451.85" cy="460.4" rx="6.95" ry="12.5" fill="url(#gF)" stroke="#404040" stroke-width="0.6" />
<ellipse cx="452.15" cy="460.4" rx="5.73" ry="10.3" fill="#fff" stroke="#555" stroke-width="0.5" />
<path d="M453.05,450.7 A4.73,9.7 0 0 1 453.05,470.1" fill="none" stroke="#8f8f8f" stroke-width="1.5" stroke-linejoin="round" />
<path d="M476.4,447.8 A8.6,12.5 0 0 0 476.4,472.8 L485,472.8 A8.6,12.5 0 0 0 485,447.8 Z" fill="url(#gVd)" stroke="#404040" stroke-width="0.7" stroke-linejoin="round" />
<rect x="490.75" y="451.55" width="2.2" height="2" rx="0.5" fill="#e0e0e0" stroke="#444" stroke-width="0.4" />
<rect x="492.18" y="455.43" width="2.2" height="2" rx="0.5" fill="#e0e0e0" stroke="#444" stroke-width="0.4" />
<rect x="492.6" y="459.3" width="2.2" height="2" rx="0.5" fill="#e0e0e0" stroke="#444" stroke-width="0.4" />
<rect x="492.18" y="463.18" width="2.2" height="2" rx="0.5" fill="#e0e0e0" stroke="#444" stroke-width="0.4" />
<rect x="490.75" y="467.05" width="2.2" height="2" rx="0.5" fill="#e0e0e0" stroke="#444" stroke-width="0.4" />
<path d="M481.13,447.8 A8.6,12.5 0 0 1 481.13,472.8" fill="none" stroke="#333" stroke-width="0.5" stroke-linejoin="round" />
<ellipse cx="476.4" cy="460.3" rx="8.6" ry="12.5" fill="url(#gF)" stroke="#444" stroke-width="0.6" />
<ellipse cx="476.8" cy="460.3" rx="7" ry="10.5" fill="#f2f2f2" stroke="#777" stroke-width="0.45" />
<ellipse cx="477.2" cy="460.3" rx="5.2" ry="8.1" fill="#d9d9d9" stroke="#666" stroke-width="0.45" />
<ellipse cx="477.4" cy="460.3" rx="2.6" ry="4.9" fill="url(#gHole)" stroke="#3a3a3a" stroke-width="0.6" />
<ellipse cx="478" cy="460.6" rx="1.5" ry="3.6" fill="#fff" stroke="none" stroke-width="0.7" />
<ellipse cx="655" cy="545.7" rx="3.8" ry="4.4" fill="#a9a9a9" stroke="#333" stroke-width="0.8" />
<ellipse cx="655.4" cy="545.8" rx="2.2" ry="2.9" fill="#ddd" stroke="#444" stroke-width="0.5" />
<ellipse cx="655.6" cy="545.9" rx="1.2" ry="1.8" fill="#666" stroke="none" stroke-width="0.7" />
<path d="M683,545.6 L682.99,546.35 L682.09,546.97 L682.03,547.65 L682.79,548.59 L682.67,549.33 L681.71,549.65 L681.55,550.29 L682.17,551.46 L681.95,552.14 L680.96,552.15 L680.72,552.73 L681.17,554.06 L680.86,554.66 L679.89,554.37 L679.58,554.86 L679.82,556.3 L679.44,556.79 L678.53,556.2 L678.16,556.59 L678.2,558.07 L677.76,558.43 L676.95,557.57 L676.53,557.83 L676.37,559.3 L675.88,559.51 L675.22,558.41 L674.77,558.54 L674.4,559.92 L673.9,559.98 L673.4,558.7 L672.94,558.68 L672.4,559.92 L671.9,559.82 L671.58,558.41 L671.14,558.25 L670.43,559.3 L669.96,559.04 L669.85,557.57 L669.44,557.27 L668.6,558.07 L668.17,557.68 L668.27,556.2 L667.9,555.78 L666.98,556.3 L666.61,555.78 L666.91,554.37 L666.61,553.84 L665.63,554.06 L665.35,553.44 L665.84,552.15 L665.62,551.55 L664.63,551.46 L664.44,550.76 L665.09,549.65 L664.96,548.99 L664.01,548.59 L663.92,547.85 L664.71,546.97 L664.68,546.29 L663.8,545.6 L663.81,544.85 L664.71,544.23 L664.77,543.55 L664.01,542.61 L664.13,541.87 L665.09,541.55 L665.25,540.91 L664.63,539.74 L664.85,539.06 L665.84,539.05 L666.08,538.47 L665.63,537.14 L665.94,536.54 L666.91,536.83 L667.22,536.34 L666.98,534.9 L667.36,534.41 L668.27,535 L668.64,534.61 L668.6,533.13 L669.04,532.77 L669.85,533.63 L670.27,533.37 L670.43,531.9 L670.92,531.69 L671.58,532.79 L672.03,532.66 L672.4,531.28 L672.9,531.22 L673.4,532.5 L673.86,532.52 L674.4,531.28 L674.9,531.38 L675.22,532.79 L675.66,532.95 L676.37,531.9 L676.84,532.16 L676.95,533.63 L677.36,533.93 L678.2,533.13 L678.63,533.52 L678.53,535 L678.9,535.42 L679.82,534.9 L680.19,535.42 L679.89,536.83 L680.19,537.36 L681.17,537.14 L681.45,537.76 L680.96,539.05 L681.18,539.65 L682.17,539.74 L682.36,540.44 L681.71,541.55 L681.84,542.21 L682.79,542.61 L682.88,543.35 L682.09,544.23 L682.12,544.91Z" fill="#777" stroke="#3a3a3a" stroke-width="0.4" stroke-linejoin="round" />
<path d="M684.1,545.4 L684.09,546.15 L683.19,546.76 L683.13,547.43 L683.89,548.37 L683.78,549.1 L682.81,549.42 L682.66,550.06 L683.28,551.22 L683.06,551.89 L682.08,551.9 L681.84,552.48 L682.29,553.81 L681.98,554.4 L681.02,554.1 L680.71,554.59 L680.96,556.03 L680.58,556.51 L679.68,555.92 L679.3,556.3 L679.35,557.78 L678.91,558.14 L678.11,557.28 L677.69,557.54 L677.54,559 L677.06,559.21 L676.4,558.12 L675.95,558.24 L675.59,559.62 L675.1,559.68 L674.6,558.4 L674.15,558.38 L673.61,559.62 L673.11,559.52 L672.8,558.12 L672.36,557.96 L671.66,559 L671.2,558.75 L671.09,557.28 L670.68,556.98 L669.85,557.78 L669.43,557.39 L669.52,555.92 L669.16,555.5 L668.24,556.03 L667.88,555.51 L668.18,554.1 L667.89,553.58 L666.91,553.81 L666.63,553.19 L667.12,551.9 L666.9,551.3 L665.92,551.22 L665.73,550.52 L666.39,549.42 L666.26,548.76 L665.31,548.37 L665.22,547.64 L666.01,546.76 L665.98,546.08 L665.1,545.4 L665.11,544.65 L666.01,544.04 L666.07,543.37 L665.31,542.43 L665.42,541.7 L666.39,541.38 L666.54,540.74 L665.92,539.58 L666.14,538.91 L667.12,538.9 L667.36,538.32 L666.91,536.99 L667.22,536.4 L668.18,536.7 L668.49,536.21 L668.24,534.77 L668.62,534.29 L669.52,534.88 L669.9,534.5 L669.85,533.02 L670.29,532.66 L671.09,533.52 L671.51,533.26 L671.66,531.8 L672.14,531.59 L672.8,532.68 L673.25,532.56 L673.61,531.18 L674.1,531.12 L674.6,532.4 L675.05,532.42 L675.59,531.18 L676.09,531.28 L676.4,532.68 L676.84,532.84 L677.54,531.8 L678,532.05 L678.11,533.52 L678.52,533.82 L679.35,533.02 L679.77,533.41 L679.68,534.88 L680.04,535.3 L680.96,534.77 L681.32,535.29 L681.02,536.7 L681.31,537.22 L682.29,536.99 L682.57,537.61 L682.08,538.9 L682.3,539.5 L683.28,539.58 L683.47,540.28 L682.81,541.38 L682.94,542.04 L683.89,542.43 L683.98,543.16 L683.19,544.04 L683.22,544.72Z" fill="url(#gF)" stroke="#3a3a3a" stroke-width="0.45" stroke-linejoin="round" />
<ellipse cx="674.6" cy="545.4" rx="0.9" ry="1.2" fill="#666" stroke="#333" stroke-width="0.4" />
<ellipse cx="693" cy="542.9" rx="1.4" ry="2.2" fill="none" stroke="#333" stroke-width="0.7" />
<g transform="translate(-62.6 263)">
<path d="M769.5,244.2 C776,243.4 783,245.5 788,247.8 C793,249.8 798,252 799.8,254.5 C801.5,259 801,266 800.5,270.8 L804.8,272.4 C807.6,278 809.6,285 810.2,291.3 C810,298 808.6,303.5 806.1,307.5 L792,310.2 C789,312.4 786.4,313.8 783.2,314.4 C780.2,313.4 777.6,311 775.8,308.8 C771.6,300.5 768,291.5 765.4,283.4 L762.8,278.5 L759.2,278 L759.2,265 L762.3,263.5 C762,259 763,254 765,250 C766.2,247.4 767.5,245.2 769.5,244.2 Z" fill="#e3e3e3" stroke="#444" stroke-width="0.7" stroke-linejoin="round" />
<path d="M765.8,282 C769,283.6 772.6,284 776,283.4 C778,291 781.6,300.6 786.6,308.4 L783.2,313.2 C780.6,312.4 778.4,310.4 776.8,308 C772.6,300 768.6,291 765.8,282 Z" fill="#adadad" stroke="#555" stroke-width="0.5" stroke-linejoin="round" />
<path d="M770.8,284 C773,292 777,302 782.4,311" fill="none" stroke="#6f6f6f" stroke-width="0.5" stroke-linejoin="round" />
<path d="M776,283.4 C780,283 784,284.6 787.4,287.6 C791.6,291 796.6,292.4 801.6,291.6 C803.4,291 804.6,289.6 805.2,287.6 C806.4,294 805.2,300.6 801.4,305 C797.4,307.4 792,308.6 786.6,308.4 C782,301 778.2,292 776,283.4 Z" fill="url(#gR)" stroke="#555" stroke-width="0.5" stroke-linejoin="round" />
<path d="M800.5,270.8 L804.8,272.4 C807.6,278 809.6,285 810.2,291.3 C810,298 808.6,303.5 806.1,307.5 L802.4,308.2 C805.4,303 806.6,297 806.2,291 C805.6,284.6 803.6,277.4 800.5,270.8 Z" fill="#f2f2f2" stroke="#555" stroke-width="0.5" stroke-linejoin="round" />
<path d="M778,309.6 L783,313.4 M786.6,308.4 L789.6,312 M792,310.2 L790.6,306.6" fill="none" stroke="#666" stroke-width="0.5" stroke-linejoin="round" />
<path d="M771,245.6 C776.5,245 783.5,247 788.5,249.4 L787.2,262 L780.5,264 L766.5,263.6 C766,257 768,249.5 771,245.6 Z" fill="#dadada" stroke="#555" stroke-width="0.5" stroke-linejoin="round" />
<path d="M775.4,246 C773.6,251 773,257.6 773.2,263.8 L780.4,264 C780,258 780.6,252 782.4,247.4 Z" fill="#9d9d9d" stroke="#555" stroke-width="0.4" stroke-linejoin="round" />
<path d="M782.4,247.4 C780.6,252 780,258 780.4,264 L786,262.6 C785.6,257.6 786.2,252.6 788,249 Z" fill="#c2c2c2" stroke="#555" stroke-width="0.4" stroke-linejoin="round" />
<path d="M769.5,244.6 C767,249 765.4,256 765.6,263" fill="none" stroke="#8a8a8a" stroke-width="1.3" stroke-linejoin="round" />
<path d="M787.2,248.8 C792,249.6 796,251.4 798,253.5 C799.8,258 799.8,265 799.4,271 C798.6,276 796.6,280 793.6,282.4 C789,283.6 784,281 781.4,276.4 C780,270 780.6,262 782.6,256 C783.6,252.6 785,250 787.2,248.8 Z" fill="#e9e9e9" stroke="#4a4a4a" stroke-width="0.6" stroke-linejoin="round" />
<ellipse cx="792.4" cy="264.4" rx="5" ry="9.8" fill="url(#gHole)" stroke="#3a3a3a" stroke-width="0.8" transform="rotate(-4 792.4 264.4)" />
<ellipse cx="791.4" cy="264.2" rx="3" ry="8.2" fill="#8f8f8f" stroke="none" stroke-width="0.7" transform="rotate(-4 791.4 264.2)" />
<ellipse cx="794" cy="265.2" rx="1.8" ry="6.4" fill="#e6e6e6" stroke="none" stroke-width="0.7" transform="rotate(-4 794 265.2)" />
<path d="M759.2,265 C759.2,264.3 760,264 761,264 L778.5,264.4 C780.3,266 781,269 781,272 C781,275.5 780.3,278.4 778.5,279.9 L761,279.4 C760,279.4 759.2,278.8 759.2,278 Z" fill="url(#gVb)" stroke="#444" stroke-width="0.6" stroke-linejoin="round" />
<ellipse cx="780.5" cy="272.4" rx="2" ry="3.2" fill="#8f8f8f" stroke="#444" stroke-width="0.5" />
<ellipse cx="780.7" cy="272.5" rx="1" ry="1.8" fill="#444" stroke="none" stroke-width="0.7" />
<ellipse cx="796.2" cy="277.8" rx="1" ry="1" fill="#3f3f3f" stroke="none" stroke-width="0.7" />
<ellipse cx="799" cy="278.6" rx="1" ry="1" fill="#3f3f3f" stroke="none" stroke-width="0.7" />
<ellipse cx="795.1" cy="282" rx="1" ry="1" fill="#3f3f3f" stroke="none" stroke-width="0.7" />
<ellipse cx="797.9" cy="282.8" rx="1" ry="1" fill="#3f3f3f" stroke="none" stroke-width="0.7" />
<ellipse cx="786.2" cy="279.2" rx="1.8" ry="2.6" fill="#f4f4f4" stroke="#555" stroke-width="0.45" />
<ellipse cx="790.4" cy="284.6" rx="1.5" ry="1.8" fill="#f0f0f0" stroke="#555" stroke-width="0.45" />
<path d="M783.5,272.5 C786,275.5 789.5,277.5 793.5,277.5 M782,281.5 C786,286 792,289.5 799,289.5 M786.4,272 C788,274 790,275 792.4,275" fill="none" stroke="#666" stroke-width="0.5" stroke-linejoin="round" />
<ellipse cx="764.6" cy="259.5" rx="1.1" ry="1.3" fill="#bbb" stroke="#555" stroke-width="0.4" />
<ellipse cx="805.6" cy="304.6" rx="1" ry="1.2" fill="#bbb" stroke="#555" stroke-width="0.4" />
<ellipse cx="780" cy="310.4" rx="1" ry="1.2" fill="#bbb" stroke="#555" stroke-width="0.4" />
<ellipse cx="798.6" cy="256.4" rx="0.8" ry="1" fill="#999" stroke="#555" stroke-width="0.3" />
</g>
<rect x="748.4" y="539.6" width="4.4" height="4.6" rx="1.2" fill="#6f6f6f" stroke="#333" stroke-width="0.7" />
<rect x="749.6" y="540.8" width="2" height="2.2" rx="0" fill="#cfcfcf" stroke="none" stroke-width="0.7" />
<rect x="762.8" y="536.3" width="21" height="3.6" rx="0.8" fill="url(#gV)" stroke="#444" stroke-width="0.55" />
<rect x="772.4" y="544.3" width="13" height="3.9" rx="1.2" fill="url(#gV)" stroke="#444" stroke-width="0.55" />
<rect x="783" y="531.6" width="12.6" height="10" rx="1.2" fill="#5c5c5c" stroke="#333" stroke-width="0.5" />
<rect x="782.7" y="532.3" width="14.2" height="1.36" rx="0.6" fill="#dedede" stroke="#444" stroke-width="0.3" />
<rect x="782.7" y="534.5" width="14.2" height="1.36" rx="0.6" fill="#dedede" stroke="#444" stroke-width="0.3" />
<rect x="782.7" y="536.7" width="14.2" height="1.36" rx="0.6" fill="#dedede" stroke="#444" stroke-width="0.3" />
<rect x="782.7" y="538.9" width="14.2" height="1.36" rx="0.6" fill="#dedede" stroke="#444" stroke-width="0.3" />
<rect x="784.4" y="540.8" width="13" height="11.4" rx="1.2" fill="#5c5c5c" stroke="#333" stroke-width="0.5" />
<rect x="784.1" y="541.5" width="14.6" height="1.58" rx="0.6" fill="#dedede" stroke="#444" stroke-width="0.3" />
<rect x="784.1" y="544.05" width="14.6" height="1.58" rx="0.6" fill="#dedede" stroke="#444" stroke-width="0.3" />
<rect x="784.1" y="546.6" width="14.6" height="1.58" rx="0.6" fill="#dedede" stroke="#444" stroke-width="0.3" />
<rect x="784.1" y="549.15" width="14.6" height="1.58" rx="0.6" fill="#dedede" stroke="#444" stroke-width="0.3" />
<path d="M805.5,531.9 C809,533 813.5,537.5 814.8,542 C815.3,546 813.5,550.5 810.5,552.7 C806.5,552 802.8,547.5 802,542.5 C801.8,538 803,534 805.5,531.9 Z" fill="url(#gR)" stroke="#444" stroke-width="0.7" stroke-linejoin="round" />
<rect x="815.2" y="550" width="4.6" height="1.5" rx="0.5" fill="#444" stroke="none" stroke-width="0.7" />
<path d="M819.6,541.5 C821,538 823.5,535.6 826.4,534.2 C829.5,532.8 832.5,532.2 835,532.2 L838.5,534 C840.5,537.5 842.2,541.2 842.8,544.8 C842.6,546.8 842,548.2 841,549 L833.5,553.8 C831,554.4 829,554.2 827,553.6 C825,552.8 823.5,551.6 822.5,550 Z" fill="#b9b9b9" stroke="#444" stroke-width="0.7" stroke-linejoin="round" />
<path d="M825.6,540.6 L836.6,534.6 C837.4,534.3 838,534.6 838.3,535.2 L842.2,544.4 C842.4,545.2 842.2,545.8 841.6,546.2 L833.4,552.6 C832.6,553 832,552.8 831.6,552.2 L825.2,541.8 C825,541.3 825.1,540.9 825.6,540.6 Z" fill="url(#gR)" stroke="#555" stroke-width="0.6" stroke-linejoin="round" />
<ellipse cx="827" cy="541.6" rx="0.55" ry="0.55" fill="#555" stroke="none" stroke-width="0.7" />
<ellipse cx="836.8" cy="536.4" rx="0.55" ry="0.55" fill="#555" stroke="none" stroke-width="0.7" />
<ellipse cx="840.8" cy="545" rx="0.55" ry="0.55" fill="#555" stroke="none" stroke-width="0.7" />
<ellipse cx="832.8" cy="551.2" rx="0.55" ry="0.55" fill="#555" stroke="none" stroke-width="0.7" />
<ellipse cx="846.8" cy="536.6" rx="2.1" ry="3" fill="#9c9c9c" stroke="#333" stroke-width="0.8" />
<ellipse cx="847" cy="536.6" rx="0.8" ry="1.4" fill="#eee" stroke="none" stroke-width="0.7" />
<rect x="850.2" y="535.5" width="6" height="2.3" rx="0" fill="#666" stroke="#333" stroke-width="0.5" />
<ellipse cx="857" cy="536.6" rx="1.6" ry="2.1" fill="#bdbdbd" stroke="#333" stroke-width="0.6" />
<rect x="753.4" y="566.2" width="20.6" height="6.2" rx="1.2" fill="url(#gV)" stroke="#444" stroke-width="0.6" />
<rect x="753.4" y="566.2" width="1.6" height="6.2" rx="0.6" fill="#666" stroke="none" stroke-width="0.7" />
<rect x="773" y="565.4" width="6.5" height="7.8" rx="1.5" fill="url(#gV)" stroke="#444" stroke-width="0.6" />
<ellipse cx="779.3" cy="569.4" rx="2.6" ry="4" fill="#f1f1f1" stroke="#444" stroke-width="0.6" />
<polyline class="st" points="344.4,210.7 344.4,288.2"/>
<polyline class="st" points="344.4,314.6 344.4,385.4"/>
<polyline class="st" points="59.6,437.2 59.6,385.4 480.2,385.4 480.2,442.7"/>
<polyline class="st" points="467.8,145.2 556.8,145.2"/>
<polyline class="st" points="471.5,177.8 564.6,177.8 564.6,397.2 605.6,397.2"/>
<polyline class="st2" points="838.3,141.6 843.3,141.6 843.3,195.6 576.8,195.6 576.8,265.7 592.0,265.7"/>
<polyline class="st" points="863.3,89.4 850.3,89.4 850.3,189.2 863.3,189.2"/>
<polyline class="ld" points="23.5,146.5 23.5,167.0"/>
<polyline class="ld" points="37.0,180.0 37.0,199.0"/>
<polyline class="ld" points="76.5,141.0 76.5,159.0"/>
<polyline class="ld" points="105.5,143.0 105.5,162.0"/>
<polyline class="ld" points="126.0,187.0 126.0,207.0"/>
<polyline class="ld" points="148.0,144.0 148.0,163.0"/>
<polyline class="ld2" points="179.0,142.0 179.0,154.0"/>
<polyline class="ld2" points="168.5,163.0 168.5,154.0 188.5,154.0 188.5,163.0"/>
<polyline class="ld" points="233.3,126.0 233.3,146.0"/>
<polyline class="ld" points="197.0,205.0 197.0,225.0"/>
<polyline class="ld" points="345.4,69.5 345.4,89.0"/>
<polyline class="ld" points="317.9,81.5 317.9,102.0"/>
<polyline class="ld" points="276.0,92.4 296.5,92.4"/>
<polyline class="ld" points="273.5,105.4 295.0,105.4"/>
<polyline class="ld" points="299.5,123.7 320.0,123.7"/>
<polyline class="ld" points="360.0,111.2 379.3,111.2"/>
<polyline class="ld" points="418.7,106.5 418.7,126.5"/>
<polyline class="ld" points="466.5,102.5 466.5,121.4"/>
<polyline class="ld" points="307.6,143.8 307.6,163.3"/>
<polyline class="ld" points="304.6,205.0 304.6,224.8"/>
<polyline class="ld" points="280.2,213.0 280.2,232.3"/>
<polyline class="ld" points="267.5,229.0 267.5,250.0"/>
<polyline class="ld" points="379.0,233.0 398.0,233.0"/>
<polyline class="ld" points="370.5,246.6 390.5,246.6"/>
<polyline class="ld" points="433.2,227.0 433.2,247.0"/>
<polyline class="ld" points="620.7,118.0 620.7,137.7"/>
<polyline class="ld" points="672.6,152.7 672.6,171.5"/>
<polyline class="ld2" points="694.4,106.6 694.4,126.4"/>
<polyline class="ld2" points="687.4,138.2 687.4,126.4 699.7,126.4 699.7,138.2"/>
<polyline class="ld" points="713.5,114.8 713.5,134.7"/>
<polyline class="ld" points="732.8,158.2 732.8,177.8"/>
<polyline class="ld" points="760.0,112.8 760.0,133.4"/>
<polyline class="ld" points="778.2,155.2 778.2,175.3"/>
<polyline class="ld" points="791.9,122.2 791.9,142.8"/>
<polyline class="ld" points="804.7,150.3 804.7,170.4"/>
<polyline class="ld" points="825.2,85.0 825.2,127.8"/>
<polyline class="ld" points="825.2,162.9 825.2,181.7"/>
<polyline class="ld" points="882.0,92.0 882.0,112.7"/>
<polyline class="ld" points="864.6,106.5 864.6,126.5"/>
<polyline class="ld" points="927.5,97.7 927.5,119.0"/>
<polyline class="ld" points="947.3,119.7 966.0,119.7"/>
<polyline class="ld" points="950.6,164.0 970.7,164.0"/>
<polyline class="ld" points="933.3,164.6 933.3,184.2"/>
<polyline class="ld2" points="888.0,179.2 888.0,161.0 901.7,161.0 901.7,142.8"/>
<polyline class="ld" points="594.8,240.3 594.8,260.7"/>
<polyline class="ld" points="613.0,231.6 613.0,251.4"/>
<polyline class="ld2" points="627.7,274.0 627.7,284.0 640.2,284.0 640.2,274.0"/>
<polyline class="ld2" points="634.0,284.0 634.0,294.0"/>
<polyline class="ld" points="650.7,238.2 650.7,257.7"/>
<polyline class="ld" points="660.8,274.7 660.8,294.0"/>
<polyline class="ld" points="675.3,235.2 675.3,255.2"/>
<polyline class="ld" points="713.7,238.4 713.7,257.7"/>
<polyline class="ld" points="747.5,235.8 747.5,256.4"/>
<polyline class="ld" points="769.6,224.5 769.6,243.9"/>
<polyline class="ld" points="795.2,231.0 795.2,242.6"/>
<polyline class="ld2" points="808.2,245.9 816.4,245.9 816.4,220.6"/>
<polyline class="ld" points="821.0,277.7 821.0,297.8"/>
<polyline class="ld" points="840.8,232.0 840.8,251.4"/>
<polyline class="ld" points="853.6,280.8 853.6,300.8"/>
<polyline class="ld2" points="874.6,280.3 882.9,280.3 882.9,300.8"/>
<polyline class="ld" points="871.0,235.0 871.0,255.2"/>
<polyline class="ld" points="903.0,237.0 903.0,257.7"/>
<polyline class="ld" points="919.3,272.7 919.3,293.5"/>
<polyline class="ld" points="935.6,266.0 954.4,266.0"/>
<polyline class="ld" points="695.4,316.1 716.2,316.1"/>
<polyline class="ld" points="807.2,332.2 827.7,332.2"/>
<polyline class="ld" points="611.4,371.4 611.4,387.2"/>
<polyline class="ld" points="644.8,404.7 644.8,424.0"/>
<polyline class="ld" points="681.0,373.2 681.0,387.7"/>
<polyline class="ld" points="698.0,405.2 698.0,425.3"/>
<polyline class="ld" points="709.2,373.2 709.2,389.7"/>
<polyline class="ld" points="723.7,408.2 723.7,427.8"/>
<polyline class="ld" points="744.5,364.8 744.5,380.2"/>
<polyline class="ld" points="769.8,414.0 769.8,433.3"/>
<polyline class="ld" points="791.9,368.7 791.9,384.5"/>
<polyline class="ld" points="785.1,412.8 785.1,424.0"/>
<polyline class="ld" points="800.9,411.6 800.9,442.9"/>
<polyline class="ld" points="812.7,408.3 812.7,427.9"/>
<polyline class="ld" points="831.5,365.8 831.5,381.5"/>
<polyline class="ld" points="848.5,406.6 848.5,426.6"/>
<polyline class="ld" points="862.8,373.4 862.8,389.0"/>
<polyline class="ld" points="870.9,416.6 870.9,435.4"/>
<polyline class="ld2" points="876.0,405.3 876.0,415.8 891.0,415.8"/>
<polyline class="ld" points="896.2,396.0 910.5,396.0"/>
<polyline class="ld2" points="919.8,366.4 919.8,375.2 881.1,375.2 881.1,382.7"/>
<polyline class="ld2" points="875.4,387.8 875.4,382.7 888.4,382.7 888.4,387.8"/>
<polyline class="ld" points="654.5,527.6 654.5,540.5"/>
<polyline class="ld" points="674.2,562.5 674.2,583.0"/>
<polyline class="ld" points="692.5,547.5 692.5,567.5"/>
<polyline class="ld" points="722.0,580.0 722.0,600.0"/>
<polyline class="ld" points="750.7,522.5 750.7,538.7"/>
<polyline class="ld" points="777.5,520.0 777.5,533.7"/>
<polyline class="ld" points="805.0,515.6 805.0,530.5"/>
<polyline class="ld" points="817.5,553.0 817.5,572.5"/>
<polyline class="ld" points="834.5,518.0 834.5,533.0"/>
<polyline class="ld" points="846.2,540.5 846.2,556.2"/>
<polyline class="ld" points="859.2,536.3 874.2,536.3"/>
<polyline class="ld" points="766.2,574.5 766.2,594.5"/>
<polyline class="ld" points="60.0,477.8 60.0,497.9"/>
<polyline class="ld" points="88.1,428.2 88.1,447.2"/>
<polyline class="ld" points="116.5,425.8 116.5,447.2"/>
<polyline class="ld" points="134.8,476.5 134.8,496.6"/>
<polyline class="ld" points="156.0,480.3 156.0,502.9"/>
<polyline class="ld" points="211.0,403.0 211.0,423.0"/>
<polyline class="ld" points="250.6,427.8 250.6,448.2"/>
<polyline class="ld" points="240.6,480.3 240.6,502.4"/>
<polyline class="ld" points="273.2,438.6 273.2,454.0"/>
<polyline class="ld" points="288.0,485.8 301.4,485.8"/>
<polyline class="ld" points="351.0,435.8 351.0,451.5"/>
<polyline class="ld" points="302.7,502.9 302.7,523.4"/>
<polyline class="ld" points="322.0,470.8 322.0,507.4"/>
<polyline class="ld" points="373.6,471.5 373.6,492.8"/>
<polyline class="ld" points="395.4,427.8 395.4,442.7"/>
<polyline class="ld" points="423.0,427.6 423.0,442.7"/>
<polyline class="ld" points="432.3,472.3 432.3,492.8"/>
<polyline class="ld" points="454.4,433.4 454.4,447.2"/>
<polyline class="ld" points="480.2,474.0 480.2,494.0"/>
<path d="M467.2,145.2 l3.5,-1.6 v3.2z" fill="#2a2a2a"/>
<text class="lb" x="12.0" y="145.3" textLength="6.3" lengthAdjust="spacingAndGlyphs">A</text>
<rect x="19.0" y="142.0" width="2.1" height="1.2" fill="#2e2e2e"/>
<text class="lb" x="22.0" y="145.3" textLength="11.4" lengthAdjust="spacingAndGlyphs">41</text>
<text class="lb" x="25.0" y="207.5" textLength="6.3" lengthAdjust="spacingAndGlyphs">A</text>
<rect x="32.0" y="204.2" width="2.1" height="1.2" fill="#2e2e2e"/>
<text class="lb" x="35.0" y="207.5" textLength="13.0" lengthAdjust="spacingAndGlyphs">42</text>
<text class="lb" x="65.0" y="139.0" textLength="6.3" lengthAdjust="spacingAndGlyphs">A</text>
<rect x="72.0" y="135.7" width="2.1" height="1.2" fill="#2e2e2e"/>
<text class="lb" x="75.0" y="139.0" textLength="13.0" lengthAdjust="spacingAndGlyphs">43</text>
<text class="lb" x="94.0" y="141.3" textLength="6.3" lengthAdjust="spacingAndGlyphs">A</text>
<rect x="101.0" y="138.0" width="2.1" height="1.2" fill="#2e2e2e"/>
<text class="lb" x="104.0" y="141.3" textLength="13.0" lengthAdjust="spacingAndGlyphs">44</text>
<text class="lb" x="115.0" y="215.3" textLength="6.3" lengthAdjust="spacingAndGlyphs">A</text>
<rect x="122.0" y="212.0" width="2.1" height="1.2" fill="#2e2e2e"/>
<text class="lb" x="125.0" y="215.3" textLength="13.0" lengthAdjust="spacingAndGlyphs">46</text>
<text class="lb" x="136.0" y="142.5" textLength="6.3" lengthAdjust="spacingAndGlyphs">A</text>
<rect x="143.0" y="139.2" width="2.1" height="1.2" fill="#2e2e2e"/>
<text class="lb" x="146.0" y="142.5" textLength="14.0" lengthAdjust="spacingAndGlyphs">47</text>
<text class="lb" x="166.0" y="140.5" textLength="6.3" lengthAdjust="spacingAndGlyphs">A</text>
<rect x="173.0" y="137.2" width="2.1" height="1.2" fill="#2e2e2e"/>
<text class="lb" x="176.0" y="140.5" textLength="14.0" lengthAdjust="spacingAndGlyphs">48</text>
<text class="lb" x="221.8" y="124.2" textLength="6.3" lengthAdjust="spacingAndGlyphs">A</text>
<rect x="228.8" y="120.9" width="2.1" height="1.2" fill="#2e2e2e"/>
<text class="lb" x="231.8" y="124.2" textLength="13.2" lengthAdjust="spacingAndGlyphs">45</text>
<text class="lb" x="185.0" y="232.2" textLength="6.3" lengthAdjust="spacingAndGlyphs">A</text>
<rect x="192.0" y="228.9" width="2.1" height="1.2" fill="#2e2e2e"/>
<text class="lb" x="195.0" y="232.2" textLength="13.0" lengthAdjust="spacingAndGlyphs">49</text>
<text class="lb" x="338.0" y="68.0" textLength="6.3" lengthAdjust="spacingAndGlyphs">A</text>
<rect x="345.0" y="64.7" width="2.1" height="1.2" fill="#2e2e2e"/>
<text class="lb" x="348.0" y="68.0" textLength="6.0" lengthAdjust="spacingAndGlyphs">9</text>
<text class="lb" x="310.0" y="80.0" textLength="6.3" lengthAdjust="spacingAndGlyphs">A</text>
<rect x="317.0" y="76.7" width="2.1" height="1.2" fill="#2e2e2e"/>
<text class="lb" x="320.0" y="80.0" textLength="6.0" lengthAdjust="spacingAndGlyphs">3</text>
<text class="lb" x="259.0" y="95.4" textLength="6.3" lengthAdjust="spacingAndGlyphs">A</text>
<rect x="266.0" y="92.1" width="2.1" height="1.2" fill="#2e2e2e"/>
<text class="lb" x="269.0" y="95.4" textLength="5.7" lengthAdjust="spacingAndGlyphs">4</text>
<text class="lb" x="256.4" y="108.2" textLength="6.3" lengthAdjust="spacingAndGlyphs">A</text>
<rect x="263.4" y="104.9" width="2.1" height="1.2" fill="#2e2e2e"/>
<text class="lb" x="266.4" y="108.2" textLength="5.6" lengthAdjust="spacingAndGlyphs">2</text>
<text class="lb" x="281.5" y="126.5" textLength="6.3" lengthAdjust="spacingAndGlyphs">A</text>
<rect x="288.5" y="123.2" width="2.1" height="1.2" fill="#2e2e2e"/>
<text class="lb" x="291.5" y="126.5" textLength="4.0" lengthAdjust="spacingAndGlyphs">1</text>
<text class="lb" x="380.0" y="114.0" textLength="6.3" lengthAdjust="spacingAndGlyphs">A</text>
<rect x="387.0" y="110.7" width="2.1" height="1.2" fill="#2e2e2e"/>
<text class="lb" x="390.0" y="114.0" textLength="6.0" lengthAdjust="spacingAndGlyphs">8</text>
<text class="lb" x="407.3" y="105.0" textLength="6.3" lengthAdjust="spacingAndGlyphs">A</text>
<rect x="414.3" y="101.7" width="2.1" height="1.2" fill="#2e2e2e"/>
<text class="lb" x="417.3" y="105.0" textLength="12.7" lengthAdjust="spacingAndGlyphs">10</text>
<text class="lb" x="455.2" y="101.3" textLength="6.3" lengthAdjust="spacingAndGlyphs">A</text>
<rect x="462.2" y="98.0" width="2.1" height="1.2" fill="#2e2e2e"/>
<text class="lb" x="465.2" y="101.3" textLength="11.3" lengthAdjust="spacingAndGlyphs">11</text>
<text class="lb" x="299.5" y="142.3" textLength="6.3" lengthAdjust="spacingAndGlyphs">A</text>
<rect x="306.5" y="139.0" width="2.1" height="1.2" fill="#2e2e2e"/>
<text class="lb" x="309.5" y="142.3" textLength="5.8" lengthAdjust="spacingAndGlyphs">5</text>
<text class="lb" x="297.0" y="232.0" textLength="6.3" lengthAdjust="spacingAndGlyphs">A</text>
<rect x="304.0" y="228.7" width="2.1" height="1.2" fill="#2e2e2e"/>
<text class="lb" x="307.0" y="232.0" textLength="4.0" lengthAdjust="spacingAndGlyphs">1</text>
<text class="lb" x="272.7" y="239.6" textLength="6.3" lengthAdjust="spacingAndGlyphs">A</text>
<rect x="279.7" y="236.3" width="2.1" height="1.2" fill="#2e2e2e"/>
<text class="lb" x="282.7" y="239.6" textLength="5.6" lengthAdjust="spacingAndGlyphs">6</text>
<text class="lb" x="259.7" y="256.6" textLength="6.3" lengthAdjust="spacingAndGlyphs">A</text>
<rect x="266.7" y="253.3" width="2.1" height="1.2" fill="#2e2e2e"/>
<text class="lb" x="269.7" y="256.6" textLength="5.3" lengthAdjust="spacingAndGlyphs">7</text>
<text class="lb" x="354.7" y="236.3" textLength="6.3" lengthAdjust="spacingAndGlyphs">A</text>
<rect x="361.7" y="233.0" width="2.1" height="1.2" fill="#2e2e2e"/>
<text class="lb" x="364.7" y="236.3" textLength="12.8" lengthAdjust="spacingAndGlyphs">12</text>
<text class="lb" x="346.0" y="250.0" textLength="6.3" lengthAdjust="spacingAndGlyphs">A</text>
<rect x="353.0" y="246.7" width="2.1" height="1.2" fill="#2e2e2e"/>
<text class="lb" x="356.0" y="250.0" textLength="13.0" lengthAdjust="spacingAndGlyphs">13</text>
<text class="lb" x="425.0" y="254.2" textLength="6.3" lengthAdjust="spacingAndGlyphs">A</text>
<rect x="432.0" y="250.9" width="2.1" height="1.2" fill="#2e2e2e"/>
<text class="lb" x="435.0" y="254.2" textLength="4.5" lengthAdjust="spacingAndGlyphs">1</text>
<text class="lb" x="609.2" y="116.9" textLength="6.3" lengthAdjust="spacingAndGlyphs">A</text>
<rect x="616.2" y="113.6" width="2.1" height="1.2" fill="#2e2e2e"/>
<text class="lb" x="619.2" y="116.9" textLength="13.0" lengthAdjust="spacingAndGlyphs">50</text>
<text class="lb" x="661.0" y="179.3" textLength="6.3" lengthAdjust="spacingAndGlyphs">A</text>
<rect x="668.0" y="176.0" width="2.1" height="1.2" fill="#2e2e2e"/>
<text class="lb" x="671.0" y="179.3" textLength="12.0" lengthAdjust="spacingAndGlyphs">51</text>
<text class="lb" x="683.0" y="105.6" textLength="6.3" lengthAdjust="spacingAndGlyphs">A</text>
<rect x="690.0" y="102.3" width="2.1" height="1.2" fill="#2e2e2e"/>
<text class="lb" x="693.0" y="105.6" textLength="13.0" lengthAdjust="spacingAndGlyphs">52</text>
<text class="lb" x="702.5" y="113.4" textLength="6.3" lengthAdjust="spacingAndGlyphs">A</text>
<rect x="709.5" y="110.1" width="2.1" height="1.2" fill="#2e2e2e"/>
<text class="lb" x="712.5" y="113.4" textLength="13.0" lengthAdjust="spacingAndGlyphs">53</text>
<text class="lb" x="721.3" y="185.6" textLength="6.3" lengthAdjust="spacingAndGlyphs">A</text>
<rect x="728.3" y="182.3" width="2.1" height="1.2" fill="#2e2e2e"/>
<text class="lb" x="731.3" y="185.6" textLength="13.0" lengthAdjust="spacingAndGlyphs">54</text>
<text class="lb" x="748.8" y="111.6" textLength="6.3" lengthAdjust="spacingAndGlyphs">A</text>
<rect x="755.8" y="108.3" width="2.1" height="1.2" fill="#2e2e2e"/>
<text class="lb" x="758.8" y="111.6" textLength="13.2" lengthAdjust="spacingAndGlyphs">55</text>
<text class="lb" x="766.4" y="182.5" textLength="6.3" lengthAdjust="spacingAndGlyphs">A</text>
<rect x="773.4" y="179.2" width="2.1" height="1.2" fill="#2e2e2e"/>
<text class="lb" x="776.4" y="182.5" textLength="13.1" lengthAdjust="spacingAndGlyphs">56</text>
<text class="lb" x="780.6" y="121.0" textLength="6.3" lengthAdjust="spacingAndGlyphs">A</text>
<rect x="787.6" y="117.7" width="2.1" height="1.2" fill="#2e2e2e"/>
<text class="lb" x="790.6" y="121.0" textLength="12.8" lengthAdjust="spacingAndGlyphs">57</text>
<text class="lb" x="793.0" y="177.7" textLength="6.3" lengthAdjust="spacingAndGlyphs">A</text>
<rect x="800.0" y="174.4" width="2.1" height="1.2" fill="#2e2e2e"/>
<text class="lb" x="803.0" y="177.7" textLength="13.4" lengthAdjust="spacingAndGlyphs">58</text>
<text class="lb" x="814.0" y="189.0" textLength="6.3" lengthAdjust="spacingAndGlyphs">A</text>
<rect x="821.0" y="185.7" width="2.1" height="1.2" fill="#2e2e2e"/>
<text class="lb" x="824.0" y="189.0" textLength="13.0" lengthAdjust="spacingAndGlyphs">59</text>
<text class="lb" x="870.9" y="90.7" textLength="6.3" lengthAdjust="spacingAndGlyphs">A</text>
<rect x="877.9" y="87.4" width="2.1" height="1.2" fill="#2e2e2e"/>
<text class="lb" x="880.9" y="90.7" textLength="13.1" lengthAdjust="spacingAndGlyphs">60</text>
<text class="lb" x="853.3" y="105.2" textLength="6.3" lengthAdjust="spacingAndGlyphs">A</text>
<rect x="860.3" y="101.9" width="2.1" height="1.2" fill="#2e2e2e"/>
<text class="lb" x="863.3" y="105.2" textLength="11.3" lengthAdjust="spacingAndGlyphs">61</text>
<text class="lb" x="916.0" y="96.4" textLength="6.3" lengthAdjust="spacingAndGlyphs">A</text>
<rect x="923.0" y="93.1" width="2.1" height="1.2" fill="#2e2e2e"/>
<text class="lb" x="926.0" y="96.4" textLength="12.8" lengthAdjust="spacingAndGlyphs">63</text>
<text class="lb" x="969.0" y="122.2" textLength="6.3" lengthAdjust="spacingAndGlyphs">A</text>
<rect x="976.0" y="118.9" width="2.1" height="1.2" fill="#2e2e2e"/>
<text class="lb" x="979.0" y="122.2" textLength="13.0" lengthAdjust="spacingAndGlyphs">64</text>
<text class="lb" x="974.0" y="167.0" textLength="6.3" lengthAdjust="spacingAndGlyphs">A</text>
<rect x="981.0" y="163.7" width="2.1" height="1.2" fill="#2e2e2e"/>
<text class="lb" x="984.0" y="167.0" textLength="13.0" lengthAdjust="spacingAndGlyphs">62</text>
<text class="lb" x="921.8" y="191.5" textLength="6.3" lengthAdjust="spacingAndGlyphs">A</text>
<rect x="928.8" y="188.2" width="2.1" height="1.2" fill="#2e2e2e"/>
<text class="lb" x="931.8" y="191.5" textLength="13.0" lengthAdjust="spacingAndGlyphs">60</text>
<text class="lb" x="876.6" y="186.4" textLength="6.3" lengthAdjust="spacingAndGlyphs">A</text>
<rect x="883.6" y="183.1" width="2.1" height="1.2" fill="#2e2e2e"/>
<text class="lb" x="886.6" y="186.4" textLength="13.1" lengthAdjust="spacingAndGlyphs">65</text>
<text class="lb" x="583.3" y="238.8" textLength="6.3" lengthAdjust="spacingAndGlyphs">A</text>
<rect x="590.3" y="235.5" width="2.1" height="1.2" fill="#2e2e2e"/>
<text class="lb" x="593.3" y="238.8" textLength="13.6" lengthAdjust="spacingAndGlyphs">66</text>
<text class="lb" x="601.3" y="230.2" textLength="6.3" lengthAdjust="spacingAndGlyphs">A</text>
<rect x="608.3" y="226.9" width="2.1" height="1.2" fill="#2e2e2e"/>
<text class="lb" x="611.3" y="230.2" textLength="13.1" lengthAdjust="spacingAndGlyphs">67</text>
<text class="lb" x="622.0" y="301.3" textLength="6.3" lengthAdjust="spacingAndGlyphs">A</text>
<rect x="629.0" y="298.0" width="2.1" height="1.2" fill="#2e2e2e"/>
<text class="lb" x="632.0" y="301.3" textLength="13.0" lengthAdjust="spacingAndGlyphs">68</text>
<text class="lb" x="639.5" y="236.9" textLength="6.3" lengthAdjust="spacingAndGlyphs">A</text>
<rect x="646.5" y="233.6" width="2.1" height="1.2" fill="#2e2e2e"/>
<text class="lb" x="649.5" y="236.9" textLength="13.0" lengthAdjust="spacingAndGlyphs">69</text>
<text class="lb" x="649.2" y="301.3" textLength="6.3" lengthAdjust="spacingAndGlyphs">A</text>
<rect x="656.2" y="298.0" width="2.1" height="1.2" fill="#2e2e2e"/>
<text class="lb" x="659.2" y="301.3" textLength="13.1" lengthAdjust="spacingAndGlyphs">70</text>
<text class="lb" x="664.0" y="233.9" textLength="6.3" lengthAdjust="spacingAndGlyphs">A</text>
<rect x="671.0" y="230.6" width="2.1" height="1.2" fill="#2e2e2e"/>
<text class="lb" x="674.0" y="233.9" textLength="11.8" lengthAdjust="spacingAndGlyphs">71</text>
<text class="lb" x="702.0" y="237.1" textLength="6.3" lengthAdjust="spacingAndGlyphs">A</text>
<rect x="709.0" y="233.8" width="2.1" height="1.2" fill="#2e2e2e"/>
<text class="lb" x="712.0" y="237.1" textLength="13.2" lengthAdjust="spacingAndGlyphs">72</text>
<text class="lb" x="736.2" y="234.4" textLength="6.3" lengthAdjust="spacingAndGlyphs">A</text>
<rect x="743.2" y="231.1" width="2.1" height="1.2" fill="#2e2e2e"/>
<text class="lb" x="746.2" y="234.4" textLength="13.1" lengthAdjust="spacingAndGlyphs">73</text>
<text class="lb" x="758.0" y="223.0" textLength="6.3" lengthAdjust="spacingAndGlyphs">A</text>
<rect x="765.0" y="219.7" width="2.1" height="1.2" fill="#2e2e2e"/>
<text class="lb" x="768.0" y="223.0" textLength="13.0" lengthAdjust="spacingAndGlyphs">82</text>
<text class="lb" x="783.5" y="229.6" textLength="6.3" lengthAdjust="spacingAndGlyphs">A</text>
<rect x="790.5" y="226.3" width="2.1" height="1.2" fill="#2e2e2e"/>
<text class="lb" x="793.5" y="229.6" textLength="13.0" lengthAdjust="spacingAndGlyphs">84</text>
<text class="lb" x="802.7" y="219.3" textLength="6.3" lengthAdjust="spacingAndGlyphs">A</text>
<rect x="809.7" y="216.0" width="2.1" height="1.2" fill="#2e2e2e"/>
<text class="lb" x="812.7" y="219.3" textLength="13.0" lengthAdjust="spacingAndGlyphs">83</text>
<text class="lb" x="809.4" y="305.3" textLength="6.3" lengthAdjust="spacingAndGlyphs">A</text>
<rect x="816.4" y="302.0" width="2.1" height="1.2" fill="#2e2e2e"/>
<text class="lb" x="819.4" y="305.3" textLength="13.1" lengthAdjust="spacingAndGlyphs">74</text>
<text class="lb" x="829.2" y="230.6" textLength="6.3" lengthAdjust="spacingAndGlyphs">A</text>
<rect x="836.2" y="227.3" width="2.1" height="1.2" fill="#2e2e2e"/>
<text class="lb" x="839.2" y="230.6" textLength="13.1" lengthAdjust="spacingAndGlyphs">75</text>
<text class="lb" x="841.8" y="307.8" textLength="6.3" lengthAdjust="spacingAndGlyphs">A</text>
<rect x="848.8" y="304.5" width="2.1" height="1.2" fill="#2e2e2e"/>
<text class="lb" x="851.8" y="307.8" textLength="13.0" lengthAdjust="spacingAndGlyphs">76</text>
<text class="lb" x="872.0" y="307.8" textLength="6.3" lengthAdjust="spacingAndGlyphs">A</text>
<rect x="879.0" y="304.5" width="2.1" height="1.2" fill="#2e2e2e"/>
<text class="lb" x="882.0" y="307.8" textLength="13.0" lengthAdjust="spacingAndGlyphs">77</text>
<text class="lb" x="859.8" y="233.6" textLength="6.3" lengthAdjust="spacingAndGlyphs">A</text>
<rect x="866.8" y="230.3" width="2.1" height="1.2" fill="#2e2e2e"/>
<text class="lb" x="869.8" y="233.6" textLength="13.1" lengthAdjust="spacingAndGlyphs">78</text>
<text class="lb" x="891.7" y="235.6" textLength="6.3" lengthAdjust="spacingAndGlyphs">A</text>
<rect x="898.7" y="232.3" width="2.1" height="1.2" fill="#2e2e2e"/>
<text class="lb" x="901.7" y="235.6" textLength="13.0" lengthAdjust="spacingAndGlyphs">79</text>
<text class="lb" x="907.5" y="300.3" textLength="6.3" lengthAdjust="spacingAndGlyphs">A</text>
<rect x="914.5" y="297.0" width="2.1" height="1.2" fill="#2e2e2e"/>
<text class="lb" x="917.5" y="300.3" textLength="13.0" lengthAdjust="spacingAndGlyphs">80</text>
<text class="lb" x="955.6" y="268.7" textLength="6.3" lengthAdjust="spacingAndGlyphs">A</text>
<rect x="962.6" y="265.4" width="2.1" height="1.2" fill="#2e2e2e"/>
<text class="lb" x="965.6" y="268.7" textLength="11.4" lengthAdjust="spacingAndGlyphs">81</text>
<text class="lb" x="717.4" y="319.1" textLength="6.3" lengthAdjust="spacingAndGlyphs">A</text>
<rect x="724.4" y="315.8" width="2.1" height="1.2" fill="#2e2e2e"/>
<text class="lb" x="727.4" y="319.1" textLength="13.1" lengthAdjust="spacingAndGlyphs">96</text>
<text class="lb" x="782.6" y="335.0" textLength="6.3" lengthAdjust="spacingAndGlyphs">A</text>
<rect x="789.6" y="331.7" width="2.1" height="1.2" fill="#2e2e2e"/>
<text class="lb" x="792.6" y="335.0" textLength="13.1" lengthAdjust="spacingAndGlyphs">95</text>
<text class="lb" x="599.6" y="370.0" textLength="6.3" lengthAdjust="spacingAndGlyphs">A</text>
<rect x="606.6" y="366.7" width="2.1" height="1.2" fill="#2e2e2e"/>
<text class="lb" x="609.6" y="370.0" textLength="13.1" lengthAdjust="spacingAndGlyphs">27</text>
<text class="lb" x="633.2" y="430.8" textLength="6.3" lengthAdjust="spacingAndGlyphs">A</text>
<rect x="640.2" y="427.5" width="2.1" height="1.2" fill="#2e2e2e"/>
<text class="lb" x="643.2" y="430.8" textLength="13.3" lengthAdjust="spacingAndGlyphs">17</text>
<text class="lb" x="669.6" y="372.0" textLength="6.3" lengthAdjust="spacingAndGlyphs">A</text>
<rect x="676.6" y="368.7" width="2.1" height="1.2" fill="#2e2e2e"/>
<text class="lb" x="679.6" y="372.0" textLength="13.0" lengthAdjust="spacingAndGlyphs">28</text>
<text class="lb" x="686.0" y="433.8" textLength="6.3" lengthAdjust="spacingAndGlyphs">A</text>
<rect x="693.0" y="430.5" width="2.1" height="1.2" fill="#2e2e2e"/>
<text class="lb" x="696.0" y="433.8" textLength="13.2" lengthAdjust="spacingAndGlyphs">29</text>
<text class="lb" x="697.4" y="372.0" textLength="6.3" lengthAdjust="spacingAndGlyphs">A</text>
<rect x="704.4" y="368.7" width="2.1" height="1.2" fill="#2e2e2e"/>
<text class="lb" x="707.4" y="372.0" textLength="13.1" lengthAdjust="spacingAndGlyphs">30</text>
<text class="lb" x="712.5" y="435.0" textLength="6.3" lengthAdjust="spacingAndGlyphs">A</text>
<rect x="719.5" y="431.7" width="2.1" height="1.2" fill="#2e2e2e"/>
<text class="lb" x="722.5" y="435.0" textLength="11.8" lengthAdjust="spacingAndGlyphs">31</text>
<text class="lb" x="733.0" y="363.4" textLength="6.3" lengthAdjust="spacingAndGlyphs">A</text>
<rect x="740.0" y="360.1" width="2.1" height="1.2" fill="#2e2e2e"/>
<text class="lb" x="743.0" y="363.4" textLength="13.0" lengthAdjust="spacingAndGlyphs">33</text>
<text class="lb" x="758.5" y="440.6" textLength="6.3" lengthAdjust="spacingAndGlyphs">A</text>
<rect x="765.5" y="437.3" width="2.1" height="1.2" fill="#2e2e2e"/>
<text class="lb" x="768.5" y="440.6" textLength="13.2" lengthAdjust="spacingAndGlyphs">32</text>
<text class="lb" x="780.6" y="367.5" textLength="6.3" lengthAdjust="spacingAndGlyphs">A</text>
<rect x="787.6" y="364.2" width="2.1" height="1.2" fill="#2e2e2e"/>
<text class="lb" x="790.6" y="367.5" textLength="12.1" lengthAdjust="spacingAndGlyphs">31</text>
<text class="lb" x="773.8" y="431.4" textLength="6.3" lengthAdjust="spacingAndGlyphs">A</text>
<rect x="780.8" y="428.1" width="2.1" height="1.2" fill="#2e2e2e"/>
<text class="lb" x="783.8" y="431.4" textLength="13.1" lengthAdjust="spacingAndGlyphs">35</text>
<text class="lb" x="789.4" y="450.2" textLength="6.3" lengthAdjust="spacingAndGlyphs">A</text>
<rect x="796.4" y="446.9" width="2.1" height="1.2" fill="#2e2e2e"/>
<text class="lb" x="799.4" y="450.2" textLength="13.0" lengthAdjust="spacingAndGlyphs">34</text>
<text class="lb" x="801.4" y="435.4" textLength="6.3" lengthAdjust="spacingAndGlyphs">A</text>
<rect x="808.4" y="432.1" width="2.1" height="1.2" fill="#2e2e2e"/>
<text class="lb" x="811.4" y="435.4" textLength="13.1" lengthAdjust="spacingAndGlyphs">28</text>
<text class="lb" x="819.7" y="364.4" textLength="6.3" lengthAdjust="spacingAndGlyphs">A</text>
<rect x="826.7" y="361.1" width="2.1" height="1.2" fill="#2e2e2e"/>
<text class="lb" x="829.7" y="364.4" textLength="13.1" lengthAdjust="spacingAndGlyphs">36</text>
<text class="lb" x="837.0" y="434.2" textLength="6.3" lengthAdjust="spacingAndGlyphs">A</text>
<rect x="844.0" y="430.9" width="2.1" height="1.2" fill="#2e2e2e"/>
<text class="lb" x="847.0" y="434.2" textLength="13.3" lengthAdjust="spacingAndGlyphs">37</text>
<text class="lb" x="851.0" y="372.0" textLength="6.3" lengthAdjust="spacingAndGlyphs">A</text>
<rect x="858.0" y="368.7" width="2.1" height="1.2" fill="#2e2e2e"/>
<text class="lb" x="861.0" y="372.0" textLength="13.0" lengthAdjust="spacingAndGlyphs">39</text>
<text class="lb" x="860.8" y="443.0" textLength="6.3" lengthAdjust="spacingAndGlyphs">A</text>
<rect x="867.8" y="439.7" width="2.1" height="1.2" fill="#2e2e2e"/>
<text class="lb" x="870.8" y="443.0" textLength="13.2" lengthAdjust="spacingAndGlyphs">40</text>
<text class="lb" x="892.2" y="419.0" textLength="6.3" lengthAdjust="spacingAndGlyphs">A</text>
<rect x="899.2" y="415.7" width="2.1" height="1.2" fill="#2e2e2e"/>
<text class="lb" x="902.2" y="419.0" textLength="13.0" lengthAdjust="spacingAndGlyphs">38</text>
<text class="lb" x="911.0" y="399.0" textLength="6.3" lengthAdjust="spacingAndGlyphs">A</text>
<rect x="918.0" y="395.7" width="2.1" height="1.2" fill="#2e2e2e"/>
<text class="lb" x="921.0" y="399.0" textLength="13.3" lengthAdjust="spacingAndGlyphs">37</text>
<text class="lb" x="643.0" y="526.2" textLength="6.3" lengthAdjust="spacingAndGlyphs">A</text>
<rect x="650.0" y="522.9" width="2.1" height="1.2" fill="#2e2e2e"/>
<text class="lb" x="653.0" y="526.2" textLength="13.2" lengthAdjust="spacingAndGlyphs">90</text>
<text class="lb" x="662.5" y="591.0" textLength="6.3" lengthAdjust="spacingAndGlyphs">A</text>
<rect x="669.5" y="587.7" width="2.1" height="1.2" fill="#2e2e2e"/>
<text class="lb" x="672.5" y="591.0" textLength="13.2" lengthAdjust="spacingAndGlyphs">89</text>
<text class="lb" x="681.2" y="574.2" textLength="6.3" lengthAdjust="spacingAndGlyphs">A</text>
<rect x="688.2" y="570.9" width="2.1" height="1.2" fill="#2e2e2e"/>
<text class="lb" x="691.2" y="574.2" textLength="13.0" lengthAdjust="spacingAndGlyphs">86</text>
<text class="lb" x="710.7" y="607.5" textLength="6.3" lengthAdjust="spacingAndGlyphs">A</text>
<rect x="717.7" y="604.2" width="2.1" height="1.2" fill="#2e2e2e"/>
<text class="lb" x="720.7" y="607.5" textLength="13.0" lengthAdjust="spacingAndGlyphs">82</text>
<text class="lb" x="738.7" y="520.5" textLength="6.3" lengthAdjust="spacingAndGlyphs">A</text>
<rect x="745.7" y="517.2" width="2.1" height="1.2" fill="#2e2e2e"/>
<text class="lb" x="748.7" y="520.5" textLength="13.0" lengthAdjust="spacingAndGlyphs">85</text>
<text class="lb" x="765.5" y="518.5" textLength="6.3" lengthAdjust="spacingAndGlyphs">A</text>
<rect x="772.5" y="515.2" width="2.1" height="1.2" fill="#2e2e2e"/>
<text class="lb" x="775.5" y="518.5" textLength="13.0" lengthAdjust="spacingAndGlyphs">97</text>
<text class="lb" x="793.7" y="514.2" textLength="6.3" lengthAdjust="spacingAndGlyphs">A</text>
<rect x="800.7" y="510.9" width="2.1" height="1.2" fill="#2e2e2e"/>
<text class="lb" x="803.7" y="514.2" textLength="12.0" lengthAdjust="spacingAndGlyphs">91</text>
<text class="lb" x="806.2" y="580.5" textLength="6.3" lengthAdjust="spacingAndGlyphs">A</text>
<rect x="813.2" y="577.2" width="2.1" height="1.2" fill="#2e2e2e"/>
<text class="lb" x="816.2" y="580.5" textLength="13.0" lengthAdjust="spacingAndGlyphs">92</text>
<text class="lb" x="823.0" y="516.7" textLength="6.3" lengthAdjust="spacingAndGlyphs">A</text>
<rect x="830.0" y="513.4" width="2.1" height="1.2" fill="#2e2e2e"/>
<text class="lb" x="833.0" y="516.7" textLength="13.2" lengthAdjust="spacingAndGlyphs">88</text>
<text class="lb" x="835.0" y="564.2" textLength="6.3" lengthAdjust="spacingAndGlyphs">A</text>
<rect x="842.0" y="560.9" width="2.1" height="1.2" fill="#2e2e2e"/>
<text class="lb" x="845.0" y="564.2" textLength="13.0" lengthAdjust="spacingAndGlyphs">94</text>
<text class="lb" x="875.5" y="539.0" textLength="6.3" lengthAdjust="spacingAndGlyphs">A</text>
<rect x="882.5" y="535.7" width="2.1" height="1.2" fill="#2e2e2e"/>
<text class="lb" x="885.5" y="539.0" textLength="12.5" lengthAdjust="spacingAndGlyphs">93</text>
<text class="lb" x="755.0" y="601.7" textLength="6.3" lengthAdjust="spacingAndGlyphs">A</text>
<rect x="762.0" y="598.4" width="2.1" height="1.2" fill="#2e2e2e"/>
<text class="lb" x="765.0" y="601.7" textLength="13.0" lengthAdjust="spacingAndGlyphs">87</text>
<text class="lb" x="48.8" y="504.6" textLength="6.3" lengthAdjust="spacingAndGlyphs">A</text>
<rect x="55.8" y="501.3" width="2.1" height="1.2" fill="#2e2e2e"/>
<text class="lb" x="58.8" y="504.6" textLength="13.0" lengthAdjust="spacingAndGlyphs">14</text>
<text class="lb" x="76.4" y="426.9" textLength="6.3" lengthAdjust="spacingAndGlyphs">A</text>
<rect x="83.4" y="423.6" width="2.1" height="1.2" fill="#2e2e2e"/>
<text class="lb" x="86.4" y="426.9" textLength="13.0" lengthAdjust="spacingAndGlyphs">15</text>
<text class="lb" x="105.2" y="424.4" textLength="6.3" lengthAdjust="spacingAndGlyphs">A</text>
<rect x="112.2" y="421.1" width="2.1" height="1.2" fill="#2e2e2e"/>
<text class="lb" x="115.2" y="424.4" textLength="13.1" lengthAdjust="spacingAndGlyphs">16</text>
<text class="lb" x="123.2" y="503.9" textLength="6.3" lengthAdjust="spacingAndGlyphs">A</text>
<rect x="130.2" y="500.6" width="2.1" height="1.2" fill="#2e2e2e"/>
<text class="lb" x="133.2" y="503.9" textLength="13.1" lengthAdjust="spacingAndGlyphs">19</text>
<text class="lb" x="144.8" y="510.0" textLength="6.3" lengthAdjust="spacingAndGlyphs">A</text>
<rect x="151.8" y="506.7" width="2.1" height="1.2" fill="#2e2e2e"/>
<text class="lb" x="154.8" y="510.0" textLength="13.1" lengthAdjust="spacingAndGlyphs">20</text>
<text class="lb" x="169.6" y="484.0" textLength="13.8" lengthAdjust="spacingAndGlyphs">RH</text>
<text class="lb" x="199.5" y="401.0" textLength="6.3" lengthAdjust="spacingAndGlyphs">A</text>
<rect x="206.5" y="397.7" width="2.1" height="1.2" fill="#2e2e2e"/>
<text class="lb" x="209.5" y="401.0" textLength="13.0" lengthAdjust="spacingAndGlyphs">17</text>
<text class="lb" x="239.3" y="426.4" textLength="6.3" lengthAdjust="spacingAndGlyphs">A</text>
<rect x="246.3" y="423.1" width="2.1" height="1.2" fill="#2e2e2e"/>
<text class="lb" x="249.3" y="426.4" textLength="13.1" lengthAdjust="spacingAndGlyphs">23</text>
<text class="lb" x="226.8" y="510.0" textLength="6.3" lengthAdjust="spacingAndGlyphs">A</text>
<rect x="233.8" y="506.7" width="2.1" height="1.2" fill="#2e2e2e"/>
<text class="lb" x="236.8" y="510.0" textLength="13.1" lengthAdjust="spacingAndGlyphs">18</text>
<text class="lb" x="262.0" y="437.4" textLength="6.3" lengthAdjust="spacingAndGlyphs">A</text>
<rect x="269.0" y="434.1" width="2.1" height="1.2" fill="#2e2e2e"/>
<text class="lb" x="272.0" y="437.4" textLength="13.0" lengthAdjust="spacingAndGlyphs">22</text>
<text class="lb" x="263.8" y="488.8" textLength="6.3" lengthAdjust="spacingAndGlyphs">A</text>
<rect x="270.8" y="485.5" width="2.1" height="1.2" fill="#2e2e2e"/>
<text class="lb" x="273.8" y="488.8" textLength="13.1" lengthAdjust="spacingAndGlyphs">24</text>
<text class="lb" x="339.5" y="434.4" textLength="6.3" lengthAdjust="spacingAndGlyphs">A</text>
<rect x="346.5" y="431.1" width="2.1" height="1.2" fill="#2e2e2e"/>
<text class="lb" x="349.5" y="434.4" textLength="13.1" lengthAdjust="spacingAndGlyphs">22</text>
<text class="lb" x="291.4" y="531.0" textLength="6.3" lengthAdjust="spacingAndGlyphs">A</text>
<rect x="298.4" y="527.7" width="2.1" height="1.2" fill="#2e2e2e"/>
<text class="lb" x="301.4" y="531.0" textLength="13.0" lengthAdjust="spacingAndGlyphs">25</text>
<text class="lb" x="310.7" y="514.7" textLength="6.3" lengthAdjust="spacingAndGlyphs">A</text>
<rect x="317.7" y="511.4" width="2.1" height="1.2" fill="#2e2e2e"/>
<text class="lb" x="320.7" y="514.7" textLength="13.1" lengthAdjust="spacingAndGlyphs">26</text>
<text class="lb" x="362.0" y="500.4" textLength="6.3" lengthAdjust="spacingAndGlyphs">A</text>
<rect x="369.0" y="497.1" width="2.1" height="1.2" fill="#2e2e2e"/>
<text class="lb" x="372.0" y="500.4" textLength="13.0" lengthAdjust="spacingAndGlyphs">23</text>
<text class="lb" x="384.0" y="426.4" textLength="6.3" lengthAdjust="spacingAndGlyphs">A</text>
<rect x="391.0" y="423.1" width="2.1" height="1.2" fill="#2e2e2e"/>
<text class="lb" x="394.0" y="426.4" textLength="13.0" lengthAdjust="spacingAndGlyphs">20</text>
<text class="lb" x="413.5" y="477.8" textLength="12.8" lengthAdjust="spacingAndGlyphs">LH</text>
<text class="lb" x="411.7" y="426.0" textLength="6.3" lengthAdjust="spacingAndGlyphs">A</text>
<rect x="418.7" y="422.7" width="2.1" height="1.2" fill="#2e2e2e"/>
<text class="lb" x="421.7" y="426.0" textLength="12.1" lengthAdjust="spacingAndGlyphs">21</text>
<text class="lb" x="421.3" y="500.4" textLength="6.3" lengthAdjust="spacingAndGlyphs">A</text>
<rect x="428.3" y="497.1" width="2.1" height="1.2" fill="#2e2e2e"/>
<text class="lb" x="431.3" y="500.4" textLength="13.0" lengthAdjust="spacingAndGlyphs">16</text>
<text class="lb" x="443.0" y="432.0" textLength="6.3" lengthAdjust="spacingAndGlyphs">A</text>
<rect x="450.0" y="428.7" width="2.1" height="1.2" fill="#2e2e2e"/>
<text class="lb" x="453.0" y="432.0" textLength="13.0" lengthAdjust="spacingAndGlyphs">15</text>
<text class="lb" x="468.2" y="501.4" textLength="6.3" lengthAdjust="spacingAndGlyphs">A</text>
<rect x="475.2" y="498.1" width="2.1" height="1.2" fill="#2e2e2e"/>
<text class="lb" x="478.2" y="501.4" textLength="13.0" lengthAdjust="spacingAndGlyphs">14</text>
<line x1="788.1" y1="46.5" x2="861.5" y2="46.5" stroke="#111" stroke-width="1.8" stroke-dasharray="1.5 1 1.5 1 8 1 1.5 1 20 1 2 1 4 1 22 1 1.5 1 1.5 1 1.5 1"/><line x1="788.1" y1="84.1" x2="861.5" y2="84.1" stroke="#111" stroke-width="1.8" stroke-dasharray="1.5 1 1.5 1 8 1 1.5 1 20 1 2 1 4 1 22 1 1.5 1 1.5 1 1.5 1"/><line x1="788.1" y1="46.5" x2="788.1" y2="84.1" stroke="#111" stroke-width="1.8" stroke-dasharray="3 1 18 1.2 12 1 3"/><line x1="861.5" y1="46.5" x2="861.5" y2="84.1" stroke="#111" stroke-width="1.8" stroke-dasharray="3 1 18 1.2 12 1 3"/>
<text x="802.0" y="57.2" textLength="51.0" lengthAdjust="spacingAndGlyphs" font-weight="normal" fill="#2a2a2a" stroke="#2a2a2a" stroke-width="0.15"><tspan font-size="7.1">I</tspan><tspan font-size="5.6">N</tspan><tspan font-size="5.6">T</tspan><tspan font-size="5.6">E</tspan><tspan font-size="5.6">R</tspan><tspan font-size="5.6">-</tspan><tspan font-size="7.1">A</tspan><tspan font-size="5.6">X</tspan><tspan font-size="5.6">L</tspan><tspan font-size="5.6">E</tspan></text>
<text x="794.9" y="68.6" textLength="60.8" lengthAdjust="spacingAndGlyphs" font-weight="normal" fill="#2a2a2a" stroke="#2a2a2a" stroke-width="0.15"><tspan font-size="7.1">D</tspan><tspan font-size="5.6">I</tspan><tspan font-size="5.6">F</tspan><tspan font-size="5.6">F</tspan><tspan font-size="5.6">E</tspan><tspan font-size="5.6">R</tspan><tspan font-size="5.6">E</tspan><tspan font-size="5.6">N</tspan><tspan font-size="5.6">T</tspan><tspan font-size="5.6">I</tspan><tspan font-size="5.6">A</tspan><tspan font-size="5.6">L</tspan></text>
<text x="803.6" y="79.8" textLength="46.5" lengthAdjust="spacingAndGlyphs" font-weight="normal" fill="#2a2a2a" stroke="#2a2a2a" stroke-width="0.15"><tspan font-size="7.1">A</tspan><tspan font-size="5.6">S</tspan><tspan font-size="5.6">S</tspan><tspan font-size="5.6">E</tspan><tspan font-size="5.6">M</tspan><tspan font-size="5.6">B</tspan><tspan font-size="5.6">L</tspan><tspan font-size="5.6">Y</tspan></text>
<line x1="307.5" y1="288.2" x2="379.1" y2="288.2" stroke="#111" stroke-width="1.8" stroke-dasharray="2 1 1.5 1 12 1 2 1 13 1 2 1 12 1 2 1 12 1 1.5 1"/><line x1="307.5" y1="314.6" x2="379.1" y2="314.6" stroke="#111" stroke-width="1.8" stroke-dasharray="2 1 1.5 1 12 1 2 1 13 1 2 1 12 1 2 1 12 1 1.5 1"/><line x1="307.5" y1="288.2" x2="307.5" y2="314.6" stroke="#111" stroke-width="1.8" stroke-dasharray="2 1 9 2 9 1 2"/><line x1="379.1" y1="288.2" x2="379.1" y2="314.6" stroke="#111" stroke-width="1.8" stroke-dasharray="2 1 9 2 9 1 2"/>
<text x="312.0" y="298.5" textLength="62.0" lengthAdjust="spacingAndGlyphs" font-weight="normal" fill="#2a2a2a" stroke="#2a2a2a" stroke-width="0.15"><tspan font-size="7.1">D</tspan><tspan font-size="5.6">I</tspan><tspan font-size="5.6">F</tspan><tspan font-size="5.6">F</tspan><tspan font-size="5.6">E</tspan><tspan font-size="5.6">R</tspan><tspan font-size="5.6">E</tspan><tspan font-size="5.6">N</tspan><tspan font-size="5.6">T</tspan><tspan font-size="5.6">I</tspan><tspan font-size="5.6">A</tspan><tspan font-size="5.6">L</tspan></text>
<text x="312.0" y="309.9" textLength="62.0" lengthAdjust="spacingAndGlyphs" font-weight="normal" fill="#2a2a2a" stroke="#2a2a2a" stroke-width="0.15"><tspan font-size="7.1">&amp;</tspan><tspan font-size="5.6"> </tspan><tspan font-size="7.1">R</tspan><tspan font-size="5.6">I</tspan><tspan font-size="5.6">N</tspan><tspan font-size="5.6">G</tspan><tspan font-size="5.6"> </tspan><tspan font-size="7.1">G</tspan><tspan font-size="5.6">E</tspan><tspan font-size="5.6">A</tspan><tspan font-size="5.6">R</tspan></text>
<line x1="877.4" y1="318.5" x2="953.3" y2="318.5" stroke="#111" stroke-width="1.8" stroke-dasharray="4 1 48 1 17 1 2 1 2"/><line x1="877.4" y1="365.8" x2="953.3" y2="365.8" stroke="#111" stroke-width="1.8" stroke-dasharray="4 1 48 1 17 1 2 1 2"/><line x1="877.4" y1="318.5" x2="877.4" y2="365.8" stroke="#111" stroke-width="1.3" stroke-dasharray="1.2 1.1"/><line x1="953.3" y1="318.5" x2="953.3" y2="365.8" stroke="#111" stroke-width="1.3" stroke-dasharray="1.2 1.1"/>
<text x="884.8" y="327.5" textLength="61.4" lengthAdjust="spacingAndGlyphs" font-weight="normal" fill="#2a2a2a" stroke="#2a2a2a" stroke-width="0.15"><tspan font-size="7.1">T</tspan><tspan font-size="5.6">H</tspan><tspan font-size="5.6">E</tspan><tspan font-size="5.6">S</tspan><tspan font-size="5.6">E</tspan><tspan font-size="5.6"> </tspan><tspan font-size="7.1">P</tspan><tspan font-size="5.6">A</tspan><tspan font-size="5.6">R</tspan><tspan font-size="5.6">T</tspan><tspan font-size="5.6">S</tspan></text>
<text x="880.0" y="338.8" textLength="65.7" lengthAdjust="spacingAndGlyphs" font-weight="normal" fill="#2a2a2a" stroke="#2a2a2a" stroke-width="0.15"><tspan font-size="7.1">A</tspan><tspan font-size="5.6">R</tspan><tspan font-size="5.6">E</tspan><tspan font-size="5.6"> </tspan><tspan font-size="7.1">M</tspan><tspan font-size="5.6">O</tspan><tspan font-size="5.6">U</tspan><tspan font-size="5.6">N</tspan><tspan font-size="5.6">T</tspan><tspan font-size="5.6">E</tspan><tspan font-size="5.6">D</tspan></text>
<text x="901.9" y="350.4" textLength="44.3" lengthAdjust="spacingAndGlyphs" font-weight="normal" fill="#2a2a2a" stroke="#2a2a2a" stroke-width="0.15"><tspan font-size="7.1">I</tspan><tspan font-size="5.6">N</tspan><tspan font-size="5.6"> </tspan><tspan font-size="7.1">P</tspan><tspan font-size="5.6">O</tspan><tspan font-size="5.6">W</tspan><tspan font-size="5.6">E</tspan><tspan font-size="5.6">R</tspan></text>
<text x="880.0" y="362.0" textLength="69.5" lengthAdjust="spacingAndGlyphs" font-weight="normal" fill="#2a2a2a" stroke="#2a2a2a" stroke-width="0.15"><tspan font-size="7.1">D</tspan><tspan font-size="5.6">I</tspan><tspan font-size="5.6">V</tspan><tspan font-size="5.6">I</tspan><tspan font-size="5.6">D</tspan><tspan font-size="5.6">E</tspan><tspan font-size="5.6">R</tspan><tspan font-size="5.6"> </tspan><tspan font-size="7.1">C</tspan><tspan font-size="5.6">O</tspan><tspan font-size="5.6">V</tspan><tspan font-size="5.6">E</tspan><tspan font-size="5.6">R</tspan></text>
<line x1="626.2" y1="486.8" x2="916.6" y2="486.8" stroke="#111" stroke-width="1.7" stroke-dasharray="14 0.7 0.9 0.7"/><line x1="626.2" y1="621.5" x2="916.6" y2="621.5" stroke="#111" stroke-width="1.7" stroke-dasharray="14 0.7 0.9 0.7"/><line x1="626.2" y1="486.8" x2="626.2" y2="621.5" stroke="#111" stroke-width="1.7" stroke-dasharray="12.4 0.9 0.9 0.9"/><line x1="916.6" y1="486.8" x2="916.6" y2="621.5" stroke="#111" stroke-width="1.7" stroke-dasharray="12.4 0.9 0.9 0.9"/>
<text x="635.2" y="498.8" font-size="9px" fill="#4f4f4f" textLength="53.8" lengthAdjust="spacingAndGlyphs">Lube Pump</text>
<text x="449" y="640.1" font-size="17px" font-weight="bold" fill="#222" textLength="93" lengthAdjust="spacingAndGlyphs">RS144-D</text>
</svg></body></html>
